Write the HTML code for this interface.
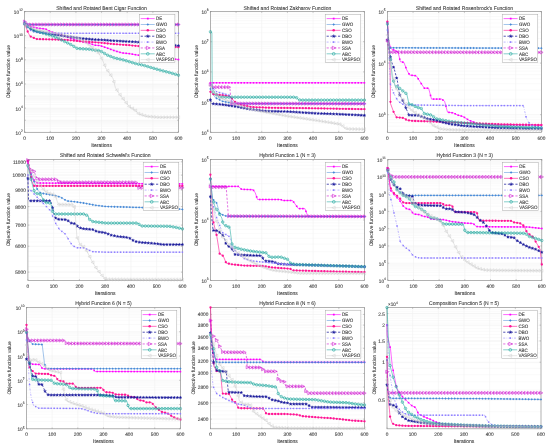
<!DOCTYPE html>
<html lang="en"><head><meta charset="utf-8"><title>Convergence curves</title>
<style>html,body{margin:0;padding:0;background:#fff}body{width:550px;height:448px;overflow:hidden}svg{display:block;text-rendering:geometricPrecision}text{stroke:#3a3a3a;stroke-width:0.09px}</style>
</head><body>
<svg width="550" height="448" viewBox="0 0 550 448" font-family='"Liberation Sans", Arial, sans-serif' fill="#3a3a3a">
<rect width="550" height="448" fill="#fff"/>
<marker id="mDE" markerUnits="userSpaceOnUse" markerWidth="8" markerHeight="8" refX="4" refY="4" viewBox="0 0 8 8" overflow="visible"><rect x="3.2" y="3.2" width="1.6" height="1.6" fill="#ff00ff"/></marker>
<marker id="mGWO" markerUnits="userSpaceOnUse" markerWidth="8" markerHeight="8" refX="4" refY="4" viewBox="0 0 8 8" overflow="visible"><path d="M2.85 4L4 2.85L5.15 4L4 5.15Z" fill="#4488d6"/></marker>
<marker id="mCSO" markerUnits="userSpaceOnUse" markerWidth="8" markerHeight="8" refX="4" refY="4" viewBox="0 0 8 8" overflow="visible"><circle cx="4" cy="4" r="1.15" fill="#ff1493"/></marker>
<marker id="mDBO" markerUnits="userSpaceOnUse" markerWidth="8" markerHeight="8" refX="4" refY="4" viewBox="0 0 8 8" overflow="visible"><polygon points="4,2.45 4.38,3.47 5.47,3.52 4.62,4.2 4.91,5.25 4,4.65 3.09,5.25 3.38,4.2 2.53,3.52 3.62,3.47" fill="#1c1c9c" stroke="#1c1c9c" stroke-width="0.3"/></marker>
<marker id="mBWO" markerUnits="userSpaceOnUse" markerWidth="8" markerHeight="8" refX="4" refY="4" viewBox="0 0 8 8" overflow="visible"><rect x="3.27" y="3.27" width="1.45" height="1.45" fill="#8c7cff"/></marker>
<marker id="mSSA" markerUnits="userSpaceOnUse" markerWidth="8" markerHeight="8" refX="4" refY="4" viewBox="0 0 8 8" overflow="visible"><path d="M2.7 2.44L5.82 4L2.7 5.56Z" fill="none" stroke="#d016d0" stroke-width="0.55"/></marker>
<marker id="mABC" markerUnits="userSpaceOnUse" markerWidth="8" markerHeight="8" refX="4" refY="4" viewBox="0 0 8 8" overflow="visible"><circle cx="4" cy="4" r="1.25" fill="none" stroke="#1fa79d" stroke-width="0.62"/></marker>
<marker id="mVASPSO" markerUnits="userSpaceOnUse" markerWidth="8" markerHeight="8" refX="4" refY="4" viewBox="0 0 8 8" overflow="visible"><path d="M5.25 2.5L2.25 4L5.25 5.5Z" fill="none" stroke="#c8c8c8" stroke-width="0.4"/></marker>
<path d="M50.25 11.5V132.3" stroke="#efefef" stroke-width="0.5"/><path d="M75.9 11.5V132.3" stroke="#efefef" stroke-width="0.5"/><path d="M101.55 11.5V132.3" stroke="#efefef" stroke-width="0.5"/><path d="M127.2 11.5V132.3" stroke="#efefef" stroke-width="0.5"/><path d="M152.85 11.5V132.3" stroke="#efefef" stroke-width="0.5"/><path d="M24.6 128.66H178.5" stroke="#f3f3f3" stroke-width="0.4"/><path d="M24.6 126.54H178.5" stroke="#f3f3f3" stroke-width="0.4"/><path d="M24.6 125.03H178.5" stroke="#f3f3f3" stroke-width="0.4"/><path d="M24.6 123.86H178.5" stroke="#f3f3f3" stroke-width="0.4"/><path d="M24.6 122.9H178.5" stroke="#f3f3f3" stroke-width="0.4"/><path d="M24.6 122.09H178.5" stroke="#f3f3f3" stroke-width="0.4"/><path d="M24.6 121.39H178.5" stroke="#f3f3f3" stroke-width="0.4"/><path d="M24.6 120.77H178.5" stroke="#f3f3f3" stroke-width="0.4"/><path d="M24.6 116.58H178.5" stroke="#f3f3f3" stroke-width="0.4"/><path d="M24.6 114.46H178.5" stroke="#f3f3f3" stroke-width="0.4"/><path d="M24.6 112.95H178.5" stroke="#f3f3f3" stroke-width="0.4"/><path d="M24.6 111.78H178.5" stroke="#f3f3f3" stroke-width="0.4"/><path d="M24.6 110.82H178.5" stroke="#f3f3f3" stroke-width="0.4"/><path d="M24.6 110.01H178.5" stroke="#f3f3f3" stroke-width="0.4"/><path d="M24.6 109.31H178.5" stroke="#f3f3f3" stroke-width="0.4"/><path d="M24.6 108.69H178.5" stroke="#f3f3f3" stroke-width="0.4"/><path d="M24.6 104.5H178.5" stroke="#f3f3f3" stroke-width="0.4"/><path d="M24.6 102.38H178.5" stroke="#f3f3f3" stroke-width="0.4"/><path d="M24.6 100.87H178.5" stroke="#f3f3f3" stroke-width="0.4"/><path d="M24.6 99.7H178.5" stroke="#f3f3f3" stroke-width="0.4"/><path d="M24.6 98.74H178.5" stroke="#f3f3f3" stroke-width="0.4"/><path d="M24.6 97.93H178.5" stroke="#f3f3f3" stroke-width="0.4"/><path d="M24.6 97.23H178.5" stroke="#f3f3f3" stroke-width="0.4"/><path d="M24.6 96.61H178.5" stroke="#f3f3f3" stroke-width="0.4"/><path d="M24.6 92.42H178.5" stroke="#f3f3f3" stroke-width="0.4"/><path d="M24.6 90.3H178.5" stroke="#f3f3f3" stroke-width="0.4"/><path d="M24.6 88.79H178.5" stroke="#f3f3f3" stroke-width="0.4"/><path d="M24.6 87.62H178.5" stroke="#f3f3f3" stroke-width="0.4"/><path d="M24.6 86.66H178.5" stroke="#f3f3f3" stroke-width="0.4"/><path d="M24.6 85.85H178.5" stroke="#f3f3f3" stroke-width="0.4"/><path d="M24.6 85.15H178.5" stroke="#f3f3f3" stroke-width="0.4"/><path d="M24.6 84.53H178.5" stroke="#f3f3f3" stroke-width="0.4"/><path d="M24.6 80.34H178.5" stroke="#f3f3f3" stroke-width="0.4"/><path d="M24.6 78.22H178.5" stroke="#f3f3f3" stroke-width="0.4"/><path d="M24.6 76.71H178.5" stroke="#f3f3f3" stroke-width="0.4"/><path d="M24.6 75.54H178.5" stroke="#f3f3f3" stroke-width="0.4"/><path d="M24.6 74.58H178.5" stroke="#f3f3f3" stroke-width="0.4"/><path d="M24.6 73.77H178.5" stroke="#f3f3f3" stroke-width="0.4"/><path d="M24.6 73.07H178.5" stroke="#f3f3f3" stroke-width="0.4"/><path d="M24.6 72.45H178.5" stroke="#f3f3f3" stroke-width="0.4"/><path d="M24.6 68.26H178.5" stroke="#f3f3f3" stroke-width="0.4"/><path d="M24.6 66.14H178.5" stroke="#f3f3f3" stroke-width="0.4"/><path d="M24.6 64.63H178.5" stroke="#f3f3f3" stroke-width="0.4"/><path d="M24.6 63.46H178.5" stroke="#f3f3f3" stroke-width="0.4"/><path d="M24.6 62.5H178.5" stroke="#f3f3f3" stroke-width="0.4"/><path d="M24.6 61.69H178.5" stroke="#f3f3f3" stroke-width="0.4"/><path d="M24.6 60.99H178.5" stroke="#f3f3f3" stroke-width="0.4"/><path d="M24.6 60.37H178.5" stroke="#f3f3f3" stroke-width="0.4"/><path d="M24.6 56.18H178.5" stroke="#f3f3f3" stroke-width="0.4"/><path d="M24.6 54.06H178.5" stroke="#f3f3f3" stroke-width="0.4"/><path d="M24.6 52.55H178.5" stroke="#f3f3f3" stroke-width="0.4"/><path d="M24.6 51.38H178.5" stroke="#f3f3f3" stroke-width="0.4"/><path d="M24.6 50.42H178.5" stroke="#f3f3f3" stroke-width="0.4"/><path d="M24.6 49.61H178.5" stroke="#f3f3f3" stroke-width="0.4"/><path d="M24.6 48.91H178.5" stroke="#f3f3f3" stroke-width="0.4"/><path d="M24.6 48.29H178.5" stroke="#f3f3f3" stroke-width="0.4"/><path d="M24.6 44.1H178.5" stroke="#f3f3f3" stroke-width="0.4"/><path d="M24.6 41.98H178.5" stroke="#f3f3f3" stroke-width="0.4"/><path d="M24.6 40.47H178.5" stroke="#f3f3f3" stroke-width="0.4"/><path d="M24.6 39.3H178.5" stroke="#f3f3f3" stroke-width="0.4"/><path d="M24.6 38.34H178.5" stroke="#f3f3f3" stroke-width="0.4"/><path d="M24.6 37.53H178.5" stroke="#f3f3f3" stroke-width="0.4"/><path d="M24.6 36.83H178.5" stroke="#f3f3f3" stroke-width="0.4"/><path d="M24.6 36.21H178.5" stroke="#f3f3f3" stroke-width="0.4"/><path d="M24.6 32.02H178.5" stroke="#f3f3f3" stroke-width="0.4"/><path d="M24.6 29.9H178.5" stroke="#f3f3f3" stroke-width="0.4"/><path d="M24.6 28.39H178.5" stroke="#f3f3f3" stroke-width="0.4"/><path d="M24.6 27.22H178.5" stroke="#f3f3f3" stroke-width="0.4"/><path d="M24.6 26.26H178.5" stroke="#f3f3f3" stroke-width="0.4"/><path d="M24.6 25.45H178.5" stroke="#f3f3f3" stroke-width="0.4"/><path d="M24.6 24.75H178.5" stroke="#f3f3f3" stroke-width="0.4"/><path d="M24.6 24.13H178.5" stroke="#f3f3f3" stroke-width="0.4"/><path d="M24.6 19.94H178.5" stroke="#f3f3f3" stroke-width="0.4"/><path d="M24.6 17.82H178.5" stroke="#f3f3f3" stroke-width="0.4"/><path d="M24.6 16.31H178.5" stroke="#f3f3f3" stroke-width="0.4"/><path d="M24.6 15.14H178.5" stroke="#f3f3f3" stroke-width="0.4"/><path d="M24.6 14.18H178.5" stroke="#f3f3f3" stroke-width="0.4"/><path d="M24.6 13.37H178.5" stroke="#f3f3f3" stroke-width="0.4"/><path d="M24.6 12.67H178.5" stroke="#f3f3f3" stroke-width="0.4"/><path d="M24.6 12.05H178.5" stroke="#f3f3f3" stroke-width="0.4"/><path d="M24.6 120.22H178.5" stroke="#efefef" stroke-width="0.5"/><path d="M24.6 108.14H178.5" stroke="#efefef" stroke-width="0.5"/><path d="M24.6 96.06H178.5" stroke="#efefef" stroke-width="0.5"/><path d="M24.6 83.98H178.5" stroke="#efefef" stroke-width="0.5"/><path d="M24.6 71.9H178.5" stroke="#efefef" stroke-width="0.5"/><path d="M24.6 59.82H178.5" stroke="#efefef" stroke-width="0.5"/><path d="M24.6 47.74H178.5" stroke="#efefef" stroke-width="0.5"/><path d="M24.6 35.66H178.5" stroke="#efefef" stroke-width="0.5"/><path d="M24.6 23.58H178.5" stroke="#efefef" stroke-width="0.5"/>
<rect x="24.6" y="11.5" width="153.9" height="120.8" fill="none" stroke="#909090" stroke-width="0.7"/>
<path d="M24.6 132.3v-1.4M24.6 11.5v1.4M50.25 132.3v-1.4M50.25 11.5v1.4M75.9 132.3v-1.4M75.9 11.5v1.4M101.55 132.3v-1.4M101.55 11.5v1.4M127.2 132.3v-1.4M127.2 11.5v1.4M152.85 132.3v-1.4M152.85 11.5v1.4M178.5 132.3v-1.4M178.5 11.5v1.4M24.6 132.3h1.4M178.5 132.3h-1.4M24.6 120.22h1.4M178.5 120.22h-1.4M24.6 108.14h1.4M178.5 108.14h-1.4M24.6 96.06h1.4M178.5 96.06h-1.4M24.6 83.98h1.4M178.5 83.98h-1.4M24.6 71.9h1.4M178.5 71.9h-1.4M24.6 59.82h1.4M178.5 59.82h-1.4M24.6 47.74h1.4M178.5 47.74h-1.4M24.6 35.66h1.4M178.5 35.66h-1.4M24.6 23.58h1.4M178.5 23.58h-1.4M24.6 11.5h1.4M178.5 11.5h-1.4" stroke="#909090" stroke-width="0.45" fill="none"/>
<clipPath id="c13"><rect x="22.6" y="9.5" width="157.9" height="124.8"/></clipPath><g clip-path="url(#c13)"><path d="M24.6 23.8L30.7 26.7L38 28.2L45.3 28.9L51.1 31.8L58.4 34L65.6 36.2L72.9 39.1L80.2 41.3L87.5 42.7L94.7 45.2L100 45.6L107.3 48.1L114.5 50.7L121.8 52.9L129.1 53.6L137.8 55.1L160 57.5L178.5 59.5" fill="none" stroke="#ff00ff" stroke-width="0.6" stroke-linejoin="round"/><polyline points="24.6,23.8 27.68,25.26 30.76,26.71 33.83,27.34 36.91,27.98 39.99,28.39 43.07,28.69 46.15,29.32 49.22,30.86 52.3,32.16 55.38,33.09 58.46,34.02 61.54,34.96 64.61,35.9 67.69,37.03 70.77,38.25 73.85,39.39 76.93,40.31 80,41.24 83.08,41.85 86.16,42.44 89.24,43.3 92.32,44.37 95.39,45.25 98.47,45.48 101.55,46.13 104.63,47.18 107.71,48.25 110.78,49.36 113.86,50.47 116.94,51.44 120.02,52.36 123.1,53.02 126.17,53.32 129.25,53.63 132.33,54.16 135.41,54.69 138.49,55.17 141.56,55.51 144.64,55.84 147.72,56.17 150.8,56.51 153.88,56.84 156.95,57.17 160.03,57.5 163.11,57.84 166.19,58.17 169.27,58.5 172.34,58.83 175.42,59.17 178.5,59.5" fill="none" stroke="none" marker-start="url(#mDE)" marker-mid="url(#mDE)" marker-end="url(#mDE)"/><path d="M24.6 22L27.8 24.5L30 24.7L178.5 24.7" fill="none" stroke="#4488d6" stroke-width="0.5" stroke-linejoin="round"/><polyline points="24.6,22 27.68,24.4 30.76,24.7 33.83,24.7 36.91,24.7 39.99,24.7 43.07,24.7 46.15,24.7 49.22,24.7 52.3,24.7 55.38,24.7 58.46,24.7 61.54,24.7 64.61,24.7 67.69,24.7 70.77,24.7 73.85,24.7 76.93,24.7 80,24.7 83.08,24.7 86.16,24.7 89.24,24.7 92.32,24.7 95.39,24.7 98.47,24.7 101.55,24.7 104.63,24.7 107.71,24.7 110.78,24.7 113.86,24.7 116.94,24.7 120.02,24.7 123.1,24.7 126.17,24.7 129.25,24.7 132.33,24.7 135.41,24.7 138.49,24.7 141.56,24.7 144.64,24.7 147.72,24.7 150.8,24.7 153.88,24.7 156.95,24.7 160.03,24.7 163.11,24.7 166.19,24.7 169.27,24.7 172.34,24.7 175.42,24.7 178.5,24.7" fill="none" stroke="none" marker-start="url(#mGWO)" marker-mid="url(#mGWO)" marker-end="url(#mGWO)"/><path d="M24.6 23.8L27.8 31.8L30 36.2L36.5 39.1L65.6 39.8L80.2 41.3L100 42.7L114.5 44.2L129.1 45.2L137.8 46.1L178.5 47.1" fill="none" stroke="#ff1493" stroke-width="0.6" stroke-linejoin="round"/><polyline points="24.6,23.8 27.68,31.5 30.76,36.54 33.83,37.91 36.91,39.11 39.99,39.18 43.07,39.26 46.15,39.33 49.22,39.41 52.3,39.48 55.38,39.55 58.46,39.63 61.54,39.7 64.61,39.78 67.69,40.01 70.77,40.33 73.85,40.65 76.93,40.96 80,41.28 83.08,41.5 86.16,41.72 89.24,41.94 92.32,42.16 95.39,42.37 98.47,42.59 101.55,42.86 104.63,43.18 107.71,43.5 110.78,43.82 113.86,44.13 116.94,44.37 120.02,44.58 123.1,44.79 126.17,45 129.25,45.22 132.33,45.53 135.41,45.85 138.49,46.12 141.56,46.19 144.64,46.27 147.72,46.34 150.8,46.42 153.88,46.49 156.95,46.57 160.03,46.65 163.11,46.72 166.19,46.8 169.27,46.87 172.34,46.95 175.42,47.02 178.5,47.1" fill="none" stroke="none" marker-start="url(#mCSO)" marker-mid="url(#mCSO)" marker-end="url(#mCSO)"/><path d="M24.6 23.8L30.7 28.9L36.5 31.8L51.1 34L65.6 36.2L80.2 38.4L94.7 39.6L100 39.8L114.5 40.8L136.4 42L160 44L178.5 45.7" fill="none" stroke="#1c1c9c" stroke-width="0.75" stroke-dasharray="2.2,1.6" stroke-linejoin="round"/><polyline points="24.6,23.8 27.68,26.37 30.76,28.93 33.83,30.47 36.91,31.86 39.99,32.33 43.07,32.79 46.15,33.25 49.22,33.72 52.3,34.18 55.38,34.65 58.46,35.12 61.54,35.58 64.61,36.05 67.69,36.52 70.77,36.98 73.85,37.44 76.93,37.91 80,38.37 83.08,38.64 86.16,38.89 89.24,39.15 92.32,39.4 95.39,39.63 98.47,39.74 101.55,39.91 104.63,40.12 107.71,40.33 110.78,40.54 113.86,40.76 116.94,40.93 120.02,41.1 123.1,41.27 126.17,41.44 129.25,41.61 132.33,41.78 135.41,41.95 138.49,42.18 141.56,42.44 144.64,42.7 147.72,42.96 150.8,43.22 153.88,43.48 156.95,43.74 160.03,44 163.11,44.29 166.19,44.57 169.27,44.85 172.34,45.13 175.42,45.42 178.5,45.7" fill="none" stroke="none" marker-start="url(#mDBO)" marker-mid="url(#mDBO)" marker-end="url(#mDBO)"/><path d="M24.6 23.8L27.8 27.5L30.7 30.4L33.6 31.8L43.8 33L65.6 33.3L178.5 33.3" fill="none" stroke="#8c7cff" stroke-width="0.55" stroke-dasharray="2.0,1.4,0.6,1.4" stroke-linejoin="round"/><polyline points="24.6,23.8 27.68,27.36 30.76,30.43 33.83,31.83 36.91,32.19 39.99,32.55 43.07,32.91 46.15,33.03 49.22,33.07 52.3,33.12 55.38,33.16 58.46,33.2 61.54,33.24 64.61,33.29 67.69,33.3 70.77,33.3 73.85,33.3 76.93,33.3 80,33.3 83.08,33.3 86.16,33.3 89.24,33.3 92.32,33.3 95.39,33.3 98.47,33.3 101.55,33.3 104.63,33.3 107.71,33.3 110.78,33.3 113.86,33.3 116.94,33.3 120.02,33.3 123.1,33.3 126.17,33.3 129.25,33.3 132.33,33.3 135.41,33.3 138.49,33.3 141.56,33.3 144.64,33.3 147.72,33.3 150.8,33.3 153.88,33.3 156.95,33.3 160.03,33.3 163.11,33.3 166.19,33.3 169.27,33.3 172.34,33.3 175.42,33.3 178.5,33.3" fill="none" stroke="none" marker-start="url(#mBWO)" marker-mid="url(#mBWO)" marker-end="url(#mBWO)"/><path d="M24.6 21.6L27.8 24.3L30 24.5L178.5 24.5" fill="none" stroke="#d016d0" stroke-width="0.6" stroke-dasharray="2.2,1.6" stroke-linejoin="round"/><polyline points="24.6,21.6 27.68,24.2 30.76,24.5 33.83,24.5 36.91,24.5 39.99,24.5 43.07,24.5 46.15,24.5 49.22,24.5 52.3,24.5 55.38,24.5 58.46,24.5 61.54,24.5 64.61,24.5 67.69,24.5 70.77,24.5 73.85,24.5 76.93,24.5 80,24.5 83.08,24.5 86.16,24.5 89.24,24.5 92.32,24.5 95.39,24.5 98.47,24.5 101.55,24.5 104.63,24.5 107.71,24.5 110.78,24.5 113.86,24.5 116.94,24.5 120.02,24.5 123.1,24.5 126.17,24.5 129.25,24.5 132.33,24.5 135.41,24.5 138.49,24.5 141.56,24.5 144.64,24.5 147.72,24.5 150.8,24.5 153.88,24.5 156.95,24.5 160.03,24.5 163.11,24.5 166.19,24.5 169.27,24.5 172.34,24.5 175.42,24.5 178.5,24.5" fill="none" stroke="none" marker-start="url(#mSSA)" marker-mid="url(#mSSA)" marker-end="url(#mSSA)"/><path d="M24.6 23.8L27.8 26.7L33.6 30.4L43.8 33.3L51.1 35.5L58.4 38.4L65.6 42L71.5 44.9L77.3 48.5L90.4 49.3L94.7 50.3L100 50.7L107.3 55.1L114.5 58L121.8 59.5L129.1 61.6L136.4 63.8L143.6 65.3L150.9 67.5L161.1 70.4L169.8 72.6L178.5 75.2" fill="none" stroke="#1fa79d" stroke-width="0.55" stroke-linejoin="round"/><polyline points="24.6,23.8 27.68,26.59 30.76,28.59 33.83,30.47 36.91,31.34 39.99,32.22 43.07,33.09 46.15,34.01 49.22,34.93 52.3,35.98 55.38,37.2 58.46,38.43 61.54,39.97 64.61,41.51 67.69,43.03 70.77,44.54 73.85,46.36 76.93,48.27 80,48.67 83.08,48.85 86.16,49.04 89.24,49.23 92.32,49.75 95.39,50.35 98.47,50.58 101.55,51.63 104.63,53.49 107.71,55.26 110.78,56.5 113.86,57.74 116.94,58.5 120.02,59.13 123.1,59.87 126.17,60.76 129.25,61.65 132.33,62.57 135.41,63.5 138.49,64.23 141.56,64.88 144.64,65.61 147.72,66.54 150.8,67.47 153.88,68.35 156.95,69.22 160.03,70.1 163.11,70.91 166.19,71.69 169.27,72.46 172.34,73.36 175.42,74.28 178.5,75.2" fill="none" stroke="none" marker-start="url(#mABC)" marker-mid="url(#mABC)" marker-end="url(#mABC)"/><path d="M24.6 23.8L29.3 26.7L36.5 29.6L51.1 32.5L65.6 35.5L80.2 39.1L87.5 43.5L94.7 49.3L99.1 53.6L102.9 60.9L105.8 68.2L108.7 72L113.1 78.7L115.3 87.5L118.9 93.3L123.3 99.1L129.1 106.4L134.9 110L138.5 113.6L146.5 116.3L158.2 117.3L178.5 117.3" fill="none" stroke="#c8c8c8" stroke-width="0.45" stroke-linejoin="round"/><polyline points="24.6,23.8 27.68,25.7 30.76,27.29 33.83,28.53 36.91,29.68 39.99,30.29 43.07,30.9 46.15,31.52 49.22,32.13 52.3,32.75 55.38,33.39 58.46,34.02 61.54,34.66 64.61,35.3 67.69,36.02 70.77,36.77 73.85,37.53 76.93,38.29 80,39.05 83.08,40.84 86.16,42.69 89.24,44.9 92.32,47.38 95.39,49.98 98.47,52.99 101.55,58.31 104.63,65.25 107.71,70.7 110.78,75.17 113.86,81.75 116.94,90.14 120.02,94.77 123.1,98.83 126.17,102.72 129.25,106.49 132.33,108.4 135.41,110.51 138.49,113.59 141.56,114.63 144.64,115.67 147.72,116.4 150.8,116.67 153.88,116.93 156.95,117.19 160.03,117.3 163.11,117.3 166.19,117.3 169.27,117.3 172.34,117.3 175.42,117.3 178.5,117.3" fill="none" stroke="none" marker-start="url(#mVASPSO)" marker-mid="url(#mVASPSO)" marker-end="url(#mVASPSO)"/></g>
<text transform="translate(24.6 139.6) scale(1 1.078)" font-size="4.75" text-anchor="middle">0</text><text transform="translate(50.25 139.6) scale(1 1.078)" font-size="4.75" text-anchor="middle">100</text><text transform="translate(75.9 139.6) scale(1 1.078)" font-size="4.75" text-anchor="middle">200</text><text transform="translate(101.55 139.6) scale(1 1.078)" font-size="4.75" text-anchor="middle">300</text><text transform="translate(127.2 139.6) scale(1 1.078)" font-size="4.75" text-anchor="middle">400</text><text transform="translate(152.85 139.6) scale(1 1.078)" font-size="4.75" text-anchor="middle">500</text><text transform="translate(178.5 139.6) scale(1 1.078)" font-size="4.75" text-anchor="middle">600</text><text transform="translate(19.05 14) scale(1 1.078)" font-size="4.7" text-anchor="end">10</text><text transform="translate(19.15 11.4) scale(1 1.078)" font-size="3.2">12</text><text transform="translate(19.05 38.16) scale(1 1.078)" font-size="4.7" text-anchor="end">10</text><text transform="translate(19.15 35.56) scale(1 1.078)" font-size="3.2">10</text><text transform="translate(20.82 62.32) scale(1 1.078)" font-size="4.7" text-anchor="end">10</text><text transform="translate(20.92 59.72) scale(1 1.078)" font-size="3.2">8</text><text transform="translate(20.82 86.48) scale(1 1.078)" font-size="4.7" text-anchor="end">10</text><text transform="translate(20.92 83.88) scale(1 1.078)" font-size="3.2">6</text><text transform="translate(20.82 110.64) scale(1 1.078)" font-size="4.7" text-anchor="end">10</text><text transform="translate(20.92 108.04) scale(1 1.078)" font-size="3.2">4</text><text transform="translate(20.82 134.8) scale(1 1.078)" font-size="4.7" text-anchor="end">10</text><text transform="translate(20.92 132.2) scale(1 1.078)" font-size="3.2">2</text><text transform="translate(101.55 146.6) scale(1 1.078)" font-size="5.05" text-anchor="middle">Iterations</text><text transform="translate(101.55 9.6) scale(1 1.078)" font-size="5.05" text-anchor="middle">Shifted and Rotated Bent Cigar Function</text><text transform="translate(10.15 71.6) rotate(-90)" font-size="5.03" text-anchor="middle">Objective function value</text>
<rect x="139.3" y="14.4" width="35.6" height="48.0" fill="#fff" stroke="#a0a0a0" stroke-width="0.45"/><path d="M140.7 18.6H154.7" stroke="#ff00ff" stroke-width="0.6" fill="none"/><rect x="146.92" y="17.72" width="1.76" height="1.76" fill="#ff00ff"/><text transform="translate(156 20.3) scale(1 1.078)" font-size="4.5">DE</text><path d="M140.7 24.47H154.7" stroke="#4488d6" stroke-width="0.5" fill="none"/><path d="M146.54 24.47L147.8 23.21L149.06 24.47L147.8 25.74Z" fill="#4488d6"/><text transform="translate(156 26.17) scale(1 1.078)" font-size="4.5">GWO</text><path d="M140.7 30.34H154.7" stroke="#ff1493" stroke-width="0.6" fill="none"/><circle cx="147.8" cy="30.34" r="1.26" fill="#ff1493"/><text transform="translate(156 32.04) scale(1 1.078)" font-size="4.5">CSO</text><path d="M140.7 36.21H154.7" stroke="#1c1c9c" stroke-width="0.75" stroke-dasharray="2.2,1.6" fill="none"/><polygon points="147.8,34.51 148.22,35.63 149.42,35.68 148.48,36.43 148.8,37.59 147.8,36.93 146.8,37.59 147.12,36.43 146.18,35.68 147.38,35.63" fill="#1c1c9c" stroke="#1c1c9c" stroke-width="0.3"/><text transform="translate(156 37.91) scale(1 1.078)" font-size="4.5">DBO</text><path d="M140.7 42.08H154.7" stroke="#8c7cff" stroke-width="0.55" stroke-dasharray="2.0,1.4,0.6,1.4" fill="none"/><rect x="147" y="41.28" width="1.59" height="1.59" fill="#8c7cff"/><text transform="translate(156 43.78) scale(1 1.078)" font-size="4.5">BWO</text><path d="M140.7 47.95H154.7" stroke="#d016d0" stroke-width="0.6" stroke-dasharray="2.2,1.6" fill="none"/><path d="M146.37 46.23L149.8 47.95L146.37 49.67Z" fill="none" stroke="#d016d0" stroke-width="0.55"/><text transform="translate(156 49.65) scale(1 1.078)" font-size="4.5">SSA</text><path d="M140.7 53.82H154.7" stroke="#1fa79d" stroke-width="0.55" fill="none"/><circle cx="147.8" cy="53.82" r="1.38" fill="none" stroke="#1fa79d" stroke-width="0.62"/><text transform="translate(156 55.52) scale(1 1.078)" font-size="4.5">ABC</text><path d="M140.7 59.69H154.7" stroke="#c8c8c8" stroke-width="0.45" fill="none"/><path d="M149.18 58.04L145.88 59.69L149.18 61.34Z" fill="none" stroke="#c8c8c8" stroke-width="0.4"/><text transform="translate(156 61.39) scale(1 1.078)" font-size="4.5">VASPSO</text>
<path d="M236.07 11.5V132.3" stroke="#efefef" stroke-width="0.5"/><path d="M261.73 11.5V132.3" stroke="#efefef" stroke-width="0.5"/><path d="M287.4 11.5V132.3" stroke="#efefef" stroke-width="0.5"/><path d="M313.07 11.5V132.3" stroke="#efefef" stroke-width="0.5"/><path d="M338.73 11.5V132.3" stroke="#efefef" stroke-width="0.5"/><path d="M210.4 123.21H364.4" stroke="#f3f3f3" stroke-width="0.4"/><path d="M210.4 117.89H364.4" stroke="#f3f3f3" stroke-width="0.4"/><path d="M210.4 114.12H364.4" stroke="#f3f3f3" stroke-width="0.4"/><path d="M210.4 111.19H364.4" stroke="#f3f3f3" stroke-width="0.4"/><path d="M210.4 108.8H364.4" stroke="#f3f3f3" stroke-width="0.4"/><path d="M210.4 106.78H364.4" stroke="#f3f3f3" stroke-width="0.4"/><path d="M210.4 105.03H364.4" stroke="#f3f3f3" stroke-width="0.4"/><path d="M210.4 103.48H364.4" stroke="#f3f3f3" stroke-width="0.4"/><path d="M210.4 93.01H364.4" stroke="#f3f3f3" stroke-width="0.4"/><path d="M210.4 87.69H364.4" stroke="#f3f3f3" stroke-width="0.4"/><path d="M210.4 83.92H364.4" stroke="#f3f3f3" stroke-width="0.4"/><path d="M210.4 80.99H364.4" stroke="#f3f3f3" stroke-width="0.4"/><path d="M210.4 78.6H364.4" stroke="#f3f3f3" stroke-width="0.4"/><path d="M210.4 76.58H364.4" stroke="#f3f3f3" stroke-width="0.4"/><path d="M210.4 74.83H364.4" stroke="#f3f3f3" stroke-width="0.4"/><path d="M210.4 73.28H364.4" stroke="#f3f3f3" stroke-width="0.4"/><path d="M210.4 62.81H364.4" stroke="#f3f3f3" stroke-width="0.4"/><path d="M210.4 57.49H364.4" stroke="#f3f3f3" stroke-width="0.4"/><path d="M210.4 53.72H364.4" stroke="#f3f3f3" stroke-width="0.4"/><path d="M210.4 50.79H364.4" stroke="#f3f3f3" stroke-width="0.4"/><path d="M210.4 48.4H364.4" stroke="#f3f3f3" stroke-width="0.4"/><path d="M210.4 46.38H364.4" stroke="#f3f3f3" stroke-width="0.4"/><path d="M210.4 44.63H364.4" stroke="#f3f3f3" stroke-width="0.4"/><path d="M210.4 43.08H364.4" stroke="#f3f3f3" stroke-width="0.4"/><path d="M210.4 32.61H364.4" stroke="#f3f3f3" stroke-width="0.4"/><path d="M210.4 27.29H364.4" stroke="#f3f3f3" stroke-width="0.4"/><path d="M210.4 23.52H364.4" stroke="#f3f3f3" stroke-width="0.4"/><path d="M210.4 20.59H364.4" stroke="#f3f3f3" stroke-width="0.4"/><path d="M210.4 18.2H364.4" stroke="#f3f3f3" stroke-width="0.4"/><path d="M210.4 16.18H364.4" stroke="#f3f3f3" stroke-width="0.4"/><path d="M210.4 14.43H364.4" stroke="#f3f3f3" stroke-width="0.4"/><path d="M210.4 12.88H364.4" stroke="#f3f3f3" stroke-width="0.4"/><path d="M210.4 102.1H364.4" stroke="#efefef" stroke-width="0.5"/><path d="M210.4 71.9H364.4" stroke="#efefef" stroke-width="0.5"/><path d="M210.4 41.7H364.4" stroke="#efefef" stroke-width="0.5"/>
<rect x="210.4" y="11.5" width="154" height="120.8" fill="none" stroke="#909090" stroke-width="0.7"/>
<path d="M210.4 132.3v-1.4M210.4 11.5v1.4M236.07 132.3v-1.4M236.07 11.5v1.4M261.73 132.3v-1.4M261.73 11.5v1.4M287.4 132.3v-1.4M287.4 11.5v1.4M313.07 132.3v-1.4M313.07 11.5v1.4M338.73 132.3v-1.4M338.73 11.5v1.4M364.4 132.3v-1.4M364.4 11.5v1.4M210.4 132.3h1.4M364.4 132.3h-1.4M210.4 102.1h1.4M364.4 102.1h-1.4M210.4 71.9h1.4M364.4 71.9h-1.4M210.4 41.7h1.4M364.4 41.7h-1.4M210.4 11.5h1.4M364.4 11.5h-1.4" stroke="#909090" stroke-width="0.45" fill="none"/>
<clipPath id="c19"><rect x="208.4" y="9.5" width="158" height="124.8"/></clipPath><g clip-path="url(#c19)"><path d="M210.4 82.8L364.4 82.8" fill="none" stroke="#ff00ff" stroke-width="0.6" stroke-linejoin="round"/><polyline points="210.4,82.8 213.48,82.8 216.56,82.8 219.64,82.8 222.72,82.8 225.8,82.8 228.88,82.8 231.96,82.8 235.04,82.8 238.12,82.8 241.2,82.8 244.28,82.8 247.36,82.8 250.44,82.8 253.52,82.8 256.6,82.8 259.68,82.8 262.76,82.8 265.84,82.8 268.92,82.8 272,82.8 275.08,82.8 278.16,82.8 281.24,82.8 284.32,82.8 287.4,82.8 290.48,82.8 293.56,82.8 296.64,82.8 299.72,82.8 302.8,82.8 305.88,82.8 308.96,82.8 312.04,82.8 315.12,82.8 318.2,82.8 321.28,82.8 324.36,82.8 327.44,82.8 330.52,82.8 333.6,82.8 336.68,82.8 339.76,82.8 342.84,82.8 345.92,82.8 349,82.8 352.08,82.8 355.16,82.8 358.24,82.8 361.32,82.8 364.4,82.8" fill="none" stroke="none" marker-start="url(#mDE)" marker-mid="url(#mDE)" marker-end="url(#mDE)"/><path d="M210.4 88.9L215.3 97.6L222.5 101.3L229.8 102.7L235 103.7L364.4 103.7" fill="none" stroke="#4488d6" stroke-width="0.5" stroke-linejoin="round"/><polyline points="210.4,88.9 213.48,94.37 216.56,98.25 219.64,99.83 222.72,101.34 225.8,101.93 228.88,102.52 231.96,103.12 235.04,103.7 238.12,103.7 241.2,103.7 244.28,103.7 247.36,103.7 250.44,103.7 253.52,103.7 256.6,103.7 259.68,103.7 262.76,103.7 265.84,103.7 268.92,103.7 272,103.7 275.08,103.7 278.16,103.7 281.24,103.7 284.32,103.7 287.4,103.7 290.48,103.7 293.56,103.7 296.64,103.7 299.72,103.7 302.8,103.7 305.88,103.7 308.96,103.7 312.04,103.7 315.12,103.7 318.2,103.7 321.28,103.7 324.36,103.7 327.44,103.7 330.52,103.7 333.6,103.7 336.68,103.7 339.76,103.7 342.84,103.7 345.92,103.7 349,103.7 352.08,103.7 355.16,103.7 358.24,103.7 361.32,103.7 364.4,103.7" fill="none" stroke="none" marker-start="url(#mGWO)" marker-mid="url(#mGWO)" marker-end="url(#mGWO)"/><path d="M210.4 91.8L213.8 94.4L229.8 95.9L233.5 100.5L237 103.5L244.4 105.6L251.6 107.1L270 107.8L300 108.1L364.4 109.2" fill="none" stroke="#ff1493" stroke-width="0.6" stroke-linejoin="round"/><polyline points="210.4,91.8 213.48,94.16 216.56,94.66 219.64,94.95 222.72,95.24 225.8,95.53 228.88,95.81 231.96,98.59 235.04,101.82 238.12,103.82 241.2,104.69 244.28,105.57 247.36,106.22 250.44,106.86 253.52,107.17 256.6,107.29 259.68,107.41 262.76,107.52 265.84,107.64 268.92,107.76 272,107.82 275.08,107.85 278.16,107.88 281.24,107.91 284.32,107.94 287.4,107.97 290.48,108 293.56,108.04 296.64,108.07 299.72,108.1 302.8,108.15 305.88,108.2 308.96,108.25 312.04,108.31 315.12,108.36 318.2,108.41 321.28,108.46 324.36,108.52 327.44,108.57 330.52,108.62 333.6,108.67 336.68,108.73 339.76,108.78 342.84,108.83 345.92,108.88 349,108.94 352.08,108.99 355.16,109.04 358.24,109.09 361.32,109.15 364.4,109.2" fill="none" stroke="none" marker-start="url(#mCSO)" marker-mid="url(#mCSO)" marker-end="url(#mCSO)"/><path d="M210.4 99.8L211.6 103.7L222.5 104.6L237.1 106.7L248.7 109L266.2 111.2L286 111.5L315.1 113.3L344.2 114.4L364.4 115.4" fill="none" stroke="#1c1c9c" stroke-width="0.75" stroke-dasharray="2.2,1.6" stroke-linejoin="round"/><polyline points="210.4,99.8 213.48,103.86 216.56,104.11 219.64,104.36 222.72,104.63 225.8,105.07 228.88,105.52 231.96,105.96 235.04,106.4 238.12,106.9 241.2,107.51 244.28,108.12 247.36,108.73 250.44,109.22 253.52,109.61 256.6,109.99 259.68,110.38 262.76,110.77 265.84,111.15 268.92,111.24 272,111.29 275.08,111.33 278.16,111.38 281.24,111.43 284.32,111.47 287.4,111.59 290.48,111.78 293.56,111.97 296.64,112.16 299.72,112.35 302.8,112.54 305.88,112.73 308.96,112.92 312.04,113.11 315.12,113.3 318.2,113.42 321.28,113.53 324.36,113.65 327.44,113.77 330.52,113.88 333.6,114 336.68,114.12 339.76,114.23 342.84,114.35 345.92,114.49 349,114.64 352.08,114.79 355.16,114.94 358.24,115.1 361.32,115.25 364.4,115.4" fill="none" stroke="none" marker-start="url(#mDBO)" marker-mid="url(#mDBO)" marker-end="url(#mDBO)"/><path d="M210.4 85L212.4 87.5L216.7 91.8L222.5 93.3L229.8 95.5L232.7 103.5L364.4 103.9" fill="none" stroke="#8c7cff" stroke-width="0.55" stroke-dasharray="2.0,1.4,0.6,1.4" stroke-linejoin="round"/><polyline points="210.4,85 213.48,88.58 216.56,91.66 219.64,92.56 222.72,93.37 225.8,94.29 228.88,95.22 231.96,101.46 235.04,103.51 238.12,103.52 241.2,103.53 244.28,103.54 247.36,103.54 250.44,103.55 253.52,103.56 256.6,103.57 259.68,103.58 262.76,103.59 265.84,103.6 268.92,103.61 272,103.62 275.08,103.63 278.16,103.64 281.24,103.65 284.32,103.66 287.4,103.67 290.48,103.68 293.56,103.68 296.64,103.69 299.72,103.7 302.8,103.71 305.88,103.72 308.96,103.73 312.04,103.74 315.12,103.75 318.2,103.76 321.28,103.77 324.36,103.78 327.44,103.79 330.52,103.8 333.6,103.81 336.68,103.82 339.76,103.83 342.84,103.83 345.92,103.84 349,103.85 352.08,103.86 355.16,103.87 358.24,103.88 361.32,103.89 364.4,103.9" fill="none" stroke="none" marker-start="url(#mBWO)" marker-mid="url(#mBWO)" marker-end="url(#mBWO)"/><path d="M210.4 84.5L211.6 87.2L229.8 87.2L231.3 103.5L364.4 103.7" fill="none" stroke="#d016d0" stroke-width="0.6" stroke-dasharray="2.2,1.6" stroke-linejoin="round"/><polyline points="210.4,84.5 213.48,87.2 216.56,87.2 219.64,87.2 222.72,87.2 225.8,87.2 228.88,87.2 231.96,103.5 235.04,103.51 238.12,103.51 241.2,103.51 244.28,103.52 247.36,103.52 250.44,103.53 253.52,103.53 256.6,103.54 259.68,103.54 262.76,103.55 265.84,103.55 268.92,103.56 272,103.56 275.08,103.57 278.16,103.57 281.24,103.58 284.32,103.58 287.4,103.58 290.48,103.59 293.56,103.59 296.64,103.6 299.72,103.6 302.8,103.61 305.88,103.61 308.96,103.62 312.04,103.62 315.12,103.63 318.2,103.63 321.28,103.64 324.36,103.64 327.44,103.64 330.52,103.65 333.6,103.65 336.68,103.66 339.76,103.66 342.84,103.67 345.92,103.67 349,103.68 352.08,103.68 355.16,103.69 358.24,103.69 361.32,103.7 364.4,103.7" fill="none" stroke="none" marker-start="url(#mSSA)" marker-mid="url(#mSSA)" marker-end="url(#mSSA)"/><path d="M210.4 31.8L211.9 32.6L212.2 86L213.1 91.8L215.3 94L219.6 96.9L225 97.2L296.2 97.2L298.4 99.8L301 100.1L364.4 100.1" fill="none" stroke="#1fa79d" stroke-width="0.55" stroke-linejoin="round"/><polyline points="210.4,31.8 213.48,92.18 216.56,94.85 219.64,96.9 222.72,97.07 225.8,97.2 228.88,97.2 231.96,97.2 235.04,97.2 238.12,97.2 241.2,97.2 244.28,97.2 247.36,97.2 250.44,97.2 253.52,97.2 256.6,97.2 259.68,97.2 262.76,97.2 265.84,97.2 268.92,97.2 272,97.2 275.08,97.2 278.16,97.2 281.24,97.2 284.32,97.2 287.4,97.2 290.48,97.2 293.56,97.2 296.64,97.72 299.72,99.95 302.8,100.1 305.88,100.1 308.96,100.1 312.04,100.1 315.12,100.1 318.2,100.1 321.28,100.1 324.36,100.1 327.44,100.1 330.52,100.1 333.6,100.1 336.68,100.1 339.76,100.1 342.84,100.1 345.92,100.1 349,100.1 352.08,100.1 355.16,100.1 358.24,100.1 361.32,100.1 364.4,100.1" fill="none" stroke="none" marker-start="url(#mABC)" marker-mid="url(#mABC)" marker-end="url(#mABC)"/><path d="M210.4 86L213 92L219.6 97.6L229.8 101.3L237.1 104.9L251.6 109.3L266.2 112.2L286 115.8L300.5 118L315.1 120.2L329.6 122.4L341.3 124.5L344.2 127.5L347.1 128.9L364.4 129.3" fill="none" stroke="#c8c8c8" stroke-width="0.45" stroke-linejoin="round"/><polyline points="210.4,86 213.48,92.41 216.56,95.02 219.64,97.61 222.72,98.73 225.8,99.85 228.88,100.97 231.96,102.37 235.04,103.88 238.12,105.21 241.2,106.14 244.28,107.08 247.36,108.01 250.44,108.95 253.52,109.68 256.6,110.29 259.68,110.9 262.76,111.52 265.84,112.13 268.92,112.69 272,113.25 275.08,113.81 278.16,114.37 281.24,114.93 284.32,115.49 287.4,116.01 290.48,116.48 293.56,116.95 296.64,117.41 299.72,117.88 302.8,118.35 305.88,118.81 308.96,119.27 312.04,119.74 315.12,120.2 318.2,120.67 321.28,121.14 324.36,121.6 327.44,122.07 330.52,122.57 333.6,123.12 336.68,123.67 339.76,124.22 342.84,126.09 345.92,128.33 349,128.94 352.08,129.02 355.16,129.09 358.24,129.16 361.32,129.23 364.4,129.3" fill="none" stroke="none" marker-start="url(#mVASPSO)" marker-mid="url(#mVASPSO)" marker-end="url(#mVASPSO)"/></g>
<text transform="translate(210.4 139.6) scale(1 1.078)" font-size="4.75" text-anchor="middle">0</text><text transform="translate(236.07 139.6) scale(1 1.078)" font-size="4.75" text-anchor="middle">100</text><text transform="translate(261.73 139.6) scale(1 1.078)" font-size="4.75" text-anchor="middle">200</text><text transform="translate(287.4 139.6) scale(1 1.078)" font-size="4.75" text-anchor="middle">300</text><text transform="translate(313.07 139.6) scale(1 1.078)" font-size="4.75" text-anchor="middle">400</text><text transform="translate(338.73 139.6) scale(1 1.078)" font-size="4.75" text-anchor="middle">500</text><text transform="translate(364.4 139.6) scale(1 1.078)" font-size="4.75" text-anchor="middle">600</text><text transform="translate(206.62 14) scale(1 1.078)" font-size="4.7" text-anchor="end">10</text><text transform="translate(206.72 11.4) scale(1 1.078)" font-size="3.2">8</text><text transform="translate(206.62 44.2) scale(1 1.078)" font-size="4.7" text-anchor="end">10</text><text transform="translate(206.72 41.6) scale(1 1.078)" font-size="3.2">7</text><text transform="translate(206.62 74.4) scale(1 1.078)" font-size="4.7" text-anchor="end">10</text><text transform="translate(206.72 71.8) scale(1 1.078)" font-size="3.2">6</text><text transform="translate(206.62 104.6) scale(1 1.078)" font-size="4.7" text-anchor="end">10</text><text transform="translate(206.72 102) scale(1 1.078)" font-size="3.2">5</text><text transform="translate(206.62 134.8) scale(1 1.078)" font-size="4.7" text-anchor="end">10</text><text transform="translate(206.72 132.2) scale(1 1.078)" font-size="3.2">4</text><text transform="translate(287.4 146.6) scale(1 1.078)" font-size="5.05" text-anchor="middle">Iterations</text><text transform="translate(287.4 9.6) scale(1 1.078)" font-size="5.05" text-anchor="middle">Shifted and Rotated Zakharov Function</text><text transform="translate(198 71.6) rotate(-90)" font-size="5.03" text-anchor="middle">Objective function value</text>
<rect x="325.2" y="14.4" width="35.6" height="48.0" fill="#fff" stroke="#a0a0a0" stroke-width="0.45"/><path d="M326.6 18.6H340.6" stroke="#ff00ff" stroke-width="0.6" fill="none"/><rect x="332.82" y="17.72" width="1.76" height="1.76" fill="#ff00ff"/><text transform="translate(341.9 20.3) scale(1 1.078)" font-size="4.5">DE</text><path d="M326.6 24.47H340.6" stroke="#4488d6" stroke-width="0.5" fill="none"/><path d="M332.43 24.47L333.7 23.21L334.96 24.47L333.7 25.74Z" fill="#4488d6"/><text transform="translate(341.9 26.17) scale(1 1.078)" font-size="4.5">GWO</text><path d="M326.6 30.34H340.6" stroke="#ff1493" stroke-width="0.6" fill="none"/><circle cx="333.7" cy="30.34" r="1.26" fill="#ff1493"/><text transform="translate(341.9 32.04) scale(1 1.078)" font-size="4.5">CSO</text><path d="M326.6 36.21H340.6" stroke="#1c1c9c" stroke-width="0.75" stroke-dasharray="2.2,1.6" fill="none"/><polygon points="333.7,34.51 334.12,35.63 335.32,35.68 334.38,36.43 334.7,37.59 333.7,36.93 332.7,37.59 333.02,36.43 332.08,35.68 333.28,35.63" fill="#1c1c9c" stroke="#1c1c9c" stroke-width="0.3"/><text transform="translate(341.9 37.91) scale(1 1.078)" font-size="4.5">DBO</text><path d="M326.6 42.08H340.6" stroke="#8c7cff" stroke-width="0.55" stroke-dasharray="2.0,1.4,0.6,1.4" fill="none"/><rect x="332.9" y="41.28" width="1.59" height="1.59" fill="#8c7cff"/><text transform="translate(341.9 43.78) scale(1 1.078)" font-size="4.5">BWO</text><path d="M326.6 47.95H340.6" stroke="#d016d0" stroke-width="0.6" stroke-dasharray="2.2,1.6" fill="none"/><path d="M332.27 46.23L335.7 47.95L332.27 49.67Z" fill="none" stroke="#d016d0" stroke-width="0.55"/><text transform="translate(341.9 49.65) scale(1 1.078)" font-size="4.5">SSA</text><path d="M326.6 53.82H340.6" stroke="#1fa79d" stroke-width="0.55" fill="none"/><circle cx="333.7" cy="53.82" r="1.38" fill="none" stroke="#1fa79d" stroke-width="0.62"/><text transform="translate(341.9 55.52) scale(1 1.078)" font-size="4.5">ABC</text><path d="M326.6 59.69H340.6" stroke="#c8c8c8" stroke-width="0.45" fill="none"/><path d="M335.07 58.04L331.77 59.69L335.07 61.34Z" fill="none" stroke="#c8c8c8" stroke-width="0.4"/><text transform="translate(341.9 61.39) scale(1 1.078)" font-size="4.5">VASPSO</text>
<path d="M413.07 11.5V132.3" stroke="#efefef" stroke-width="0.5"/><path d="M438.73 11.5V132.3" stroke="#efefef" stroke-width="0.5"/><path d="M464.4 11.5V132.3" stroke="#efefef" stroke-width="0.5"/><path d="M490.07 11.5V132.3" stroke="#efefef" stroke-width="0.5"/><path d="M515.73 11.5V132.3" stroke="#efefef" stroke-width="0.5"/><path d="M387.4 130.23H541.4" stroke="#f3f3f3" stroke-width="0.4"/><path d="M387.4 126.15H541.4" stroke="#f3f3f3" stroke-width="0.4"/><path d="M387.4 122.69H541.4" stroke="#f3f3f3" stroke-width="0.4"/><path d="M387.4 119.7H541.4" stroke="#f3f3f3" stroke-width="0.4"/><path d="M387.4 117.06H541.4" stroke="#f3f3f3" stroke-width="0.4"/><path d="M387.4 99.17H541.4" stroke="#f3f3f3" stroke-width="0.4"/><path d="M387.4 90.08H541.4" stroke="#f3f3f3" stroke-width="0.4"/><path d="M387.4 83.63H541.4" stroke="#f3f3f3" stroke-width="0.4"/><path d="M387.4 78.63H541.4" stroke="#f3f3f3" stroke-width="0.4"/><path d="M387.4 74.55H541.4" stroke="#f3f3f3" stroke-width="0.4"/><path d="M387.4 71.09H541.4" stroke="#f3f3f3" stroke-width="0.4"/><path d="M387.4 68.1H541.4" stroke="#f3f3f3" stroke-width="0.4"/><path d="M387.4 65.46H541.4" stroke="#f3f3f3" stroke-width="0.4"/><path d="M387.4 47.57H541.4" stroke="#f3f3f3" stroke-width="0.4"/><path d="M387.4 38.48H541.4" stroke="#f3f3f3" stroke-width="0.4"/><path d="M387.4 32.03H541.4" stroke="#f3f3f3" stroke-width="0.4"/><path d="M387.4 27.03H541.4" stroke="#f3f3f3" stroke-width="0.4"/><path d="M387.4 22.95H541.4" stroke="#f3f3f3" stroke-width="0.4"/><path d="M387.4 19.49H541.4" stroke="#f3f3f3" stroke-width="0.4"/><path d="M387.4 16.5H541.4" stroke="#f3f3f3" stroke-width="0.4"/><path d="M387.4 13.86H541.4" stroke="#f3f3f3" stroke-width="0.4"/><path d="M387.4 63.1H541.4" stroke="#efefef" stroke-width="0.5"/><path d="M387.4 114.7H541.4" stroke="#efefef" stroke-width="0.5"/>
<rect x="387.4" y="11.5" width="154" height="120.8" fill="none" stroke="#909090" stroke-width="0.7"/>
<path d="M387.4 132.3v-1.4M387.4 11.5v1.4M413.07 132.3v-1.4M413.07 11.5v1.4M438.73 132.3v-1.4M438.73 11.5v1.4M464.4 132.3v-1.4M464.4 11.5v1.4M490.07 132.3v-1.4M490.07 11.5v1.4M515.73 132.3v-1.4M515.73 11.5v1.4M541.4 132.3v-1.4M541.4 11.5v1.4M387.4 11.5h1.4M541.4 11.5h-1.4M387.4 63.1h1.4M541.4 63.1h-1.4M387.4 114.7h1.4M541.4 114.7h-1.4" stroke="#909090" stroke-width="0.45" fill="none"/>
<clipPath id="c25"><rect x="385.4" y="9.5" width="158" height="124.8"/></clipPath><g clip-path="url(#c25)"><path d="M387.4 22.4L388.5 40L390.8 48.5L398.1 52.2L400.3 61.6L403.9 62.4L406.8 70L409.7 75.1L416.3 75.8L421.4 83.8L424.3 88.2L428.6 88.2L431.5 99.1L441.7 99.1L444.6 101.3L447.5 112.2L453.4 112.9L457.7 115.1L463 116.5L468.8 120.2L474.6 122.4L477.5 124.3L500 124.8L541.4 125.3" fill="none" stroke="#ff00ff" stroke-width="0.6" stroke-linejoin="round"/><polyline points="387.4,22.4 390.48,47.32 393.56,49.9 396.64,51.46 399.72,59.12 402.8,62.16 405.88,67.59 408.96,73.8 412.04,75.35 415.12,75.67 418.2,78.78 421.28,83.61 424.36,88.2 427.44,88.2 430.52,95.42 433.6,99.1 436.68,99.1 439.76,99.1 442.84,99.96 445.92,106.26 449,112.38 452.08,112.74 455.16,113.8 458.24,115.24 461.32,116.06 464.4,117.39 467.48,119.36 470.56,120.87 473.64,122.04 476.72,123.79 479.8,124.35 482.88,124.42 485.96,124.49 489.04,124.56 492.12,124.62 495.2,124.69 498.28,124.76 501.36,124.82 504.44,124.85 507.52,124.89 510.6,124.93 513.68,124.97 516.76,125 519.84,125.04 522.92,125.08 526,125.11 529.08,125.15 532.16,125.19 535.24,125.23 538.32,125.26 541.4,125.3" fill="none" stroke="none" marker-start="url(#mDE)" marker-mid="url(#mDE)" marker-end="url(#mDE)"/><path d="M387.4 22.4L388.3 40L389.4 47.8L541.4 48.2" fill="none" stroke="#4488d6" stroke-width="0.5" stroke-linejoin="round"/><polyline points="387.4,22.4 390.48,47.8 393.56,47.81 396.64,47.82 399.72,47.83 402.8,47.84 405.88,47.84 408.96,47.85 412.04,47.86 415.12,47.87 418.2,47.88 421.28,47.88 424.36,47.89 427.44,47.9 430.52,47.91 433.6,47.92 436.68,47.92 439.76,47.93 442.84,47.94 445.92,47.95 449,47.96 452.08,47.96 455.16,47.97 458.24,47.98 461.32,47.99 464.4,48 467.48,48.01 470.56,48.01 473.64,48.02 476.72,48.03 479.8,48.04 482.88,48.05 485.96,48.05 489.04,48.06 492.12,48.07 495.2,48.08 498.28,48.09 501.36,48.09 504.44,48.1 507.52,48.11 510.6,48.12 513.68,48.13 516.76,48.14 519.84,48.14 522.92,48.15 526,48.16 529.08,48.17 532.16,48.18 535.24,48.18 538.32,48.19 541.4,48.2" fill="none" stroke="none" marker-start="url(#mGWO)" marker-mid="url(#mGWO)" marker-end="url(#mGWO)"/><path d="M387.4 21.6L389.3 50L390.1 70L390.5 103.5L393.7 112.2L396.6 117.3L403.9 118L406.8 120.2L412.6 120.9L428.6 121.4L465 122.9L500 124.3L541.4 125" fill="none" stroke="#ff1493" stroke-width="0.6" stroke-linejoin="round"/><polyline points="387.4,21.6 390.48,101.82 393.56,111.82 396.64,117.3 399.72,117.6 402.8,117.89 405.88,119.5 408.96,120.46 412.04,120.83 415.12,120.98 418.2,121.08 421.28,121.17 424.36,121.27 427.44,121.36 430.52,121.48 433.6,121.61 436.68,121.73 439.76,121.86 442.84,121.99 445.92,122.11 449,122.24 452.08,122.37 455.16,122.49 458.24,122.62 461.32,122.75 464.4,122.88 467.48,123 470.56,123.12 473.64,123.25 476.72,123.37 479.8,123.49 482.88,123.62 485.96,123.74 489.04,123.86 492.12,123.98 495.2,124.11 498.28,124.23 501.36,124.32 504.44,124.38 507.52,124.43 510.6,124.48 513.68,124.53 516.76,124.58 519.84,124.64 522.92,124.69 526,124.74 529.08,124.79 532.16,124.84 535.24,124.9 538.32,124.95 541.4,125" fill="none" stroke="none" marker-start="url(#mCSO)" marker-mid="url(#mCSO)" marker-end="url(#mCSO)"/><path d="M387.4 40L391 60L394.5 70L397.4 80.9L399.5 94.7L403.2 101.3L406.1 108.5L409 115.1L418.5 115.4L427.2 118.7L435.9 120.2L443.2 122.4L450.5 124.1L465 126L500 128L541.4 128.8" fill="none" stroke="#1c1c9c" stroke-width="0.75" stroke-dasharray="2.2,1.6" stroke-linejoin="round"/><polyline points="387.4,40 390.48,57.11 393.56,67.31 396.64,78.04 399.72,95.09 402.8,100.59 405.88,107.95 408.96,115.01 412.04,115.2 415.12,115.29 418.2,115.39 421.28,116.45 424.36,117.62 427.44,118.74 430.52,119.27 433.6,119.8 436.68,120.44 439.76,121.36 442.84,122.29 445.92,123.03 449,123.75 452.08,124.31 455.16,124.71 458.24,125.11 461.32,125.52 464.4,125.92 467.48,126.14 470.56,126.32 473.64,126.49 476.72,126.67 479.8,126.85 482.88,127.02 485.96,127.2 489.04,127.37 492.12,127.55 495.2,127.73 498.28,127.9 501.36,128.03 504.44,128.09 507.52,128.15 510.6,128.2 513.68,128.26 516.76,128.32 519.84,128.38 522.92,128.44 526,128.5 529.08,128.56 532.16,128.62 535.24,128.68 538.32,128.74 541.4,128.8" fill="none" stroke="none" marker-start="url(#mDBO)" marker-mid="url(#mDBO)" marker-end="url(#mDBO)"/><path d="M387.4 30L389 60L390.5 84.5L393.7 93.3L398.1 101.3L403.9 104.9L465 105.6L523.4 105.6L526.3 118L529.2 123.1L532.8 126L541.4 127.5" fill="none" stroke="#8c7cff" stroke-width="0.55" stroke-dasharray="2.0,1.4,0.6,1.4" stroke-linejoin="round"/><polyline points="387.4,30 390.48,84.17 393.56,92.92 396.64,98.65 399.72,102.31 402.8,104.22 405.88,104.92 408.96,104.96 412.04,104.99 415.12,105.03 418.2,105.06 421.28,105.1 424.36,105.13 427.44,105.17 430.52,105.2 433.6,105.24 436.68,105.28 439.76,105.31 442.84,105.35 445.92,105.38 449,105.42 452.08,105.45 455.16,105.49 458.24,105.52 461.32,105.56 464.4,105.59 467.48,105.6 470.56,105.6 473.64,105.6 476.72,105.6 479.8,105.6 482.88,105.6 485.96,105.6 489.04,105.6 492.12,105.6 495.2,105.6 498.28,105.6 501.36,105.6 504.44,105.6 507.52,105.6 510.6,105.6 513.68,105.6 516.76,105.6 519.84,105.6 522.92,105.6 526,116.72 529.08,122.89 532.16,125.48 535.24,126.43 538.32,126.96 541.4,127.5" fill="none" stroke="none" marker-start="url(#mBWO)" marker-mid="url(#mBWO)" marker-end="url(#mBWO)"/><path d="M387.4 40.5L388.5 49L390.1 52.2L541.4 52.4" fill="none" stroke="#d016d0" stroke-width="0.6" stroke-dasharray="2.2,1.6" stroke-linejoin="round"/><polyline points="387.4,40.5 390.48,52.2 393.56,52.2 396.64,52.21 399.72,52.21 402.8,52.22 405.88,52.22 408.96,52.22 412.04,52.23 415.12,52.23 418.2,52.24 421.28,52.24 424.36,52.25 427.44,52.25 430.52,52.25 433.6,52.26 436.68,52.26 439.76,52.27 442.84,52.27 445.92,52.27 449,52.28 452.08,52.28 455.16,52.29 458.24,52.29 461.32,52.29 464.4,52.3 467.48,52.3 470.56,52.31 473.64,52.31 476.72,52.31 479.8,52.32 482.88,52.32 485.96,52.33 489.04,52.33 492.12,52.33 495.2,52.34 498.28,52.34 501.36,52.35 504.44,52.35 507.52,52.36 510.6,52.36 513.68,52.36 516.76,52.37 519.84,52.37 522.92,52.38 526,52.38 529.08,52.38 532.16,52.39 535.24,52.39 538.32,52.4 541.4,52.4" fill="none" stroke="none" marker-start="url(#mSSA)" marker-mid="url(#mSSA)" marker-end="url(#mSSA)"/><path d="M387.4 24L389.5 50L392.3 77.3L395.2 86L399.5 88.2L403.9 91.8L406.8 94L409 104.2L412.6 104.9L416.3 107.1L421.4 108.5L424.3 113.6L431.5 115.1L435.9 118.7L443.2 120.2L450.5 121.6L465 123.1L500 126.3L541.4 127.8" fill="none" stroke="#1fa79d" stroke-width="0.55" stroke-linejoin="round"/><polyline points="387.4,24 390.48,59.55 393.56,81.08 396.64,86.74 399.72,88.38 402.8,90.9 405.88,93.3 408.96,104.01 412.04,104.79 415.12,106.4 418.2,107.62 421.28,108.47 424.36,113.61 427.44,114.25 430.52,114.9 433.6,116.82 436.68,118.86 439.76,119.49 442.84,120.13 445.92,120.72 449,121.31 452.08,121.76 455.16,122.08 458.24,122.4 461.32,122.72 464.4,123.04 467.48,123.33 470.56,123.61 473.64,123.89 476.72,124.17 479.8,124.45 482.88,124.73 485.96,125.02 489.04,125.3 492.12,125.58 495.2,125.86 498.28,126.14 501.36,126.35 504.44,126.46 507.52,126.57 510.6,126.68 513.68,126.8 516.76,126.91 519.84,127.02 522.92,127.13 526,127.24 529.08,127.35 532.16,127.47 535.24,127.58 538.32,127.69 541.4,127.8" fill="none" stroke="none" marker-start="url(#mABC)" marker-mid="url(#mABC)" marker-end="url(#mABC)"/><path d="M387.4 35L389.5 55L391.5 70L395.2 86L399.5 94.7L403.9 101.3L409.7 108.5L418.5 115.1L427.2 119.5L433 125.3L440.3 128.9L450.5 129.7L465 130L541.4 130" fill="none" stroke="#c8c8c8" stroke-width="0.45" stroke-linejoin="round"/><polyline points="387.4,35 390.48,62.35 393.56,78.91 396.64,88.91 399.72,95.03 402.8,99.65 405.88,103.76 408.96,107.58 412.04,110.25 415.12,112.56 418.2,114.87 421.28,116.51 424.36,118.06 427.44,119.74 430.52,122.82 433.6,125.6 436.68,127.11 439.76,128.63 442.84,129.1 445.92,129.34 449,129.58 452.08,129.73 455.16,129.8 458.24,129.86 461.32,129.92 464.4,129.99 467.48,130 470.56,130 473.64,130 476.72,130 479.8,130 482.88,130 485.96,130 489.04,130 492.12,130 495.2,130 498.28,130 501.36,130 504.44,130 507.52,130 510.6,130 513.68,130 516.76,130 519.84,130 522.92,130 526,130 529.08,130 532.16,130 535.24,130 538.32,130 541.4,130" fill="none" stroke="none" marker-start="url(#mVASPSO)" marker-mid="url(#mVASPSO)" marker-end="url(#mVASPSO)"/></g>
<text transform="translate(387.4 139.6) scale(1 1.078)" font-size="4.75" text-anchor="middle">0</text><text transform="translate(413.07 139.6) scale(1 1.078)" font-size="4.75" text-anchor="middle">100</text><text transform="translate(438.73 139.6) scale(1 1.078)" font-size="4.75" text-anchor="middle">200</text><text transform="translate(464.4 139.6) scale(1 1.078)" font-size="4.75" text-anchor="middle">300</text><text transform="translate(490.07 139.6) scale(1 1.078)" font-size="4.75" text-anchor="middle">400</text><text transform="translate(515.73 139.6) scale(1 1.078)" font-size="4.75" text-anchor="middle">500</text><text transform="translate(541.4 139.6) scale(1 1.078)" font-size="4.75" text-anchor="middle">600</text><text transform="translate(383.62 14) scale(1 1.078)" font-size="4.7" text-anchor="end">10</text><text transform="translate(383.72 11.4) scale(1 1.078)" font-size="3.2">5</text><text transform="translate(383.62 65.6) scale(1 1.078)" font-size="4.7" text-anchor="end">10</text><text transform="translate(383.72 63) scale(1 1.078)" font-size="3.2">4</text><text transform="translate(383.62 117.2) scale(1 1.078)" font-size="4.7" text-anchor="end">10</text><text transform="translate(383.72 114.6) scale(1 1.078)" font-size="3.2">3</text><text transform="translate(464.4 146.6) scale(1 1.078)" font-size="5.05" text-anchor="middle">Iterations</text><text transform="translate(464.4 9.6) scale(1 1.078)" font-size="5.05" text-anchor="middle">Shifted and Rotated Rosenbrock's Function</text><text transform="translate(375 71.6) rotate(-90)" font-size="5.03" text-anchor="middle">Objective function value</text>
<rect x="502.2" y="14.4" width="35.6" height="48.0" fill="#fff" stroke="#a0a0a0" stroke-width="0.45"/><path d="M503.6 18.6H517.6" stroke="#ff00ff" stroke-width="0.6" fill="none"/><rect x="509.82" y="17.72" width="1.76" height="1.76" fill="#ff00ff"/><text transform="translate(518.9 20.3) scale(1 1.078)" font-size="4.5">DE</text><path d="M503.6 24.47H517.6" stroke="#4488d6" stroke-width="0.5" fill="none"/><path d="M509.43 24.47L510.7 23.21L511.96 24.47L510.7 25.74Z" fill="#4488d6"/><text transform="translate(518.9 26.17) scale(1 1.078)" font-size="4.5">GWO</text><path d="M503.6 30.34H517.6" stroke="#ff1493" stroke-width="0.6" fill="none"/><circle cx="510.7" cy="30.34" r="1.26" fill="#ff1493"/><text transform="translate(518.9 32.04) scale(1 1.078)" font-size="4.5">CSO</text><path d="M503.6 36.21H517.6" stroke="#1c1c9c" stroke-width="0.75" stroke-dasharray="2.2,1.6" fill="none"/><polygon points="510.7,34.51 511.12,35.63 512.32,35.68 511.38,36.43 511.7,37.59 510.7,36.93 509.7,37.59 510.02,36.43 509.08,35.68 510.28,35.63" fill="#1c1c9c" stroke="#1c1c9c" stroke-width="0.3"/><text transform="translate(518.9 37.91) scale(1 1.078)" font-size="4.5">DBO</text><path d="M503.6 42.08H517.6" stroke="#8c7cff" stroke-width="0.55" stroke-dasharray="2.0,1.4,0.6,1.4" fill="none"/><rect x="509.9" y="41.28" width="1.59" height="1.59" fill="#8c7cff"/><text transform="translate(518.9 43.78) scale(1 1.078)" font-size="4.5">BWO</text><path d="M503.6 47.95H517.6" stroke="#d016d0" stroke-width="0.6" stroke-dasharray="2.2,1.6" fill="none"/><path d="M509.27 46.23L512.7 47.95L509.27 49.67Z" fill="none" stroke="#d016d0" stroke-width="0.55"/><text transform="translate(518.9 49.65) scale(1 1.078)" font-size="4.5">SSA</text><path d="M503.6 53.82H517.6" stroke="#1fa79d" stroke-width="0.55" fill="none"/><circle cx="510.7" cy="53.82" r="1.38" fill="none" stroke="#1fa79d" stroke-width="0.62"/><text transform="translate(518.9 55.52) scale(1 1.078)" font-size="4.5">ABC</text><path d="M503.6 59.69H517.6" stroke="#c8c8c8" stroke-width="0.45" fill="none"/><path d="M512.07 58.04L508.77 59.69L512.07 61.34Z" fill="none" stroke="#c8c8c8" stroke-width="0.4"/><text transform="translate(518.9 61.39) scale(1 1.078)" font-size="4.5">VASPSO</text>
<path d="M53.65 159.5V280.5" stroke="#efefef" stroke-width="0.5"/><path d="M79.4 159.5V280.5" stroke="#efefef" stroke-width="0.5"/><path d="M105.15 159.5V280.5" stroke="#efefef" stroke-width="0.5"/><path d="M130.9 159.5V280.5" stroke="#efefef" stroke-width="0.5"/><path d="M156.65 159.5V280.5" stroke="#efefef" stroke-width="0.5"/><path d="M27.9 277.74H182.4" stroke="#f3f3f3" stroke-width="0.4"/><path d="M27.9 272.03H182.4" stroke="#f3f3f3" stroke-width="0.4"/><path d="M27.9 266.55H182.4" stroke="#f3f3f3" stroke-width="0.4"/><path d="M27.9 261.27H182.4" stroke="#f3f3f3" stroke-width="0.4"/><path d="M27.9 256.18H182.4" stroke="#f3f3f3" stroke-width="0.4"/><path d="M27.9 251.28H182.4" stroke="#f3f3f3" stroke-width="0.4"/><path d="M27.9 246.54H182.4" stroke="#f3f3f3" stroke-width="0.4"/><path d="M27.9 241.95H182.4" stroke="#f3f3f3" stroke-width="0.4"/><path d="M27.9 237.51H182.4" stroke="#f3f3f3" stroke-width="0.4"/><path d="M27.9 233.21H182.4" stroke="#f3f3f3" stroke-width="0.4"/><path d="M27.9 229.03H182.4" stroke="#f3f3f3" stroke-width="0.4"/><path d="M27.9 224.98H182.4" stroke="#f3f3f3" stroke-width="0.4"/><path d="M27.9 221.04H182.4" stroke="#f3f3f3" stroke-width="0.4"/><path d="M27.9 217.21H182.4" stroke="#f3f3f3" stroke-width="0.4"/><path d="M27.9 213.48H182.4" stroke="#f3f3f3" stroke-width="0.4"/><path d="M27.9 209.85H182.4" stroke="#f3f3f3" stroke-width="0.4"/><path d="M27.9 206.31H182.4" stroke="#f3f3f3" stroke-width="0.4"/><path d="M27.9 202.85H182.4" stroke="#f3f3f3" stroke-width="0.4"/><path d="M27.9 199.48H182.4" stroke="#f3f3f3" stroke-width="0.4"/><path d="M27.9 196.19H182.4" stroke="#f3f3f3" stroke-width="0.4"/><path d="M27.9 192.98H182.4" stroke="#f3f3f3" stroke-width="0.4"/><path d="M27.9 189.83H182.4" stroke="#f3f3f3" stroke-width="0.4"/><path d="M27.9 186.76H182.4" stroke="#f3f3f3" stroke-width="0.4"/><path d="M27.9 183.75H182.4" stroke="#f3f3f3" stroke-width="0.4"/><path d="M27.9 180.81H182.4" stroke="#f3f3f3" stroke-width="0.4"/><path d="M27.9 177.93H182.4" stroke="#f3f3f3" stroke-width="0.4"/><path d="M27.9 175.1H182.4" stroke="#f3f3f3" stroke-width="0.4"/><path d="M27.9 172.33H182.4" stroke="#f3f3f3" stroke-width="0.4"/><path d="M27.9 169.62H182.4" stroke="#f3f3f3" stroke-width="0.4"/><path d="M27.9 166.95H182.4" stroke="#f3f3f3" stroke-width="0.4"/><path d="M27.9 164.34H182.4" stroke="#f3f3f3" stroke-width="0.4"/><path d="M27.9 161.77H182.4" stroke="#f3f3f3" stroke-width="0.4"/><path d="M27.9 161.8H182.4" stroke="#efefef" stroke-width="0.5"/><path d="M27.9 175.1H182.4" stroke="#efefef" stroke-width="0.5"/><path d="M27.9 190H182.4" stroke="#efefef" stroke-width="0.5"/><path d="M27.9 206.6H182.4" stroke="#efefef" stroke-width="0.5"/><path d="M27.9 225.1H182.4" stroke="#efefef" stroke-width="0.5"/><path d="M27.9 246.2H182.4" stroke="#efefef" stroke-width="0.5"/><path d="M27.9 272.1H182.4" stroke="#efefef" stroke-width="0.5"/>
<rect x="27.9" y="159.5" width="154.5" height="121" fill="none" stroke="#909090" stroke-width="0.7"/>
<path d="M27.9 280.5v-1.4M27.9 159.5v1.4M53.65 280.5v-1.4M53.65 159.5v1.4M79.4 280.5v-1.4M79.4 159.5v1.4M105.15 280.5v-1.4M105.15 159.5v1.4M130.9 280.5v-1.4M130.9 159.5v1.4M156.65 280.5v-1.4M156.65 159.5v1.4M182.4 280.5v-1.4M182.4 159.5v1.4M27.9 161.8h1.4M182.4 161.8h-1.4M27.9 175.1h1.4M182.4 175.1h-1.4M27.9 190h1.4M182.4 190h-1.4M27.9 206.6h1.4M182.4 206.6h-1.4M27.9 225.1h1.4M182.4 225.1h-1.4M27.9 246.2h1.4M182.4 246.2h-1.4M27.9 272.1h1.4M182.4 272.1h-1.4" stroke="#909090" stroke-width="0.45" fill="none"/>
<clipPath id="c31"><rect x="25.9" y="157.5" width="158.5" height="125"/></clipPath><g clip-path="url(#c31)"><path d="M27.9 163L31.8 175.5L34.7 181.3L37.6 183L100 183.5L182.4 183.9" fill="none" stroke="#ff00ff" stroke-width="0.6" stroke-linejoin="round"/><polyline points="27.9,163 30.99,172.9 34.08,180.06 37.17,182.75 40.26,183.02 43.35,183.05 46.44,183.07 49.53,183.1 52.62,183.12 55.71,183.15 58.8,183.17 61.89,183.19 64.98,183.22 68.07,183.24 71.16,183.27 74.25,183.29 77.34,183.32 80.43,183.34 83.52,183.37 86.61,183.39 89.7,183.42 92.79,183.44 95.88,183.47 98.97,183.49 102.06,183.51 105.15,183.53 108.24,183.54 111.33,183.56 114.42,183.57 117.51,183.59 120.6,183.6 123.69,183.62 126.78,183.63 129.87,183.65 132.96,183.66 136.05,183.68 139.14,183.69 142.23,183.71 145.32,183.72 148.41,183.74 151.5,183.75 154.59,183.77 157.68,183.78 160.77,183.8 163.86,183.81 166.95,183.83 170.04,183.84 173.13,183.86 176.22,183.87 179.31,183.89 182.4,183.9" fill="none" stroke="none" marker-start="url(#mDE)" marker-mid="url(#mDE)" marker-end="url(#mDE)"/><path d="M27.9 166.7L33.3 179.8L37.6 190L40.5 192.9L47.8 194.4L55.1 195.5L60.9 197.3L66.7 200.9L74 201.6L84.2 203.1L95.8 205.3L106 206.5L140 207.5L170 208L182.4 209.4" fill="none" stroke="#4488d6" stroke-width="0.5" stroke-linejoin="round"/><polyline points="27.9,166.7 30.99,174.2 34.08,181.65 37.17,188.98 40.26,192.66 43.35,193.49 46.44,194.12 49.53,194.66 52.62,195.13 55.71,195.69 58.8,196.65 61.89,197.91 64.98,199.83 68.07,201.03 71.16,201.33 74.25,201.64 77.34,202.09 80.43,202.55 83.52,203 86.61,203.56 89.7,204.14 92.79,204.73 95.88,205.31 98.97,205.67 102.06,206.04 105.15,206.4 108.24,206.57 111.33,206.66 114.42,206.75 117.51,206.84 120.6,206.93 123.69,207.02 126.78,207.11 129.87,207.2 132.96,207.29 136.05,207.38 139.14,207.47 142.23,207.54 145.32,207.59 148.41,207.64 151.5,207.69 154.59,207.74 157.68,207.79 160.77,207.85 163.86,207.9 166.95,207.95 170.04,208 173.13,208.35 176.22,208.7 179.31,209.05 182.4,209.4" fill="none" stroke="none" marker-start="url(#mGWO)" marker-mid="url(#mGWO)" marker-end="url(#mGWO)"/><path d="M27.9 160.9L31.8 181.3L34 185.9L182.4 185.9" fill="none" stroke="#ff1493" stroke-width="0.6" stroke-linejoin="round"/><polyline points="27.9,160.9 30.99,177.06 34.08,185.9 37.17,185.9 40.26,185.9 43.35,185.9 46.44,185.9 49.53,185.9 52.62,185.9 55.71,185.9 58.8,185.9 61.89,185.9 64.98,185.9 68.07,185.9 71.16,185.9 74.25,185.9 77.34,185.9 80.43,185.9 83.52,185.9 86.61,185.9 89.7,185.9 92.79,185.9 95.88,185.9 98.97,185.9 102.06,185.9 105.15,185.9 108.24,185.9 111.33,185.9 114.42,185.9 117.51,185.9 120.6,185.9 123.69,185.9 126.78,185.9 129.87,185.9 132.96,185.9 136.05,185.9 139.14,185.9 142.23,185.9 145.32,185.9 148.41,185.9 151.5,185.9 154.59,185.9 157.68,185.9 160.77,185.9 163.86,185.9 166.95,185.9 170.04,185.9 173.13,185.9 176.22,185.9 179.31,185.9 182.4,185.9" fill="none" stroke="none" marker-start="url(#mCSO)" marker-mid="url(#mCSO)" marker-end="url(#mCSO)"/><path d="M27.9 178.4L28.6 200.9L50.7 200.9L52.9 208.9L54.4 216.2L56.5 219.2L66.7 219.7L71.1 223.1L75.5 223.8L78.4 227.5L84.2 228.9L92.9 229.6L97.3 231.8L104 232.5L111.3 235.2L118.5 236.6L128.7 237.6L134.5 241.3L140.4 242.4L154.9 243.5L162.2 244.5L182.4 244.5" fill="none" stroke="#1c1c9c" stroke-width="0.75" stroke-dasharray="2.2,1.6" stroke-linejoin="round"/><polyline points="27.9,178.4 30.99,200.9 34.08,200.9 37.17,200.9 40.26,200.9 43.35,200.9 46.44,200.9 49.53,200.9 52.62,207.88 55.71,218.07 58.8,219.31 61.89,219.46 64.98,219.62 68.07,220.76 71.16,223.11 74.25,223.6 77.34,226.15 80.43,227.99 83.52,228.74 86.61,229.09 89.7,229.34 92.79,229.59 95.88,231.09 98.97,231.97 102.06,232.3 105.15,232.93 108.24,234.07 111.33,235.21 114.42,235.81 117.51,236.41 120.6,236.81 123.69,237.11 126.78,237.41 129.87,238.35 132.96,240.32 136.05,241.59 139.14,242.17 142.23,242.54 145.32,242.77 148.41,243.01 151.5,243.24 154.59,243.48 157.68,243.88 160.77,244.3 163.86,244.5 166.95,244.5 170.04,244.5 173.13,244.5 176.22,244.5 179.31,244.5 182.4,244.5" fill="none" stroke="none" marker-start="url(#mDBO)" marker-mid="url(#mDBO)" marker-end="url(#mDBO)"/><path d="M27.9 175L28.5 188L36.5 196.6L50.5 210.7L55.1 222.4L59.5 229.6L65.3 234L69.6 241.3L72.5 245.6L76.9 247.8L84.2 247.8L88.5 250L92.9 251.7L106 252.2L182.4 252.2" fill="none" stroke="#8c7cff" stroke-width="0.55" stroke-dasharray="2.0,1.4,0.6,1.4" stroke-linejoin="round"/><polyline points="27.9,175 30.99,190.68 34.08,194 37.17,197.27 40.26,200.39 43.35,203.5 46.44,206.61 49.53,209.72 52.62,216.09 55.71,223.4 58.8,228.45 61.89,231.41 64.98,233.76 68.07,238.7 71.16,243.61 74.25,246.47 77.34,247.8 80.43,247.8 83.52,247.8 86.61,249.03 89.7,250.46 92.79,251.66 95.88,251.81 98.97,251.93 102.06,252.05 105.15,252.17 108.24,252.2 111.33,252.2 114.42,252.2 117.51,252.2 120.6,252.2 123.69,252.2 126.78,252.2 129.87,252.2 132.96,252.2 136.05,252.2 139.14,252.2 142.23,252.2 145.32,252.2 148.41,252.2 151.5,252.2 154.59,252.2 157.68,252.2 160.77,252.2 163.86,252.2 166.95,252.2 170.04,252.2 173.13,252.2 176.22,252.2 179.31,252.2 182.4,252.2" fill="none" stroke="none" marker-start="url(#mBWO)" marker-mid="url(#mBWO)" marker-end="url(#mBWO)"/><path d="M27.9 160.2L30.4 169.6L34 171.1L36.2 176.9L37.6 179.1L39 179.4L56.5 179.4L59.5 182L61 182.4L136 182.4L138.2 187.8L182.4 187.8" fill="none" stroke="#d016d0" stroke-width="0.6" stroke-dasharray="2.2,1.6" stroke-linejoin="round"/><polyline points="27.9,160.2 30.99,169.85 34.08,171.31 37.17,178.42 40.26,179.4 43.35,179.4 46.44,179.4 49.53,179.4 52.62,179.4 55.71,179.4 58.8,181.39 61.89,182.4 64.98,182.4 68.07,182.4 71.16,182.4 74.25,182.4 77.34,182.4 80.43,182.4 83.52,182.4 86.61,182.4 89.7,182.4 92.79,182.4 95.88,182.4 98.97,182.4 102.06,182.4 105.15,182.4 108.24,182.4 111.33,182.4 114.42,182.4 117.51,182.4 120.6,182.4 123.69,182.4 126.78,182.4 129.87,182.4 132.96,182.4 136.05,182.52 139.14,187.8 142.23,187.8 145.32,187.8 148.41,187.8 151.5,187.8 154.59,187.8 157.68,187.8 160.77,187.8 163.86,187.8 166.95,187.8 170.04,187.8 173.13,187.8 176.22,187.8 179.31,187.8 182.4,187.8" fill="none" stroke="none" marker-start="url(#mSSA)" marker-mid="url(#mSSA)" marker-end="url(#mSSA)"/><path d="M27.9 165.3L31.8 182.7L34.7 192.9L40.5 194.4L43.5 200.2L44.9 202.4L50.7 203.1L52.9 212.5L55.1 214L84.2 214L88.5 216.2L88.5 218.7L92.9 221.6L106 223.1L138.2 223.1L140.4 226L169.5 226.3L176.7 227.5L182.4 228.9" fill="none" stroke="#1fa79d" stroke-width="0.55" stroke-linejoin="round"/><polyline points="27.9,165.3 30.99,179.09 34.08,190.72 37.17,193.54 40.26,194.34 43.35,199.91 46.44,202.59 49.53,202.96 52.62,211.3 55.71,214 58.8,214 61.89,214 64.98,214 68.07,214 71.16,214 74.25,214 77.34,214 80.43,214 83.52,214 86.61,215.23 89.7,219.49 92.79,221.53 95.88,221.94 98.97,222.3 102.06,222.65 105.15,223 108.24,223.1 111.33,223.1 114.42,223.1 117.51,223.1 120.6,223.1 123.69,223.1 126.78,223.1 129.87,223.1 132.96,223.1 136.05,223.1 139.14,224.34 142.23,226.02 145.32,226.05 148.41,226.08 151.5,226.11 154.59,226.15 157.68,226.18 160.77,226.21 163.86,226.24 166.95,226.27 170.04,226.39 173.13,226.91 176.22,227.42 179.31,228.14 182.4,228.9" fill="none" stroke="none" marker-start="url(#mABC)" marker-mid="url(#mABC)" marker-end="url(#mABC)"/><path d="M27.9 166L34.7 176.9L37.6 182.7L44 190L47.8 192.9L55.1 195.1L57.3 201.6L58.7 204.5L74 204.8L75.5 218L76.9 236.9L79.8 244.2L84.2 247.1L87.1 251.5L91.5 260.2L95.8 267.5L100.2 273.3L104.5 278.2L107 279.4L182.4 279.7" fill="none" stroke="#c8c8c8" stroke-width="0.45" stroke-linejoin="round"/><polyline points="27.9,166 30.99,170.95 34.08,175.91 37.17,181.84 40.26,185.73 43.35,189.26 46.44,191.86 49.53,193.42 52.62,194.35 55.71,196.9 58.8,204.5 61.89,204.56 64.98,204.62 68.07,204.68 71.16,204.74 74.25,207 77.34,238.01 80.43,244.62 83.52,246.65 86.61,250.76 89.7,256.64 92.79,262.39 95.88,267.61 98.97,271.68 102.06,275.42 105.15,278.51 108.24,279.4 111.33,279.42 114.42,279.43 117.51,279.44 120.6,279.45 123.69,279.47 126.78,279.48 129.87,279.49 132.96,279.5 136.05,279.52 139.14,279.53 142.23,279.54 145.32,279.55 148.41,279.56 151.5,279.58 154.59,279.59 157.68,279.6 160.77,279.61 163.86,279.63 166.95,279.64 170.04,279.65 173.13,279.66 176.22,279.68 179.31,279.69 182.4,279.7" fill="none" stroke="none" marker-start="url(#mVASPSO)" marker-mid="url(#mVASPSO)" marker-end="url(#mVASPSO)"/></g>
<text transform="translate(27.9 287.8) scale(1 1.078)" font-size="4.75" text-anchor="middle">0</text><text transform="translate(53.65 287.8) scale(1 1.078)" font-size="4.75" text-anchor="middle">100</text><text transform="translate(79.4 287.8) scale(1 1.078)" font-size="4.75" text-anchor="middle">200</text><text transform="translate(105.15 287.8) scale(1 1.078)" font-size="4.75" text-anchor="middle">300</text><text transform="translate(130.9 287.8) scale(1 1.078)" font-size="4.75" text-anchor="middle">400</text><text transform="translate(156.65 287.8) scale(1 1.078)" font-size="4.75" text-anchor="middle">500</text><text transform="translate(182.4 287.8) scale(1 1.078)" font-size="4.75" text-anchor="middle">600</text><text transform="translate(25.8 163.7) scale(1 1.078)" font-size="4.75" text-anchor="end">11000</text><text transform="translate(25.8 177) scale(1 1.078)" font-size="4.75" text-anchor="end">10000</text><text transform="translate(25.8 191.9) scale(1 1.078)" font-size="4.75" text-anchor="end">9000</text><text transform="translate(25.8 208.5) scale(1 1.078)" font-size="4.75" text-anchor="end">8000</text><text transform="translate(25.8 227) scale(1 1.078)" font-size="4.75" text-anchor="end">7000</text><text transform="translate(25.8 248.1) scale(1 1.078)" font-size="4.75" text-anchor="end">6000</text><text transform="translate(25.8 274) scale(1 1.078)" font-size="4.75" text-anchor="end">5000</text><text transform="translate(105.15 294.8) scale(1 1.078)" font-size="5.05" text-anchor="middle">Iterations</text><text transform="translate(105.15 156.8) scale(1 1.078)" font-size="5.05" text-anchor="middle">Shifted and Rotated Schwefel's Function</text><text transform="translate(10.25 219.7) rotate(-90)" font-size="5.03" text-anchor="middle">Objective function value</text>
<rect x="143.2" y="162.4" width="35.6" height="48.0" fill="#fff" stroke="#a0a0a0" stroke-width="0.45"/><path d="M144.6 166.6H158.6" stroke="#ff00ff" stroke-width="0.6" fill="none"/><rect x="150.82" y="165.72" width="1.76" height="1.76" fill="#ff00ff"/><text transform="translate(159.9 168.3) scale(1 1.078)" font-size="4.5">DE</text><path d="M144.6 172.47H158.6" stroke="#4488d6" stroke-width="0.5" fill="none"/><path d="M150.44 172.47L151.7 171.21L152.97 172.47L151.7 173.73Z" fill="#4488d6"/><text transform="translate(159.9 174.17) scale(1 1.078)" font-size="4.5">GWO</text><path d="M144.6 178.34H158.6" stroke="#ff1493" stroke-width="0.6" fill="none"/><circle cx="151.7" cy="178.34" r="1.26" fill="#ff1493"/><text transform="translate(159.9 180.04) scale(1 1.078)" font-size="4.5">CSO</text><path d="M144.6 184.21H158.6" stroke="#1c1c9c" stroke-width="0.75" stroke-dasharray="2.2,1.6" fill="none"/><polygon points="151.7,182.5 152.12,183.63 153.32,183.68 152.38,184.43 152.7,185.59 151.7,184.93 150.7,185.59 151.02,184.43 150.08,183.68 151.28,183.63" fill="#1c1c9c" stroke="#1c1c9c" stroke-width="0.3"/><text transform="translate(159.9 185.91) scale(1 1.078)" font-size="4.5">DBO</text><path d="M144.6 190.08H158.6" stroke="#8c7cff" stroke-width="0.55" stroke-dasharray="2.0,1.4,0.6,1.4" fill="none"/><rect x="150.9" y="189.28" width="1.59" height="1.59" fill="#8c7cff"/><text transform="translate(159.9 191.78) scale(1 1.078)" font-size="4.5">BWO</text><path d="M144.6 195.95H158.6" stroke="#d016d0" stroke-width="0.6" stroke-dasharray="2.2,1.6" fill="none"/><path d="M150.27 194.23L153.7 195.95L150.27 197.67Z" fill="none" stroke="#d016d0" stroke-width="0.55"/><text transform="translate(159.9 197.65) scale(1 1.078)" font-size="4.5">SSA</text><path d="M144.6 201.82H158.6" stroke="#1fa79d" stroke-width="0.55" fill="none"/><circle cx="151.7" cy="201.82" r="1.38" fill="none" stroke="#1fa79d" stroke-width="0.62"/><text transform="translate(159.9 203.52) scale(1 1.078)" font-size="4.5">ABC</text><path d="M144.6 207.69H158.6" stroke="#c8c8c8" stroke-width="0.45" fill="none"/><path d="M153.08 206.04L149.78 207.69L153.08 209.34Z" fill="none" stroke="#c8c8c8" stroke-width="0.4"/><text transform="translate(159.9 209.39) scale(1 1.078)" font-size="4.5">VASPSO</text>
<path d="M236.08 159.5V280.5" stroke="#efefef" stroke-width="0.5"/><path d="M261.77 159.5V280.5" stroke="#efefef" stroke-width="0.5"/><path d="M287.45 159.5V280.5" stroke="#efefef" stroke-width="0.5"/><path d="M313.13 159.5V280.5" stroke="#efefef" stroke-width="0.5"/><path d="M338.82 159.5V280.5" stroke="#efefef" stroke-width="0.5"/><path d="M210.4 262.29H364.5" stroke="#f3f3f3" stroke-width="0.4"/><path d="M210.4 251.63H364.5" stroke="#f3f3f3" stroke-width="0.4"/><path d="M210.4 244.08H364.5" stroke="#f3f3f3" stroke-width="0.4"/><path d="M210.4 238.21H364.5" stroke="#f3f3f3" stroke-width="0.4"/><path d="M210.4 233.42H364.5" stroke="#f3f3f3" stroke-width="0.4"/><path d="M210.4 229.37H364.5" stroke="#f3f3f3" stroke-width="0.4"/><path d="M210.4 225.86H364.5" stroke="#f3f3f3" stroke-width="0.4"/><path d="M210.4 222.77H364.5" stroke="#f3f3f3" stroke-width="0.4"/><path d="M210.4 201.79H364.5" stroke="#f3f3f3" stroke-width="0.4"/><path d="M210.4 191.13H364.5" stroke="#f3f3f3" stroke-width="0.4"/><path d="M210.4 183.58H364.5" stroke="#f3f3f3" stroke-width="0.4"/><path d="M210.4 177.71H364.5" stroke="#f3f3f3" stroke-width="0.4"/><path d="M210.4 172.92H364.5" stroke="#f3f3f3" stroke-width="0.4"/><path d="M210.4 168.87H364.5" stroke="#f3f3f3" stroke-width="0.4"/><path d="M210.4 165.36H364.5" stroke="#f3f3f3" stroke-width="0.4"/><path d="M210.4 162.27H364.5" stroke="#f3f3f3" stroke-width="0.4"/><path d="M210.4 220H364.5" stroke="#efefef" stroke-width="0.5"/>
<rect x="210.4" y="159.5" width="154.1" height="121" fill="none" stroke="#909090" stroke-width="0.7"/>
<path d="M210.4 280.5v-1.4M210.4 159.5v1.4M236.08 280.5v-1.4M236.08 159.5v1.4M261.77 280.5v-1.4M261.77 159.5v1.4M287.45 280.5v-1.4M287.45 159.5v1.4M313.13 280.5v-1.4M313.13 159.5v1.4M338.82 280.5v-1.4M338.82 159.5v1.4M364.5 280.5v-1.4M364.5 159.5v1.4M210.4 280.5h1.4M364.5 280.5h-1.4M210.4 220h1.4M364.5 220h-1.4M210.4 159.5h1.4M364.5 159.5h-1.4" stroke="#909090" stroke-width="0.45" fill="none"/>
<clipPath id="c37"><rect x="208.4" y="157.5" width="158.1" height="125"/></clipPath><g clip-path="url(#c37)"><path d="M210.4 186.4L238.5 186.4L241.5 189.3L253.1 189.7L255.3 192.9L257.5 199.5L280.7 199.5L282.9 200.5L292.5 200.5L298.4 208.6L304.9 208.6L307.8 216.2L310 216.5L364.5 216.5" fill="none" stroke="#ff00ff" stroke-width="0.6" stroke-linejoin="round"/><polyline points="210.4,186.4 213.48,186.4 216.56,186.4 219.65,186.4 222.73,186.4 225.81,186.4 228.89,186.4 231.97,186.4 235.06,186.4 238.14,186.4 241.22,189.03 244.3,189.4 247.38,189.5 250.47,189.61 253.55,190.35 256.63,196.89 259.71,199.5 262.79,199.5 265.88,199.5 268.96,199.5 272.04,199.5 275.12,199.5 278.2,199.5 281.29,199.77 284.37,200.5 287.45,200.5 290.53,200.5 293.61,202.03 296.7,206.26 299.78,208.6 302.86,208.6 305.94,211.33 309.02,216.37 312.11,216.5 315.19,216.5 318.27,216.5 321.35,216.5 324.43,216.5 327.52,216.5 330.6,216.5 333.68,216.5 336.76,216.5 339.84,216.5 342.93,216.5 346.01,216.5 349.09,216.5 352.17,216.5 355.25,216.5 358.34,216.5 361.42,216.5 364.5,216.5" fill="none" stroke="none" marker-start="url(#mDE)" marker-mid="url(#mDE)" marker-end="url(#mDE)"/><path d="M210.4 178.4L212.4 198.7L216.7 203.1L219.6 213.3L224 215.5L226.9 216.2L364.5 216.6" fill="none" stroke="#4488d6" stroke-width="0.5" stroke-linejoin="round"/><polyline points="210.4,178.4 213.48,199.81 216.56,202.96 219.65,213.32 222.73,214.86 225.81,215.94 228.89,216.21 231.97,216.21 235.06,216.22 238.14,216.23 241.22,216.24 244.3,216.25 247.38,216.26 250.47,216.27 253.55,216.28 256.63,216.29 259.71,216.3 262.79,216.3 265.88,216.31 268.96,216.32 272.04,216.33 275.12,216.34 278.2,216.35 281.29,216.36 284.37,216.37 287.45,216.38 290.53,216.38 293.61,216.39 296.7,216.4 299.78,216.41 302.86,216.42 305.94,216.43 309.02,216.44 312.11,216.45 315.19,216.46 318.27,216.47 321.35,216.47 324.43,216.48 327.52,216.49 330.6,216.5 333.68,216.51 336.76,216.52 339.84,216.53 342.93,216.54 346.01,216.55 349.09,216.56 352.17,216.56 355.25,216.57 358.34,216.58 361.42,216.59 364.5,216.6" fill="none" stroke="none" marker-start="url(#mGWO)" marker-mid="url(#mGWO)" marker-end="url(#mGWO)"/><path d="M210.4 174.7L213.1 220.9L216.7 235.5L219.6 253.6L223.3 256.1L226.2 263.1L232.7 264.5L244.4 265.6L263.3 266L272 267.5L288 268.6L290.4 268.9L292.5 270.4L330 271.4L364.5 272.1" fill="none" stroke="#ff1493" stroke-width="0.6" stroke-linejoin="round"/><polyline points="210.4,174.7 213.48,222.45 216.56,234.95 219.65,253.63 222.73,255.71 225.81,262.16 228.89,263.68 231.97,264.34 235.06,264.72 238.14,265.01 241.22,265.3 244.3,265.59 247.38,265.66 250.47,265.73 253.55,265.79 256.63,265.86 259.71,265.92 262.79,265.99 265.88,266.44 268.96,266.98 272.04,267.5 275.12,267.71 278.2,267.93 281.29,268.14 284.37,268.35 287.45,268.56 290.53,268.99 293.61,270.43 296.7,270.51 299.78,270.59 302.86,270.68 305.94,270.76 309.02,270.84 312.11,270.92 315.19,271.01 318.27,271.09 321.35,271.17 324.43,271.25 327.52,271.33 330.6,271.41 333.68,271.47 336.76,271.54 339.84,271.6 342.93,271.66 346.01,271.72 349.09,271.79 352.17,271.85 355.25,271.91 358.34,271.97 361.42,272.04 364.5,272.1" fill="none" stroke="none" marker-start="url(#mCSO)" marker-mid="url(#mCSO)" marker-end="url(#mCSO)"/><path d="M210.4 196.5L211.5 215L213.1 230.4L218.2 230.8L221.1 234L224 236.2L226.2 244.9L231.3 247.8L234.9 254.4L242.9 255.1L261.8 255.8L264 260.9L273.5 261.6L277.8 263.8L288 264.5L330 265.6L364.5 266.7" fill="none" stroke="#1c1c9c" stroke-width="0.75" stroke-dasharray="2.2,1.6" stroke-linejoin="round"/><polyline points="210.4,196.5 213.48,230.43 216.56,230.67 219.65,232.4 222.73,235.24 225.81,243.36 228.89,246.43 231.97,249.04 235.06,254.41 238.14,254.68 241.22,254.95 244.3,255.15 247.38,255.27 250.47,255.38 253.55,255.49 256.63,255.61 259.71,255.72 262.79,258.1 265.88,261.04 268.96,261.27 272.04,261.49 275.12,262.43 278.2,263.83 281.29,264.04 284.37,264.25 287.45,264.46 290.53,264.57 293.61,264.65 296.7,264.73 299.78,264.81 302.86,264.89 305.94,264.97 309.02,265.05 312.11,265.13 315.19,265.21 318.27,265.29 321.35,265.37 324.43,265.45 327.52,265.53 330.6,265.62 333.68,265.72 336.76,265.82 339.84,265.91 342.93,266.01 346.01,266.11 349.09,266.21 352.17,266.31 355.25,266.41 358.34,266.5 361.42,266.6 364.5,266.7" fill="none" stroke="none" marker-start="url(#mDBO)" marker-mid="url(#mDBO)" marker-end="url(#mDBO)"/><path d="M210.4 185L213 205L216.7 218L219.6 225.3L222.5 232.5L229.8 236.9L232 247.1L237.1 252.9L244.4 258.7L251.6 260.9L266.2 262.4L288 264.5L330 265.8L364.5 266.9" fill="none" stroke="#8c7cff" stroke-width="0.55" stroke-dasharray="2.0,1.4,0.6,1.4" stroke-linejoin="round"/><polyline points="210.4,185 213.48,206.69 216.56,217.52 219.65,225.41 222.73,232.64 225.81,234.5 228.89,236.35 231.97,246.98 235.06,250.58 238.14,253.72 241.22,256.17 244.3,258.62 247.38,259.61 250.47,260.55 253.55,261.1 256.63,261.42 259.71,261.73 262.79,262.05 265.88,262.37 268.96,262.67 272.04,262.96 275.12,263.26 278.2,263.56 281.29,263.85 284.37,264.15 287.45,264.45 290.53,264.58 293.61,264.67 296.7,264.77 299.78,264.86 302.86,264.96 305.94,265.06 309.02,265.15 312.11,265.25 315.19,265.34 318.27,265.44 321.35,265.53 324.43,265.63 327.52,265.72 330.6,265.82 333.68,265.92 336.76,266.02 339.84,266.11 342.93,266.21 346.01,266.31 349.09,266.41 352.17,266.51 355.25,266.61 358.34,266.7 361.42,266.8 364.5,266.9" fill="none" stroke="none" marker-start="url(#mBWO)" marker-mid="url(#mBWO)" marker-end="url(#mBWO)"/><path d="M210.4 186.4L211.5 187.1L226.2 187.1L228.4 216.2L364.5 216.5" fill="none" stroke="#d016d0" stroke-width="0.6" stroke-dasharray="2.2,1.6" stroke-linejoin="round"/><polyline points="210.4,186.4 213.48,187.1 216.56,187.1 219.65,187.1 222.73,187.1 225.81,187.1 228.89,216.2 231.97,216.21 235.06,216.21 238.14,216.22 241.22,216.23 244.3,216.24 247.38,216.24 250.47,216.25 253.55,216.26 256.63,216.26 259.71,216.27 262.79,216.28 265.88,216.28 268.96,216.29 272.04,216.3 275.12,216.3 278.2,216.31 281.29,216.32 284.37,216.32 287.45,216.33 290.53,216.34 293.61,216.34 296.7,216.35 299.78,216.36 302.86,216.36 305.94,216.37 309.02,216.38 312.11,216.38 315.19,216.39 318.27,216.4 321.35,216.4 324.43,216.41 327.52,216.42 330.6,216.43 333.68,216.43 336.76,216.44 339.84,216.45 342.93,216.45 346.01,216.46 349.09,216.47 352.17,216.47 355.25,216.48 358.34,216.49 361.42,216.49 364.5,216.5" fill="none" stroke="none" marker-start="url(#mSSA)" marker-mid="url(#mSSA)" marker-end="url(#mSSA)"/><path d="M210.4 179.1L212.4 198.7L215.3 207.5L218.2 211.8L221.8 218L223.3 224.5L229.8 227.5L232 244.2L234.2 247.1L241.5 249.3L251.6 251.2L266.2 252.9L269.8 257.3L280.7 257L288 259.5L290.4 263.1L294.7 264.5L330 265.6L364.5 266.7" fill="none" stroke="#1fa79d" stroke-width="0.55" stroke-linejoin="round"/><polyline points="210.4,179.1 213.48,201.98 216.56,209.37 219.65,214.29 222.73,222.02 225.81,225.66 228.89,227.08 231.97,244 235.06,247.36 238.14,248.29 241.22,249.22 244.3,249.83 247.38,250.41 250.47,250.99 253.55,251.43 256.63,251.79 259.71,252.14 262.79,252.5 265.88,252.86 268.96,256.27 272.04,257.24 275.12,257.15 278.2,257.07 281.29,257.2 284.37,258.26 287.45,259.31 290.53,263.14 293.61,264.15 296.7,264.56 299.78,264.66 302.86,264.75 305.94,264.85 309.02,264.95 312.11,265.04 315.19,265.14 318.27,265.23 321.35,265.33 324.43,265.43 327.52,265.52 330.6,265.62 333.68,265.72 336.76,265.82 339.84,265.91 342.93,266.01 346.01,266.11 349.09,266.21 352.17,266.31 355.25,266.41 358.34,266.5 361.42,266.6 364.5,266.7" fill="none" stroke="none" marker-start="url(#mABC)" marker-mid="url(#mABC)" marker-end="url(#mABC)"/><path d="M210.4 184L212.5 205L215.3 218L222.5 236.9L229.8 245.6L237.1 252.2L244.4 257.3L251.6 261.6L258.9 265.3L266.2 268.2L273.5 270.4L288 271.8L300 273.2L364.5 273.4" fill="none" stroke="#c8c8c8" stroke-width="0.45" stroke-linejoin="round"/><polyline points="210.4,184 213.48,209.56 216.56,221.32 219.65,229.41 222.73,237.17 225.81,240.84 228.89,244.52 231.97,247.57 235.06,250.35 238.14,252.93 241.22,255.08 244.3,257.23 247.38,259.08 250.47,260.92 253.55,262.59 256.63,264.15 259.71,265.62 262.79,266.85 265.88,268.07 268.96,269.03 272.04,269.96 275.12,270.56 278.2,270.85 281.29,271.15 284.37,271.45 287.45,271.75 290.53,272.1 293.61,272.45 296.7,272.81 299.78,273.17 302.86,273.21 305.94,273.22 309.02,273.23 312.11,273.24 315.19,273.25 318.27,273.26 321.35,273.27 324.43,273.28 327.52,273.29 330.6,273.29 333.68,273.3 336.76,273.31 339.84,273.32 342.93,273.33 346.01,273.34 349.09,273.35 352.17,273.36 355.25,273.37 358.34,273.38 361.42,273.39 364.5,273.4" fill="none" stroke="none" marker-start="url(#mVASPSO)" marker-mid="url(#mVASPSO)" marker-end="url(#mVASPSO)"/></g>
<text transform="translate(210.4 287.8) scale(1 1.078)" font-size="4.75" text-anchor="middle">0</text><text transform="translate(236.08 287.8) scale(1 1.078)" font-size="4.75" text-anchor="middle">100</text><text transform="translate(261.77 287.8) scale(1 1.078)" font-size="4.75" text-anchor="middle">200</text><text transform="translate(287.45 287.8) scale(1 1.078)" font-size="4.75" text-anchor="middle">300</text><text transform="translate(313.13 287.8) scale(1 1.078)" font-size="4.75" text-anchor="middle">400</text><text transform="translate(338.82 287.8) scale(1 1.078)" font-size="4.75" text-anchor="middle">500</text><text transform="translate(364.5 287.8) scale(1 1.078)" font-size="4.75" text-anchor="middle">600</text><text transform="translate(206.62 162) scale(1 1.078)" font-size="4.7" text-anchor="end">10</text><text transform="translate(206.72 159.4) scale(1 1.078)" font-size="3.2">5</text><text transform="translate(206.62 222.5) scale(1 1.078)" font-size="4.7" text-anchor="end">10</text><text transform="translate(206.72 219.9) scale(1 1.078)" font-size="3.2">4</text><text transform="translate(206.62 283) scale(1 1.078)" font-size="4.7" text-anchor="end">10</text><text transform="translate(206.72 280.4) scale(1 1.078)" font-size="3.2">3</text><text transform="translate(287.45 294.8) scale(1 1.078)" font-size="5.05" text-anchor="middle">Iterations</text><text transform="translate(287.45 156.8) scale(1 1.078)" font-size="5.05" text-anchor="middle">Hybrid Function 1 (N = 3)</text><text transform="translate(198 219.7) rotate(-90)" font-size="5.03" text-anchor="middle">Objective function value</text>
<rect x="325.3" y="162.4" width="35.6" height="48.0" fill="#fff" stroke="#a0a0a0" stroke-width="0.45"/><path d="M326.7 166.6H340.7" stroke="#ff00ff" stroke-width="0.6" fill="none"/><rect x="332.92" y="165.72" width="1.76" height="1.76" fill="#ff00ff"/><text transform="translate(342 168.3) scale(1 1.078)" font-size="4.5">DE</text><path d="M326.7 172.47H340.7" stroke="#4488d6" stroke-width="0.5" fill="none"/><path d="M332.53 172.47L333.8 171.21L335.06 172.47L333.8 173.73Z" fill="#4488d6"/><text transform="translate(342 174.17) scale(1 1.078)" font-size="4.5">GWO</text><path d="M326.7 178.34H340.7" stroke="#ff1493" stroke-width="0.6" fill="none"/><circle cx="333.8" cy="178.34" r="1.26" fill="#ff1493"/><text transform="translate(342 180.04) scale(1 1.078)" font-size="4.5">CSO</text><path d="M326.7 184.21H340.7" stroke="#1c1c9c" stroke-width="0.75" stroke-dasharray="2.2,1.6" fill="none"/><polygon points="333.8,182.5 334.22,183.63 335.42,183.68 334.48,184.43 334.8,185.59 333.8,184.93 332.8,185.59 333.12,184.43 332.18,183.68 333.38,183.63" fill="#1c1c9c" stroke="#1c1c9c" stroke-width="0.3"/><text transform="translate(342 185.91) scale(1 1.078)" font-size="4.5">DBO</text><path d="M326.7 190.08H340.7" stroke="#8c7cff" stroke-width="0.55" stroke-dasharray="2.0,1.4,0.6,1.4" fill="none"/><rect x="333" y="189.28" width="1.59" height="1.59" fill="#8c7cff"/><text transform="translate(342 191.78) scale(1 1.078)" font-size="4.5">BWO</text><path d="M326.7 195.95H340.7" stroke="#d016d0" stroke-width="0.6" stroke-dasharray="2.2,1.6" fill="none"/><path d="M332.37 194.23L335.8 195.95L332.37 197.67Z" fill="none" stroke="#d016d0" stroke-width="0.55"/><text transform="translate(342 197.65) scale(1 1.078)" font-size="4.5">SSA</text><path d="M326.7 201.82H340.7" stroke="#1fa79d" stroke-width="0.55" fill="none"/><circle cx="333.8" cy="201.82" r="1.38" fill="none" stroke="#1fa79d" stroke-width="0.62"/><text transform="translate(342 203.52) scale(1 1.078)" font-size="4.5">ABC</text><path d="M326.7 207.69H340.7" stroke="#c8c8c8" stroke-width="0.45" fill="none"/><path d="M335.17 206.04L331.87 207.69L335.17 209.34Z" fill="none" stroke="#c8c8c8" stroke-width="0.4"/><text transform="translate(342 209.39) scale(1 1.078)" font-size="4.5">VASPSO</text>
<path d="M413.47 159.5V280.5" stroke="#efefef" stroke-width="0.5"/><path d="M439.13 159.5V280.5" stroke="#efefef" stroke-width="0.5"/><path d="M464.8 159.5V280.5" stroke="#efefef" stroke-width="0.5"/><path d="M490.47 159.5V280.5" stroke="#efefef" stroke-width="0.5"/><path d="M516.13 159.5V280.5" stroke="#efefef" stroke-width="0.5"/><path d="M387.8 275.3H541.8" stroke="#f3f3f3" stroke-width="0.4"/><path d="M387.8 272.25H541.8" stroke="#f3f3f3" stroke-width="0.4"/><path d="M387.8 270.09H541.8" stroke="#f3f3f3" stroke-width="0.4"/><path d="M387.8 268.42H541.8" stroke="#f3f3f3" stroke-width="0.4"/><path d="M387.8 267.05H541.8" stroke="#f3f3f3" stroke-width="0.4"/><path d="M387.8 265.89H541.8" stroke="#f3f3f3" stroke-width="0.4"/><path d="M387.8 264.89H541.8" stroke="#f3f3f3" stroke-width="0.4"/><path d="M387.8 264.01H541.8" stroke="#f3f3f3" stroke-width="0.4"/><path d="M387.8 258.01H541.8" stroke="#f3f3f3" stroke-width="0.4"/><path d="M387.8 254.97H541.8" stroke="#f3f3f3" stroke-width="0.4"/><path d="M387.8 252.81H541.8" stroke="#f3f3f3" stroke-width="0.4"/><path d="M387.8 251.13H541.8" stroke="#f3f3f3" stroke-width="0.4"/><path d="M387.8 249.76H541.8" stroke="#f3f3f3" stroke-width="0.4"/><path d="M387.8 248.61H541.8" stroke="#f3f3f3" stroke-width="0.4"/><path d="M387.8 247.6H541.8" stroke="#f3f3f3" stroke-width="0.4"/><path d="M387.8 246.72H541.8" stroke="#f3f3f3" stroke-width="0.4"/><path d="M387.8 240.73H541.8" stroke="#f3f3f3" stroke-width="0.4"/><path d="M387.8 237.68H541.8" stroke="#f3f3f3" stroke-width="0.4"/><path d="M387.8 235.52H541.8" stroke="#f3f3f3" stroke-width="0.4"/><path d="M387.8 233.85H541.8" stroke="#f3f3f3" stroke-width="0.4"/><path d="M387.8 232.48H541.8" stroke="#f3f3f3" stroke-width="0.4"/><path d="M387.8 231.32H541.8" stroke="#f3f3f3" stroke-width="0.4"/><path d="M387.8 230.32H541.8" stroke="#f3f3f3" stroke-width="0.4"/><path d="M387.8 229.43H541.8" stroke="#f3f3f3" stroke-width="0.4"/><path d="M387.8 223.44H541.8" stroke="#f3f3f3" stroke-width="0.4"/><path d="M387.8 220.4H541.8" stroke="#f3f3f3" stroke-width="0.4"/><path d="M387.8 218.24H541.8" stroke="#f3f3f3" stroke-width="0.4"/><path d="M387.8 216.56H541.8" stroke="#f3f3f3" stroke-width="0.4"/><path d="M387.8 215.19H541.8" stroke="#f3f3f3" stroke-width="0.4"/><path d="M387.8 214.03H541.8" stroke="#f3f3f3" stroke-width="0.4"/><path d="M387.8 213.03H541.8" stroke="#f3f3f3" stroke-width="0.4"/><path d="M387.8 212.15H541.8" stroke="#f3f3f3" stroke-width="0.4"/><path d="M387.8 206.15H541.8" stroke="#f3f3f3" stroke-width="0.4"/><path d="M387.8 203.11H541.8" stroke="#f3f3f3" stroke-width="0.4"/><path d="M387.8 200.95H541.8" stroke="#f3f3f3" stroke-width="0.4"/><path d="M387.8 199.27H541.8" stroke="#f3f3f3" stroke-width="0.4"/><path d="M387.8 197.91H541.8" stroke="#f3f3f3" stroke-width="0.4"/><path d="M387.8 196.75H541.8" stroke="#f3f3f3" stroke-width="0.4"/><path d="M387.8 195.75H541.8" stroke="#f3f3f3" stroke-width="0.4"/><path d="M387.8 194.86H541.8" stroke="#f3f3f3" stroke-width="0.4"/><path d="M387.8 188.87H541.8" stroke="#f3f3f3" stroke-width="0.4"/><path d="M387.8 185.82H541.8" stroke="#f3f3f3" stroke-width="0.4"/><path d="M387.8 183.66H541.8" stroke="#f3f3f3" stroke-width="0.4"/><path d="M387.8 181.99H541.8" stroke="#f3f3f3" stroke-width="0.4"/><path d="M387.8 180.62H541.8" stroke="#f3f3f3" stroke-width="0.4"/><path d="M387.8 179.46H541.8" stroke="#f3f3f3" stroke-width="0.4"/><path d="M387.8 178.46H541.8" stroke="#f3f3f3" stroke-width="0.4"/><path d="M387.8 177.58H541.8" stroke="#f3f3f3" stroke-width="0.4"/><path d="M387.8 171.58H541.8" stroke="#f3f3f3" stroke-width="0.4"/><path d="M387.8 168.54H541.8" stroke="#f3f3f3" stroke-width="0.4"/><path d="M387.8 166.38H541.8" stroke="#f3f3f3" stroke-width="0.4"/><path d="M387.8 164.7H541.8" stroke="#f3f3f3" stroke-width="0.4"/><path d="M387.8 163.33H541.8" stroke="#f3f3f3" stroke-width="0.4"/><path d="M387.8 162.18H541.8" stroke="#f3f3f3" stroke-width="0.4"/><path d="M387.8 161.18H541.8" stroke="#f3f3f3" stroke-width="0.4"/><path d="M387.8 160.29H541.8" stroke="#f3f3f3" stroke-width="0.4"/><path d="M387.8 263.21H541.8" stroke="#efefef" stroke-width="0.5"/><path d="M387.8 245.93H541.8" stroke="#efefef" stroke-width="0.5"/><path d="M387.8 228.64H541.8" stroke="#efefef" stroke-width="0.5"/><path d="M387.8 211.36H541.8" stroke="#efefef" stroke-width="0.5"/><path d="M387.8 194.07H541.8" stroke="#efefef" stroke-width="0.5"/><path d="M387.8 176.79H541.8" stroke="#efefef" stroke-width="0.5"/>
<rect x="387.8" y="159.5" width="154" height="121" fill="none" stroke="#909090" stroke-width="0.7"/>
<path d="M387.8 280.5v-1.4M387.8 159.5v1.4M413.47 280.5v-1.4M413.47 159.5v1.4M439.13 280.5v-1.4M439.13 159.5v1.4M464.8 280.5v-1.4M464.8 159.5v1.4M490.47 280.5v-1.4M490.47 159.5v1.4M516.13 280.5v-1.4M516.13 159.5v1.4M541.8 280.5v-1.4M541.8 159.5v1.4M387.8 280.5h1.4M541.8 280.5h-1.4M387.8 263.21h1.4M541.8 263.21h-1.4M387.8 245.93h1.4M541.8 245.93h-1.4M387.8 228.64h1.4M541.8 228.64h-1.4M387.8 211.36h1.4M541.8 211.36h-1.4M387.8 194.07h1.4M541.8 194.07h-1.4M387.8 176.79h1.4M541.8 176.79h-1.4M387.8 159.5h1.4M541.8 159.5h-1.4" stroke="#909090" stroke-width="0.45" fill="none"/>
<clipPath id="c43"><rect x="385.8" y="157.5" width="158" height="125"/></clipPath><g clip-path="url(#c43)"><path d="M387.8 169.6L390.8 190.7L395.2 195.8L399.5 200.2L403.2 206L406.8 208.9L410.5 209.6L413.4 214L419.9 214.7L422.8 216.2L427.2 216.9L431.5 219.1L443.2 219.6L451.9 221.6L465 223.1L473.2 223.5L476.1 226.4L478 226.7L528 227L541.8 228.5" fill="none" stroke="#ff00ff" stroke-width="0.6" stroke-linejoin="round"/><polyline points="387.8,169.6 390.88,190.79 393.96,194.36 397.04,197.68 400.12,201.17 403.2,206 406.28,208.48 409.36,209.38 412.44,212.54 415.52,214.23 418.6,214.56 421.68,215.62 424.76,216.51 427.84,217.23 430.92,218.8 434,219.21 437.08,219.34 440.16,219.47 443.24,219.61 446.32,220.32 449.4,221.03 452.48,221.67 455.56,222.02 458.64,222.37 461.72,222.72 464.8,223.08 467.88,223.24 470.96,223.39 474.04,224.34 477.12,226.56 480.2,226.71 483.28,226.73 486.36,226.75 489.44,226.77 492.52,226.79 495.6,226.81 498.68,226.82 501.76,226.84 504.84,226.86 507.92,226.88 511,226.9 514.08,226.92 517.16,226.93 520.24,226.95 523.32,226.97 526.4,226.99 529.48,227.16 532.56,227.5 535.64,227.83 538.72,228.17 541.8,228.5" fill="none" stroke="none" marker-start="url(#mDE)" marker-mid="url(#mDE)" marker-end="url(#mDE)"/><path d="M387.8 169.6L390.8 179.8L395.2 187.1L399.5 192.2L403.9 195.1L406 195.4L541.8 195.4" fill="none" stroke="#4488d6" stroke-width="0.5" stroke-linejoin="round"/><polyline points="387.8,169.6 390.88,179.93 393.96,185.04 397.04,189.28 400.12,192.61 403.2,194.64 406.28,195.4 409.36,195.4 412.44,195.4 415.52,195.4 418.6,195.4 421.68,195.4 424.76,195.4 427.84,195.4 430.92,195.4 434,195.4 437.08,195.4 440.16,195.4 443.24,195.4 446.32,195.4 449.4,195.4 452.48,195.4 455.56,195.4 458.64,195.4 461.72,195.4 464.8,195.4 467.88,195.4 470.96,195.4 474.04,195.4 477.12,195.4 480.2,195.4 483.28,195.4 486.36,195.4 489.44,195.4 492.52,195.4 495.6,195.4 498.68,195.4 501.76,195.4 504.84,195.4 507.92,195.4 511,195.4 514.08,195.4 517.16,195.4 520.24,195.4 523.32,195.4 526.4,195.4 529.48,195.4 532.56,195.4 535.64,195.4 538.72,195.4 541.8,195.4" fill="none" stroke="none" marker-start="url(#mGWO)" marker-mid="url(#mGWO)" marker-end="url(#mGWO)"/><path d="M387.8 168.2L390.1 187.1L393.7 192.9L399.5 198L403.2 202.4L405.4 203.1L442.5 203.1L443.9 205.3L451.9 205.3L453.4 208.9L455 212.1L476.8 212.1L479 220.6L511 220.9L513.9 222.4L519.7 223.1L524.1 226L527 232.5L532.8 236.9L537.2 244.2L540.1 249.3L541.8 264.5" fill="none" stroke="#ff1493" stroke-width="0.6" stroke-linejoin="round"/><polyline points="387.8,168.2 390.88,188.36 393.96,193.13 397.04,195.84 400.12,198.74 403.2,202.4 406.28,203.1 409.36,203.1 412.44,203.1 415.52,203.1 418.6,203.1 421.68,203.1 424.76,203.1 427.84,203.1 430.92,203.1 434,203.1 437.08,203.1 440.16,203.1 443.24,204.26 446.32,205.3 449.4,205.3 452.48,206.69 455.56,212.1 458.64,212.1 461.72,212.1 464.8,212.1 467.88,212.1 470.96,212.1 474.04,212.1 477.12,213.34 480.2,220.61 483.28,220.64 486.36,220.67 489.44,220.7 492.52,220.73 495.6,220.76 498.68,220.78 501.76,220.81 504.84,220.84 507.92,220.87 511,220.9 514.08,222.42 517.16,222.79 520.24,223.46 523.32,225.49 526.4,231.16 529.48,234.38 532.56,236.72 535.64,241.61 538.72,246.87 541.8,264.5" fill="none" stroke="none" marker-start="url(#mCSO)" marker-mid="url(#mCSO)" marker-end="url(#mCSO)"/><path d="M387.8 170.4L392.3 183.5L396.6 187.1L401 189.3L403.9 195.1L412.6 196.5L414.1 201.6L416.3 204.5L422.8 205.3L441.7 205.7L444.6 208.9L451.9 208.9L454.1 211.8L465 212.4L473.2 214L476.1 216.2L479 219.5L483.4 222.4L487.7 227.5L490.6 232.5L503.7 234L506.6 236.9L513.9 237.6L516.8 240.5L524.1 244.9L528.5 247.1L535.7 249.3L541.8 252.2" fill="none" stroke="#1c1c9c" stroke-width="0.75" stroke-dasharray="2.2,1.6" stroke-linejoin="round"/><polyline points="387.8,170.4 390.88,179.37 393.96,184.89 397.04,187.32 400.12,188.86 403.2,193.7 406.28,195.48 409.36,195.98 412.44,196.47 415.52,203.47 418.6,204.78 421.68,205.16 424.76,205.34 427.84,205.41 430.92,205.47 434,205.54 437.08,205.6 440.16,205.67 443.24,207.4 446.32,208.9 449.4,208.9 452.48,209.66 455.56,211.88 458.64,212.05 461.72,212.22 464.8,212.39 467.88,212.96 470.96,213.56 474.04,214.64 477.12,217.36 480.2,220.29 483.28,222.32 486.36,225.91 489.44,230.5 492.52,232.72 495.6,233.07 498.68,233.43 501.76,233.78 504.84,235.14 507.92,237.03 511,237.32 514.08,237.78 517.16,240.72 520.24,242.57 523.32,244.43 526.4,246.05 529.48,247.4 532.56,248.34 535.64,249.28 538.72,250.74 541.8,252.2" fill="none" stroke="none" marker-start="url(#mDBO)" marker-mid="url(#mDBO)" marker-end="url(#mDBO)"/><path d="M387.8 172.5L389.4 194.4L391.5 201.6L393.7 211.8L395.2 218L397.4 227.5L400.3 242L403.9 246.4L409.7 250.7L412.6 255.1L416.3 257.3L420 258L541.8 258" fill="none" stroke="#8c7cff" stroke-width="0.55" stroke-dasharray="2.0,1.4,0.6,1.4" stroke-linejoin="round"/><polyline points="387.8,172.5 390.88,199.47 393.96,212.87 397.04,225.95 400.12,241.1 403.2,245.54 406.28,248.16 409.36,250.45 412.44,254.86 415.52,256.84 418.6,257.74 421.68,258 424.76,258 427.84,258 430.92,258 434,258 437.08,258 440.16,258 443.24,258 446.32,258 449.4,258 452.48,258 455.56,258 458.64,258 461.72,258 464.8,258 467.88,258 470.96,258 474.04,258 477.12,258 480.2,258 483.28,258 486.36,258 489.44,258 492.52,258 495.6,258 498.68,258 501.76,258 504.84,258 507.92,258 511,258 514.08,258 517.16,258 520.24,258 523.32,258 526.4,258 529.48,258 532.56,258 535.64,258 538.72,258 541.8,258" fill="none" stroke="none" marker-start="url(#mBWO)" marker-mid="url(#mBWO)" marker-end="url(#mBWO)"/><path d="M387.8 168.9L389.4 174L392.3 176.6L395 176.9L541.8 176.9" fill="none" stroke="#d016d0" stroke-width="0.6" stroke-dasharray="2.2,1.6" stroke-linejoin="round"/><polyline points="387.8,168.9 390.88,175.33 393.96,176.78 397.04,176.9 400.12,176.9 403.2,176.9 406.28,176.9 409.36,176.9 412.44,176.9 415.52,176.9 418.6,176.9 421.68,176.9 424.76,176.9 427.84,176.9 430.92,176.9 434,176.9 437.08,176.9 440.16,176.9 443.24,176.9 446.32,176.9 449.4,176.9 452.48,176.9 455.56,176.9 458.64,176.9 461.72,176.9 464.8,176.9 467.88,176.9 470.96,176.9 474.04,176.9 477.12,176.9 480.2,176.9 483.28,176.9 486.36,176.9 489.44,176.9 492.52,176.9 495.6,176.9 498.68,176.9 501.76,176.9 504.84,176.9 507.92,176.9 511,176.9 514.08,176.9 517.16,176.9 520.24,176.9 523.32,176.9 526.4,176.9 529.48,176.9 532.56,176.9 535.64,176.9 538.72,176.9 541.8,176.9" fill="none" stroke="none" marker-start="url(#mSSA)" marker-mid="url(#mSSA)" marker-end="url(#mSSA)"/><path d="M387.8 170.4L390.8 176.9L393.7 181.3L396.6 189.3L399.5 192.2L403.9 195.8L408.3 197.3L411.2 201.6L414.1 206L419.9 208.2L424.3 211.1L427.2 214L430.1 217.6L435.9 218.4L440.3 220.5L443.2 223.8L445 224.1L463.3 224.3L465.2 231.8L467 232.5L525.5 233.3L528.5 236.2L535.7 238.4L541.8 240.5" fill="none" stroke="#1fa79d" stroke-width="0.55" stroke-linejoin="round"/><polyline points="387.8,170.4 390.88,177.02 393.96,182.02 397.04,189.74 400.12,192.71 403.2,195.23 406.28,196.61 409.36,198.87 412.44,203.48 415.52,206.54 418.6,207.71 421.68,209.37 424.76,211.56 427.84,214.79 430.92,217.71 434,218.14 437.08,218.96 440.16,220.43 443.24,223.81 446.32,224.11 449.4,224.15 452.48,224.18 455.56,224.22 458.64,224.25 461.72,224.28 464.8,230.22 467.88,232.51 470.96,232.55 474.04,232.6 477.12,232.64 480.2,232.68 483.28,232.72 486.36,232.76 489.44,232.81 492.52,232.85 495.6,232.89 498.68,232.93 501.76,232.98 504.84,233.02 507.92,233.06 511,233.1 514.08,233.14 517.16,233.19 520.24,233.23 523.32,233.27 526.4,234.17 529.48,236.5 532.56,237.44 535.64,238.38 538.72,239.44 541.8,240.5" fill="none" stroke="none" marker-start="url(#mABC)" marker-mid="url(#mABC)" marker-end="url(#mABC)"/><path d="M387.8 170.4L392.3 182.7L398.1 191.5L405.4 195.8L411 198L418.5 207.5L425.7 213.3L433 217L441.7 222.4L446.1 231.1L451.9 239.8L456.3 248.5L460.6 255.8L465 260.3L470.3 263.8L477.5 268.2L484.8 270.1L499.4 270.4L541.8 270.7" fill="none" stroke="#c8c8c8" stroke-width="0.45" stroke-linejoin="round"/><polyline points="387.8,170.4 390.88,178.82 393.96,185.22 397.04,189.89 400.12,192.69 403.2,194.5 406.28,196.15 409.36,197.36 412.44,199.82 415.52,203.73 418.6,207.58 421.68,210.06 424.76,212.54 427.84,214.38 430.92,215.95 434,217.62 437.08,219.53 440.16,221.44 443.24,225.45 446.32,231.43 449.4,236.05 452.48,240.95 455.56,247.04 458.64,252.47 461.72,256.95 464.8,260.1 467.88,262.2 470.96,264.2 474.04,266.09 477.12,267.97 480.2,268.9 483.28,269.7 486.36,270.13 489.44,270.2 492.52,270.26 495.6,270.32 498.68,270.39 501.76,270.42 504.84,270.44 507.92,270.46 511,270.48 514.08,270.5 517.16,270.53 520.24,270.55 523.32,270.57 526.4,270.59 529.48,270.61 532.56,270.63 535.64,270.66 538.72,270.68 541.8,270.7" fill="none" stroke="none" marker-start="url(#mVASPSO)" marker-mid="url(#mVASPSO)" marker-end="url(#mVASPSO)"/></g>
<text transform="translate(387.8 287.8) scale(1 1.078)" font-size="4.75" text-anchor="middle">0</text><text transform="translate(413.47 287.8) scale(1 1.078)" font-size="4.75" text-anchor="middle">100</text><text transform="translate(439.13 287.8) scale(1 1.078)" font-size="4.75" text-anchor="middle">200</text><text transform="translate(464.8 287.8) scale(1 1.078)" font-size="4.75" text-anchor="middle">300</text><text transform="translate(490.47 287.8) scale(1 1.078)" font-size="4.75" text-anchor="middle">400</text><text transform="translate(516.13 287.8) scale(1 1.078)" font-size="4.75" text-anchor="middle">500</text><text transform="translate(541.8 287.8) scale(1 1.078)" font-size="4.75" text-anchor="middle">600</text><text transform="translate(382.25 162) scale(1 1.078)" font-size="4.7" text-anchor="end">10</text><text transform="translate(382.35 159.4) scale(1 1.078)" font-size="3.2">11</text><text transform="translate(382.25 179.29) scale(1 1.078)" font-size="4.7" text-anchor="end">10</text><text transform="translate(382.35 176.69) scale(1 1.078)" font-size="3.2">10</text><text transform="translate(384.02 196.57) scale(1 1.078)" font-size="4.7" text-anchor="end">10</text><text transform="translate(384.12 193.97) scale(1 1.078)" font-size="3.2">9</text><text transform="translate(384.02 213.86) scale(1 1.078)" font-size="4.7" text-anchor="end">10</text><text transform="translate(384.12 211.26) scale(1 1.078)" font-size="3.2">8</text><text transform="translate(384.02 231.14) scale(1 1.078)" font-size="4.7" text-anchor="end">10</text><text transform="translate(384.12 228.54) scale(1 1.078)" font-size="3.2">7</text><text transform="translate(384.02 248.43) scale(1 1.078)" font-size="4.7" text-anchor="end">10</text><text transform="translate(384.12 245.83) scale(1 1.078)" font-size="3.2">6</text><text transform="translate(384.02 265.71) scale(1 1.078)" font-size="4.7" text-anchor="end">10</text><text transform="translate(384.12 263.11) scale(1 1.078)" font-size="3.2">5</text><text transform="translate(384.02 283) scale(1 1.078)" font-size="4.7" text-anchor="end">10</text><text transform="translate(384.12 280.4) scale(1 1.078)" font-size="3.2">4</text><text transform="translate(464.8 294.8) scale(1 1.078)" font-size="5.05" text-anchor="middle">Iterations</text><text transform="translate(464.8 156.8) scale(1 1.078)" font-size="5.05" text-anchor="middle">Hybrid Function 3 (N = 3)</text><text transform="translate(373.05 219.7) rotate(-90)" font-size="5.03" text-anchor="middle">Objective function value</text>
<rect x="502.6" y="162.4" width="35.6" height="48.0" fill="#fff" stroke="#a0a0a0" stroke-width="0.45"/><path d="M504 166.6H518" stroke="#ff00ff" stroke-width="0.6" fill="none"/><rect x="510.22" y="165.72" width="1.76" height="1.76" fill="#ff00ff"/><text transform="translate(519.3 168.3) scale(1 1.078)" font-size="4.5">DE</text><path d="M504 172.47H518" stroke="#4488d6" stroke-width="0.5" fill="none"/><path d="M509.83 172.47L511.1 171.21L512.36 172.47L511.1 173.73Z" fill="#4488d6"/><text transform="translate(519.3 174.17) scale(1 1.078)" font-size="4.5">GWO</text><path d="M504 178.34H518" stroke="#ff1493" stroke-width="0.6" fill="none"/><circle cx="511.1" cy="178.34" r="1.26" fill="#ff1493"/><text transform="translate(519.3 180.04) scale(1 1.078)" font-size="4.5">CSO</text><path d="M504 184.21H518" stroke="#1c1c9c" stroke-width="0.75" stroke-dasharray="2.2,1.6" fill="none"/><polygon points="511.1,182.5 511.52,183.63 512.72,183.68 511.78,184.43 512.1,185.59 511.1,184.93 510.1,185.59 510.42,184.43 509.48,183.68 510.68,183.63" fill="#1c1c9c" stroke="#1c1c9c" stroke-width="0.3"/><text transform="translate(519.3 185.91) scale(1 1.078)" font-size="4.5">DBO</text><path d="M504 190.08H518" stroke="#8c7cff" stroke-width="0.55" stroke-dasharray="2.0,1.4,0.6,1.4" fill="none"/><rect x="510.3" y="189.28" width="1.59" height="1.59" fill="#8c7cff"/><text transform="translate(519.3 191.78) scale(1 1.078)" font-size="4.5">BWO</text><path d="M504 195.95H518" stroke="#d016d0" stroke-width="0.6" stroke-dasharray="2.2,1.6" fill="none"/><path d="M509.67 194.23L513.1 195.95L509.67 197.67Z" fill="none" stroke="#d016d0" stroke-width="0.55"/><text transform="translate(519.3 197.65) scale(1 1.078)" font-size="4.5">SSA</text><path d="M504 201.82H518" stroke="#1fa79d" stroke-width="0.55" fill="none"/><circle cx="511.1" cy="201.82" r="1.38" fill="none" stroke="#1fa79d" stroke-width="0.62"/><text transform="translate(519.3 203.52) scale(1 1.078)" font-size="4.5">ABC</text><path d="M504 207.69H518" stroke="#c8c8c8" stroke-width="0.45" fill="none"/><path d="M512.47 206.04L509.17 207.69L512.47 209.34Z" fill="none" stroke="#c8c8c8" stroke-width="0.4"/><text transform="translate(519.3 209.39) scale(1 1.078)" font-size="4.5">VASPSO</text>
<path d="M52.15 307.5V428.8" stroke="#efefef" stroke-width="0.5"/><path d="M77.8 307.5V428.8" stroke="#efefef" stroke-width="0.5"/><path d="M103.45 307.5V428.8" stroke="#efefef" stroke-width="0.5"/><path d="M129.1 307.5V428.8" stroke="#efefef" stroke-width="0.5"/><path d="M154.75 307.5V428.8" stroke="#efefef" stroke-width="0.5"/><path d="M26.5 421.5H180.4" stroke="#f3f3f3" stroke-width="0.4"/><path d="M26.5 417.23H180.4" stroke="#f3f3f3" stroke-width="0.4"/><path d="M26.5 414.19H180.4" stroke="#f3f3f3" stroke-width="0.4"/><path d="M26.5 411.84H180.4" stroke="#f3f3f3" stroke-width="0.4"/><path d="M26.5 409.92H180.4" stroke="#f3f3f3" stroke-width="0.4"/><path d="M26.5 408.3H180.4" stroke="#f3f3f3" stroke-width="0.4"/><path d="M26.5 406.89H180.4" stroke="#f3f3f3" stroke-width="0.4"/><path d="M26.5 405.65H180.4" stroke="#f3f3f3" stroke-width="0.4"/><path d="M26.5 397.24H180.4" stroke="#f3f3f3" stroke-width="0.4"/><path d="M26.5 392.97H180.4" stroke="#f3f3f3" stroke-width="0.4"/><path d="M26.5 389.93H180.4" stroke="#f3f3f3" stroke-width="0.4"/><path d="M26.5 387.58H180.4" stroke="#f3f3f3" stroke-width="0.4"/><path d="M26.5 385.66H180.4" stroke="#f3f3f3" stroke-width="0.4"/><path d="M26.5 384.04H180.4" stroke="#f3f3f3" stroke-width="0.4"/><path d="M26.5 382.63H180.4" stroke="#f3f3f3" stroke-width="0.4"/><path d="M26.5 381.39H180.4" stroke="#f3f3f3" stroke-width="0.4"/><path d="M26.5 372.98H180.4" stroke="#f3f3f3" stroke-width="0.4"/><path d="M26.5 368.71H180.4" stroke="#f3f3f3" stroke-width="0.4"/><path d="M26.5 365.67H180.4" stroke="#f3f3f3" stroke-width="0.4"/><path d="M26.5 363.32H180.4" stroke="#f3f3f3" stroke-width="0.4"/><path d="M26.5 361.4H180.4" stroke="#f3f3f3" stroke-width="0.4"/><path d="M26.5 359.78H180.4" stroke="#f3f3f3" stroke-width="0.4"/><path d="M26.5 358.37H180.4" stroke="#f3f3f3" stroke-width="0.4"/><path d="M26.5 357.13H180.4" stroke="#f3f3f3" stroke-width="0.4"/><path d="M26.5 348.72H180.4" stroke="#f3f3f3" stroke-width="0.4"/><path d="M26.5 344.45H180.4" stroke="#f3f3f3" stroke-width="0.4"/><path d="M26.5 341.41H180.4" stroke="#f3f3f3" stroke-width="0.4"/><path d="M26.5 339.06H180.4" stroke="#f3f3f3" stroke-width="0.4"/><path d="M26.5 337.14H180.4" stroke="#f3f3f3" stroke-width="0.4"/><path d="M26.5 335.52H180.4" stroke="#f3f3f3" stroke-width="0.4"/><path d="M26.5 334.11H180.4" stroke="#f3f3f3" stroke-width="0.4"/><path d="M26.5 332.87H180.4" stroke="#f3f3f3" stroke-width="0.4"/><path d="M26.5 324.46H180.4" stroke="#f3f3f3" stroke-width="0.4"/><path d="M26.5 320.19H180.4" stroke="#f3f3f3" stroke-width="0.4"/><path d="M26.5 317.15H180.4" stroke="#f3f3f3" stroke-width="0.4"/><path d="M26.5 314.8H180.4" stroke="#f3f3f3" stroke-width="0.4"/><path d="M26.5 312.88H180.4" stroke="#f3f3f3" stroke-width="0.4"/><path d="M26.5 311.26H180.4" stroke="#f3f3f3" stroke-width="0.4"/><path d="M26.5 309.85H180.4" stroke="#f3f3f3" stroke-width="0.4"/><path d="M26.5 308.61H180.4" stroke="#f3f3f3" stroke-width="0.4"/><path d="M26.5 404.54H180.4" stroke="#efefef" stroke-width="0.5"/><path d="M26.5 380.28H180.4" stroke="#efefef" stroke-width="0.5"/><path d="M26.5 356.02H180.4" stroke="#efefef" stroke-width="0.5"/><path d="M26.5 331.76H180.4" stroke="#efefef" stroke-width="0.5"/>
<rect x="26.5" y="307.5" width="153.9" height="121.3" fill="none" stroke="#909090" stroke-width="0.7"/>
<path d="M26.5 428.8v-1.4M26.5 307.5v1.4M52.15 428.8v-1.4M52.15 307.5v1.4M77.8 428.8v-1.4M77.8 307.5v1.4M103.45 428.8v-1.4M103.45 307.5v1.4M129.1 428.8v-1.4M129.1 307.5v1.4M154.75 428.8v-1.4M154.75 307.5v1.4M180.4 428.8v-1.4M180.4 307.5v1.4M26.5 428.8h1.4M180.4 428.8h-1.4M26.5 404.54h1.4M180.4 404.54h-1.4M26.5 380.28h1.4M180.4 380.28h-1.4M26.5 356.02h1.4M180.4 356.02h-1.4M26.5 331.76h1.4M180.4 331.76h-1.4M26.5 307.5h1.4M180.4 307.5h-1.4" stroke="#909090" stroke-width="0.45" fill="none"/>
<clipPath id="c49"><rect x="24.5" y="305.5" width="157.9" height="125.3"/></clipPath><g clip-path="url(#c49)"><path d="M26.5 332.9L29.1 361.3L32 364.2L40 364.5L42.2 368.5L45 368.8L92.4 368.8L95.3 371.5L180.4 371.6" fill="none" stroke="#ff00ff" stroke-width="0.6" stroke-linejoin="round"/><polyline points="26.5,332.9 29.58,361.78 32.66,364.22 35.73,364.34 38.81,364.46 41.89,367.94 44.97,368.8 48.05,368.8 51.12,368.8 54.2,368.8 57.28,368.8 60.36,368.8 63.44,368.8 66.51,368.8 69.59,368.8 72.67,368.8 75.75,368.8 78.83,368.8 81.9,368.8 84.98,368.8 88.06,368.8 91.14,368.8 94.22,370.49 97.29,371.5 100.37,371.51 103.45,371.51 106.53,371.51 109.61,371.52 112.68,371.52 115.76,371.52 118.84,371.53 121.92,371.53 125,371.53 128.07,371.54 131.15,371.54 134.23,371.55 137.31,371.55 140.39,371.55 143.46,371.56 146.54,371.56 149.62,371.56 152.7,371.57 155.78,371.57 158.85,371.57 161.93,371.58 165.01,371.58 168.09,371.59 171.17,371.59 174.24,371.59 177.32,371.6 180.4,371.6" fill="none" stroke="none" marker-start="url(#mDE)" marker-mid="url(#mDE)" marker-end="url(#mDE)"/><path d="M26.5 332.9L29.1 340.9L32.7 344.1L42.2 344.5L44.4 362.7L45.8 368.3L48 368.6L180.4 368.7" fill="none" stroke="#4488d6" stroke-width="0.5" stroke-linejoin="round"/><polyline points="26.5,332.9 29.58,341.32 32.66,344.06 35.73,344.23 38.81,344.36 41.89,344.49 44.97,364.97 48.05,368.6 51.12,368.6 54.2,368.6 57.28,368.61 60.36,368.61 63.44,368.61 66.51,368.61 69.59,368.62 72.67,368.62 75.75,368.62 78.83,368.62 81.9,368.63 84.98,368.63 88.06,368.63 91.14,368.63 94.22,368.63 97.29,368.64 100.37,368.64 103.45,368.64 106.53,368.64 109.61,368.65 112.68,368.65 115.76,368.65 118.84,368.65 121.92,368.66 125,368.66 128.07,368.66 131.15,368.66 134.23,368.67 137.31,368.67 140.39,368.67 143.46,368.67 146.54,368.67 149.62,368.68 152.7,368.68 155.78,368.68 158.85,368.68 161.93,368.69 165.01,368.69 168.09,368.69 171.17,368.69 174.24,368.7 177.32,368.7 180.4,368.7" fill="none" stroke="none" marker-start="url(#mGWO)" marker-mid="url(#mGWO)" marker-end="url(#mGWO)"/><path d="M26.5 324.9L29.1 366.7L32.7 371.1L35.6 373.6L48.7 374L51.6 375.5L55.3 375.9L58.2 380.5L63.3 381.3L65.5 383.5L73.5 383.7L76.4 387.8L102 387.8L104.9 392.2L112.2 392.5L115.1 394.4L126.7 394.8L129.6 396.8L135.5 397.3L138.4 400.2L144.2 400.9L145.6 402.4L151.5 402.4L155.8 407.5L161.6 411.8L167.5 413.3L171.8 416.2L176.2 418.4L180.4 419.5" fill="none" stroke="#ff1493" stroke-width="0.6" stroke-linejoin="round"/><polyline points="26.5,324.9 29.58,367.28 32.66,371.05 35.73,373.6 38.81,373.7 41.89,373.79 44.97,373.89 48.05,373.98 51.12,375.25 54.2,375.78 57.28,379.04 60.36,380.84 63.44,381.44 66.51,383.53 69.59,383.6 72.67,383.68 75.75,386.88 78.83,387.8 81.9,387.8 84.98,387.8 88.06,387.8 91.14,387.8 94.22,387.8 97.29,387.8 100.37,387.8 103.45,390 106.53,392.27 109.61,392.39 112.68,392.82 115.76,394.42 118.84,394.53 121.92,394.64 125,394.74 128.07,395.75 131.15,396.93 134.23,397.19 137.31,399.11 140.39,400.44 143.46,400.81 146.54,402.4 149.62,402.4 152.7,403.82 155.78,407.47 158.85,409.76 161.93,411.88 165.01,412.67 168.09,413.7 171.17,415.77 174.24,417.42 177.32,418.69 180.4,419.5" fill="none" stroke="none" marker-start="url(#mCSO)" marker-mid="url(#mCSO)" marker-end="url(#mCSO)"/><path d="M26.5 359.1L29.1 362L32.7 376.2L36.4 376.5L38.5 384.2L42.2 384.6L45.1 391.5L48 394.8L50 395.1L102 395.1L113.6 395.8L116.5 397.3L180.4 397.6" fill="none" stroke="#1c1c9c" stroke-width="0.75" stroke-dasharray="2.2,1.6" stroke-linejoin="round"/><polyline points="26.5,359.1 29.58,363.89 32.66,376.03 35.73,376.45 38.81,384.23 41.89,384.57 44.97,391.19 48.05,394.81 51.12,395.1 54.2,395.1 57.28,395.1 60.36,395.1 63.44,395.1 66.51,395.1 69.59,395.1 72.67,395.1 75.75,395.1 78.83,395.1 81.9,395.1 84.98,395.1 88.06,395.1 91.14,395.1 94.22,395.1 97.29,395.1 100.37,395.1 103.45,395.19 106.53,395.37 109.61,395.56 112.68,395.74 115.76,396.92 118.84,397.31 121.92,397.33 125,397.34 128.07,397.35 131.15,397.37 134.23,397.38 137.31,397.4 140.39,397.41 143.46,397.43 146.54,397.44 149.62,397.46 152.7,397.47 155.78,397.48 158.85,397.5 161.93,397.51 165.01,397.53 168.09,397.54 171.17,397.56 174.24,397.57 177.32,397.59 180.4,397.6" fill="none" stroke="none" marker-start="url(#mDBO)" marker-mid="url(#mDBO)" marker-end="url(#mDBO)"/><path d="M26.5 340L29.8 387.8L31.3 398L33.5 405.3L38.5 408.2L80.7 408.5L85.1 409.6L90.9 411.8L96.7 413.3L104 413.7L180.4 413.7" fill="none" stroke="#8c7cff" stroke-width="0.55" stroke-dasharray="2.0,1.4,0.6,1.4" stroke-linejoin="round"/><polyline points="26.5,340 29.58,384.58 32.66,402.5 35.73,406.6 38.81,408.2 41.89,408.22 44.97,408.25 48.05,408.27 51.12,408.29 54.2,408.31 57.28,408.33 60.36,408.36 63.44,408.38 66.51,408.4 69.59,408.42 72.67,408.44 75.75,408.46 78.83,408.49 81.9,408.8 84.98,409.57 88.06,410.72 91.14,411.86 94.22,412.66 97.29,413.33 100.37,413.5 103.45,413.67 106.53,413.7 109.61,413.7 112.68,413.7 115.76,413.7 118.84,413.7 121.92,413.7 125,413.7 128.07,413.7 131.15,413.7 134.23,413.7 137.31,413.7 140.39,413.7 143.46,413.7 146.54,413.7 149.62,413.7 152.7,413.7 155.78,413.7 158.85,413.7 161.93,413.7 165.01,413.7 168.09,413.7 171.17,413.7 174.24,413.7 177.32,413.7 180.4,413.7" fill="none" stroke="none" marker-start="url(#mBWO)" marker-mid="url(#mBWO)" marker-end="url(#mBWO)"/><path d="M26.5 329.3L28.4 340.2L30 340.5L64 340.5L66.9 343.5L180.4 343.6" fill="none" stroke="#d016d0" stroke-width="0.6" stroke-dasharray="2.2,1.6" stroke-linejoin="round"/><polyline points="26.5,329.3 29.58,340.42 32.66,340.5 35.73,340.5 38.81,340.5 41.89,340.5 44.97,340.5 48.05,340.5 51.12,340.5 54.2,340.5 57.28,340.5 60.36,340.5 63.44,340.5 66.51,343.1 69.59,343.5 72.67,343.51 75.75,343.51 78.83,343.51 81.9,343.51 84.98,343.52 88.06,343.52 91.14,343.52 94.22,343.52 97.29,343.53 100.37,343.53 103.45,343.53 106.53,343.53 109.61,343.54 112.68,343.54 115.76,343.54 118.84,343.55 121.92,343.55 125,343.55 128.07,343.55 131.15,343.56 134.23,343.56 137.31,343.56 140.39,343.56 143.46,343.57 146.54,343.57 149.62,343.57 152.7,343.58 155.78,343.58 158.85,343.58 161.93,343.58 165.01,343.59 168.09,343.59 171.17,343.59 174.24,343.59 177.32,343.6 180.4,343.6" fill="none" stroke="none" marker-start="url(#mSSA)" marker-mid="url(#mSSA)" marker-end="url(#mSSA)"/><path d="M26.5 332.2L29.8 364.2L32 379.1L34 379.8L51.6 380.3L54.5 383.5L63.3 384.2L67.6 384.9L70.5 388.5L96.7 389L98.9 395.1L104 395.8L112.9 396.3L114.4 400.6L126.7 400.9L128.9 408.2L131 408.6L180.4 408.6" fill="none" stroke="#1fa79d" stroke-width="0.55" stroke-linejoin="round"/><polyline points="26.5,332.2 29.58,362.05 32.66,379.33 35.73,379.85 38.81,379.94 41.89,380.02 44.97,380.11 48.05,380.2 51.12,380.29 54.2,383.17 57.28,383.72 60.36,383.97 63.44,384.22 66.51,384.72 69.59,387.37 72.67,388.54 75.75,388.6 78.83,388.66 81.9,388.72 84.98,388.78 88.06,388.84 91.14,388.89 94.22,388.95 97.29,390.65 100.37,395.3 103.45,395.72 106.53,395.94 109.61,396.11 112.68,396.29 115.76,400.63 118.84,400.71 121.92,400.78 125,400.86 128.07,405.46 131.15,408.6 134.23,408.6 137.31,408.6 140.39,408.6 143.46,408.6 146.54,408.6 149.62,408.6 152.7,408.6 155.78,408.6 158.85,408.6 161.93,408.6 165.01,408.6 168.09,408.6 171.17,408.6 174.24,408.6 177.32,408.6 180.4,408.6" fill="none" stroke="none" marker-start="url(#mABC)" marker-mid="url(#mABC)" marker-end="url(#mABC)"/><path d="M26.5 345L29.8 361.3L34.2 359.1L38.5 362L42.9 364.2L45.8 367.5L50.2 370.4L60.4 372.5L62.5 384.9L64.7 395.1L66.9 400.9L74.9 403.8L82.2 406L89.5 408.9L96.7 411.1L104 413.3L107.8 416.2L116.5 417.2L145.6 418.1L180.4 419.1" fill="none" stroke="#c8c8c8" stroke-width="0.45" stroke-linejoin="round"/><polyline points="26.5,345 29.58,360.2 32.66,359.87 35.73,360.13 38.81,362.16 41.89,363.69 44.97,366.55 48.05,368.98 51.12,370.59 54.2,371.22 57.28,371.86 60.36,372.49 63.44,389.24 66.51,399.88 69.59,401.88 72.67,402.99 75.75,404.06 78.83,404.98 81.9,405.91 84.98,407.11 88.06,408.33 91.14,409.4 94.22,410.34 97.29,411.28 100.37,412.21 103.45,413.13 106.53,415.23 109.61,416.41 112.68,416.76 115.76,417.12 118.84,417.27 121.92,417.37 125,417.46 128.07,417.56 131.15,417.65 134.23,417.75 137.31,417.84 140.39,417.94 143.46,418.03 146.54,418.13 149.62,418.22 152.7,418.3 155.78,418.39 158.85,418.48 161.93,418.57 165.01,418.66 168.09,418.75 171.17,418.83 174.24,418.92 177.32,419.01 180.4,419.1" fill="none" stroke="none" marker-start="url(#mVASPSO)" marker-mid="url(#mVASPSO)" marker-end="url(#mVASPSO)"/></g>
<text transform="translate(26.5 436.1) scale(1 1.078)" font-size="4.75" text-anchor="middle">0</text><text transform="translate(52.15 436.1) scale(1 1.078)" font-size="4.75" text-anchor="middle">100</text><text transform="translate(77.8 436.1) scale(1 1.078)" font-size="4.75" text-anchor="middle">200</text><text transform="translate(103.45 436.1) scale(1 1.078)" font-size="4.75" text-anchor="middle">300</text><text transform="translate(129.1 436.1) scale(1 1.078)" font-size="4.75" text-anchor="middle">400</text><text transform="translate(154.75 436.1) scale(1 1.078)" font-size="4.75" text-anchor="middle">500</text><text transform="translate(180.4 436.1) scale(1 1.078)" font-size="4.75" text-anchor="middle">600</text><text transform="translate(20.95 310) scale(1 1.078)" font-size="4.7" text-anchor="end">10</text><text transform="translate(21.05 307.4) scale(1 1.078)" font-size="3.2">10</text><text transform="translate(22.72 334.26) scale(1 1.078)" font-size="4.7" text-anchor="end">10</text><text transform="translate(22.82 331.66) scale(1 1.078)" font-size="3.2">9</text><text transform="translate(22.72 358.52) scale(1 1.078)" font-size="4.7" text-anchor="end">10</text><text transform="translate(22.82 355.92) scale(1 1.078)" font-size="3.2">8</text><text transform="translate(22.72 382.78) scale(1 1.078)" font-size="4.7" text-anchor="end">10</text><text transform="translate(22.82 380.18) scale(1 1.078)" font-size="3.2">7</text><text transform="translate(22.72 407.04) scale(1 1.078)" font-size="4.7" text-anchor="end">10</text><text transform="translate(22.82 404.44) scale(1 1.078)" font-size="3.2">6</text><text transform="translate(22.72 431.3) scale(1 1.078)" font-size="4.7" text-anchor="end">10</text><text transform="translate(22.82 428.7) scale(1 1.078)" font-size="3.2">5</text><text transform="translate(103.45 443.1) scale(1 1.078)" font-size="5.05" text-anchor="middle">Iterations</text><text transform="translate(103.45 304.5) scale(1 1.078)" font-size="5.05" text-anchor="middle">Hybrid Function 6 (N = 5)</text><text transform="translate(10.75 367.85) rotate(-90)" font-size="5.03" text-anchor="middle">Objective function value</text>
<rect x="141.2" y="310.4" width="35.6" height="48.0" fill="#fff" stroke="#a0a0a0" stroke-width="0.45"/><path d="M142.6 314.6H156.6" stroke="#ff00ff" stroke-width="0.6" fill="none"/><rect x="148.82" y="313.72" width="1.76" height="1.76" fill="#ff00ff"/><text transform="translate(157.9 316.3) scale(1 1.078)" font-size="4.5">DE</text><path d="M142.6 320.47H156.6" stroke="#4488d6" stroke-width="0.5" fill="none"/><path d="M148.44 320.47L149.7 319.2L150.97 320.47L149.7 321.73Z" fill="#4488d6"/><text transform="translate(157.9 322.17) scale(1 1.078)" font-size="4.5">GWO</text><path d="M142.6 326.34H156.6" stroke="#ff1493" stroke-width="0.6" fill="none"/><circle cx="149.7" cy="326.34" r="1.26" fill="#ff1493"/><text transform="translate(157.9 328.04) scale(1 1.078)" font-size="4.5">CSO</text><path d="M142.6 332.21H156.6" stroke="#1c1c9c" stroke-width="0.75" stroke-dasharray="2.2,1.6" fill="none"/><polygon points="149.7,330.5 150.12,331.63 151.32,331.68 150.38,332.43 150.7,333.59 149.7,332.93 148.7,333.59 149.02,332.43 148.08,331.68 149.28,331.63" fill="#1c1c9c" stroke="#1c1c9c" stroke-width="0.3"/><text transform="translate(157.9 333.91) scale(1 1.078)" font-size="4.5">DBO</text><path d="M142.6 338.08H156.6" stroke="#8c7cff" stroke-width="0.55" stroke-dasharray="2.0,1.4,0.6,1.4" fill="none"/><rect x="148.9" y="337.28" width="1.59" height="1.59" fill="#8c7cff"/><text transform="translate(157.9 339.78) scale(1 1.078)" font-size="4.5">BWO</text><path d="M142.6 343.95H156.6" stroke="#d016d0" stroke-width="0.6" stroke-dasharray="2.2,1.6" fill="none"/><path d="M148.27 342.23L151.7 343.95L148.27 345.67Z" fill="none" stroke="#d016d0" stroke-width="0.55"/><text transform="translate(157.9 345.65) scale(1 1.078)" font-size="4.5">SSA</text><path d="M142.6 349.82H156.6" stroke="#1fa79d" stroke-width="0.55" fill="none"/><circle cx="149.7" cy="349.82" r="1.38" fill="none" stroke="#1fa79d" stroke-width="0.62"/><text transform="translate(157.9 351.52) scale(1 1.078)" font-size="4.5">ABC</text><path d="M142.6 355.69H156.6" stroke="#c8c8c8" stroke-width="0.45" fill="none"/><path d="M151.08 354.04L147.78 355.69L151.08 357.34Z" fill="none" stroke="#c8c8c8" stroke-width="0.4"/><text transform="translate(157.9 357.39) scale(1 1.078)" font-size="4.5">VASPSO</text>
<path d="M236.17 307.5V428.8" stroke="#efefef" stroke-width="0.5"/><path d="M261.83 307.5V428.8" stroke="#efefef" stroke-width="0.5"/><path d="M287.5 307.5V428.8" stroke="#efefef" stroke-width="0.5"/><path d="M313.17 307.5V428.8" stroke="#efefef" stroke-width="0.5"/><path d="M338.83 307.5V428.8" stroke="#efefef" stroke-width="0.5"/><path d="M210.5 427.84H364.5" stroke="#f3f3f3" stroke-width="0.4"/><path d="M210.5 423.43H364.5" stroke="#f3f3f3" stroke-width="0.4"/><path d="M210.5 419.11H364.5" stroke="#f3f3f3" stroke-width="0.4"/><path d="M210.5 414.89H364.5" stroke="#f3f3f3" stroke-width="0.4"/><path d="M210.5 410.74H364.5" stroke="#f3f3f3" stroke-width="0.4"/><path d="M210.5 406.69H364.5" stroke="#f3f3f3" stroke-width="0.4"/><path d="M210.5 402.7H364.5" stroke="#f3f3f3" stroke-width="0.4"/><path d="M210.5 398.8H364.5" stroke="#f3f3f3" stroke-width="0.4"/><path d="M210.5 394.97H364.5" stroke="#f3f3f3" stroke-width="0.4"/><path d="M210.5 391.21H364.5" stroke="#f3f3f3" stroke-width="0.4"/><path d="M210.5 387.51H364.5" stroke="#f3f3f3" stroke-width="0.4"/><path d="M210.5 383.89H364.5" stroke="#f3f3f3" stroke-width="0.4"/><path d="M210.5 380.32H364.5" stroke="#f3f3f3" stroke-width="0.4"/><path d="M210.5 376.82H364.5" stroke="#f3f3f3" stroke-width="0.4"/><path d="M210.5 373.37H364.5" stroke="#f3f3f3" stroke-width="0.4"/><path d="M210.5 369.98H364.5" stroke="#f3f3f3" stroke-width="0.4"/><path d="M210.5 366.65H364.5" stroke="#f3f3f3" stroke-width="0.4"/><path d="M210.5 363.37H364.5" stroke="#f3f3f3" stroke-width="0.4"/><path d="M210.5 360.14H364.5" stroke="#f3f3f3" stroke-width="0.4"/><path d="M210.5 356.96H364.5" stroke="#f3f3f3" stroke-width="0.4"/><path d="M210.5 353.83H364.5" stroke="#f3f3f3" stroke-width="0.4"/><path d="M210.5 350.75H364.5" stroke="#f3f3f3" stroke-width="0.4"/><path d="M210.5 347.71H364.5" stroke="#f3f3f3" stroke-width="0.4"/><path d="M210.5 344.72H364.5" stroke="#f3f3f3" stroke-width="0.4"/><path d="M210.5 341.77H364.5" stroke="#f3f3f3" stroke-width="0.4"/><path d="M210.5 338.86H364.5" stroke="#f3f3f3" stroke-width="0.4"/><path d="M210.5 336H364.5" stroke="#f3f3f3" stroke-width="0.4"/><path d="M210.5 333.17H364.5" stroke="#f3f3f3" stroke-width="0.4"/><path d="M210.5 330.38H364.5" stroke="#f3f3f3" stroke-width="0.4"/><path d="M210.5 327.63H364.5" stroke="#f3f3f3" stroke-width="0.4"/><path d="M210.5 324.91H364.5" stroke="#f3f3f3" stroke-width="0.4"/><path d="M210.5 322.23H364.5" stroke="#f3f3f3" stroke-width="0.4"/><path d="M210.5 319.59H364.5" stroke="#f3f3f3" stroke-width="0.4"/><path d="M210.5 316.98H364.5" stroke="#f3f3f3" stroke-width="0.4"/><path d="M210.5 314.4H364.5" stroke="#f3f3f3" stroke-width="0.4"/><path d="M210.5 311.85H364.5" stroke="#f3f3f3" stroke-width="0.4"/><path d="M210.5 309.34H364.5" stroke="#f3f3f3" stroke-width="0.4"/><path d="M210.5 314.4H364.5" stroke="#efefef" stroke-width="0.5"/><path d="M210.5 325.1H364.5" stroke="#efefef" stroke-width="0.5"/><path d="M210.5 336.9H364.5" stroke="#efefef" stroke-width="0.5"/><path d="M210.5 348.3H364.5" stroke="#efefef" stroke-width="0.5"/><path d="M210.5 361H364.5" stroke="#efefef" stroke-width="0.5"/><path d="M210.5 373.5H364.5" stroke="#efefef" stroke-width="0.5"/><path d="M210.5 387H364.5" stroke="#efefef" stroke-width="0.5"/><path d="M210.5 402.8H364.5" stroke="#efefef" stroke-width="0.5"/><path d="M210.5 419.1H364.5" stroke="#efefef" stroke-width="0.5"/>
<rect x="210.5" y="307.5" width="154" height="121.3" fill="none" stroke="#909090" stroke-width="0.7"/>
<path d="M210.5 428.8v-1.4M210.5 307.5v1.4M236.17 428.8v-1.4M236.17 307.5v1.4M261.83 428.8v-1.4M261.83 307.5v1.4M287.5 428.8v-1.4M287.5 307.5v1.4M313.17 428.8v-1.4M313.17 307.5v1.4M338.83 428.8v-1.4M338.83 307.5v1.4M364.5 428.8v-1.4M364.5 307.5v1.4M210.5 314.4h1.4M364.5 314.4h-1.4M210.5 325.1h1.4M364.5 325.1h-1.4M210.5 336.9h1.4M364.5 336.9h-1.4M210.5 348.3h1.4M364.5 348.3h-1.4M210.5 361h1.4M364.5 361h-1.4M210.5 373.5h1.4M364.5 373.5h-1.4M210.5 387h1.4M364.5 387h-1.4M210.5 402.8h1.4M364.5 402.8h-1.4M210.5 419.1h1.4M364.5 419.1h-1.4" stroke="#909090" stroke-width="0.45" fill="none"/>
<clipPath id="c55"><rect x="208.5" y="305.5" width="158" height="125.3"/></clipPath><g clip-path="url(#c55)"><path d="M210.5 320.5L212.4 349.6L215.3 359.1L217 359.4L261.1 359.4L263.3 362L265 362.3L364.5 362.3" fill="none" stroke="#ff00ff" stroke-width="0.6" stroke-linejoin="round"/><polyline points="210.5,320.5 213.58,353.47 216.66,359.34 219.74,359.4 222.82,359.4 225.9,359.4 228.98,359.4 232.06,359.4 235.14,359.4 238.22,359.4 241.3,359.4 244.38,359.4 247.46,359.4 250.54,359.4 253.62,359.4 256.7,359.4 259.78,359.4 262.86,361.48 265.94,362.3 269.02,362.3 272.1,362.3 275.18,362.3 278.26,362.3 281.34,362.3 284.42,362.3 287.5,362.3 290.58,362.3 293.66,362.3 296.74,362.3 299.82,362.3 302.9,362.3 305.98,362.3 309.06,362.3 312.14,362.3 315.22,362.3 318.3,362.3 321.38,362.3 324.46,362.3 327.54,362.3 330.62,362.3 333.7,362.3 336.78,362.3 339.86,362.3 342.94,362.3 346.02,362.3 349.1,362.3 352.18,362.3 355.26,362.3 358.34,362.3 361.42,362.3 364.5,362.3" fill="none" stroke="none" marker-start="url(#mDE)" marker-mid="url(#mDE)" marker-end="url(#mDE)"/><path d="M210.5 332.9L213.8 354L216.7 362L218 362.3L364.5 362.3" fill="none" stroke="#4488d6" stroke-width="0.5" stroke-linejoin="round"/><polyline points="210.5,332.9 213.58,352.59 216.66,361.89 219.74,362.3 222.82,362.3 225.9,362.3 228.98,362.3 232.06,362.3 235.14,362.3 238.22,362.3 241.3,362.3 244.38,362.3 247.46,362.3 250.54,362.3 253.62,362.3 256.7,362.3 259.78,362.3 262.86,362.3 265.94,362.3 269.02,362.3 272.1,362.3 275.18,362.3 278.26,362.3 281.34,362.3 284.42,362.3 287.5,362.3 290.58,362.3 293.66,362.3 296.74,362.3 299.82,362.3 302.9,362.3 305.98,362.3 309.06,362.3 312.14,362.3 315.22,362.3 318.3,362.3 321.38,362.3 324.46,362.3 327.54,362.3 330.62,362.3 333.7,362.3 336.78,362.3 339.86,362.3 342.94,362.3 346.02,362.3 349.1,362.3 352.18,362.3 355.26,362.3 358.34,362.3 361.42,362.3 364.5,362.3" fill="none" stroke="none" marker-start="url(#mGWO)" marker-mid="url(#mGWO)" marker-end="url(#mGWO)"/><path d="M210.5 307.5L211.6 335.1L213.8 366L216.7 371.1L220.4 371.5L222.5 393.6L229.1 393.9L232.7 400.9L235.6 402.4L238.5 408.2L263.3 408.5L266.2 413.7L268 414L286 414L297.6 414.7L302 416.2L315.1 417.2L329.6 418.1L339.8 419.1L351.5 420.5L364.5 421.3" fill="none" stroke="#ff1493" stroke-width="0.6" stroke-linejoin="round"/><polyline points="210.5,307.5 213.58,362.91 216.66,371.03 219.74,371.43 222.82,393.61 225.9,393.75 228.98,393.89 232.06,399.66 235.14,402.16 238.22,407.64 241.3,408.23 244.38,408.27 247.46,408.31 250.54,408.35 253.62,408.38 256.7,408.42 259.78,408.46 262.86,408.49 265.94,413.23 269.02,414 272.1,414 275.18,414 278.26,414 281.34,414 284.42,414 287.5,414.09 290.58,414.28 293.66,414.46 296.74,414.65 299.82,415.46 302.9,416.27 305.98,416.5 309.06,416.74 312.14,416.97 315.22,417.21 318.3,417.4 321.38,417.59 324.46,417.78 327.54,417.97 330.62,418.2 333.7,418.5 336.78,418.8 339.86,419.11 342.94,419.48 346.02,419.84 349.1,420.21 352.18,420.54 355.26,420.73 358.34,420.92 361.42,421.11 364.5,421.3" fill="none" stroke="none" marker-start="url(#mCSO)" marker-mid="url(#mCSO)" marker-end="url(#mCSO)"/><path d="M210.5 332.9L213.8 364.2L216.7 370.4L226.2 371.8L228.4 392.2L241.5 392.6L244.4 395.8L254.5 396.5L267.6 396.8L270.5 399.5L277.8 400.9L282.2 402.4L288 403L290 404.1L307.8 404.1L310 406.7L312 407.2L364.5 407.6" fill="none" stroke="#1c1c9c" stroke-width="0.75" stroke-dasharray="2.2,1.6" stroke-linejoin="round"/><polyline points="210.5,332.9 213.58,362.11 216.66,370.31 219.74,370.85 222.82,371.3 225.9,371.76 228.98,392.22 232.06,392.31 235.14,392.41 238.22,392.5 241.3,392.59 244.38,395.78 247.46,396.01 250.54,396.23 253.62,396.44 256.7,396.55 259.78,396.62 262.86,396.69 265.94,396.76 269.02,398.12 272.1,399.81 275.18,400.4 278.26,401.06 281.34,402.11 284.42,402.63 287.5,402.95 290.58,404.1 293.66,404.1 296.74,404.1 299.82,404.1 302.9,404.1 305.98,404.1 309.06,405.59 312.14,407.2 315.22,407.22 318.3,407.25 321.38,407.27 324.46,407.29 327.54,407.32 330.62,407.34 333.7,407.37 336.78,407.39 339.86,407.41 342.94,407.44 346.02,407.46 349.1,407.48 352.18,407.51 355.26,407.53 358.34,407.55 361.42,407.58 364.5,407.6" fill="none" stroke="none" marker-start="url(#mDBO)" marker-mid="url(#mDBO)" marker-end="url(#mDBO)"/><path d="M210.5 338L211.6 370.4L213.1 386.4L216.7 393.6L222.5 397.3L229.8 400.9L237.1 403.8L244.4 405.3L251.6 408.2L254 408.5L364.5 408.5" fill="none" stroke="#8c7cff" stroke-width="0.55" stroke-dasharray="2.0,1.4,0.6,1.4" stroke-linejoin="round"/><polyline points="210.5,338 213.58,387.36 216.66,393.52 219.74,395.54 222.82,397.46 225.9,398.98 228.98,400.5 232.06,401.8 235.14,403.02 238.22,404.03 241.3,404.66 244.38,405.3 247.46,406.53 250.54,407.77 253.62,408.45 256.7,408.5 259.78,408.5 262.86,408.5 265.94,408.5 269.02,408.5 272.1,408.5 275.18,408.5 278.26,408.5 281.34,408.5 284.42,408.5 287.5,408.5 290.58,408.5 293.66,408.5 296.74,408.5 299.82,408.5 302.9,408.5 305.98,408.5 309.06,408.5 312.14,408.5 315.22,408.5 318.3,408.5 321.38,408.5 324.46,408.5 327.54,408.5 330.62,408.5 333.7,408.5 336.78,408.5 339.86,408.5 342.94,408.5 346.02,408.5 349.1,408.5 352.18,408.5 355.26,408.5 358.34,408.5 361.42,408.5 364.5,408.5" fill="none" stroke="none" marker-start="url(#mBWO)" marker-mid="url(#mBWO)" marker-end="url(#mBWO)"/><path d="M210.5 320.5L211.6 333.6L216.7 340.2L219.6 346L222.5 351.8L224 352.3L244.4 352.3L246.1 354L247.3 367.2L249 367.5L261.8 367.5L264 371.1L266 371.4L277.1 371.4L278.5 380.5L284.4 381.7L285.8 386.4L304.9 386.4L306.4 392.9L308 393.2L364.5 393.2" fill="none" stroke="#d016d0" stroke-width="0.6" stroke-dasharray="2.2,1.6" stroke-linejoin="round"/><polyline points="210.5,320.5 213.58,336.16 216.66,340.15 219.74,346.28 222.82,351.91 225.9,352.3 228.98,352.3 232.06,352.3 235.14,352.3 238.22,352.3 241.3,352.3 244.38,352.3 247.46,367.23 250.54,367.5 253.62,367.5 256.7,367.5 259.78,367.5 262.86,369.23 265.94,371.39 269.02,371.4 272.1,371.4 275.18,371.4 278.26,378.94 281.34,381.08 284.42,381.77 287.5,386.4 290.58,386.4 293.66,386.4 296.74,386.4 299.82,386.4 302.9,386.4 305.98,391.08 309.06,393.2 312.14,393.2 315.22,393.2 318.3,393.2 321.38,393.2 324.46,393.2 327.54,393.2 330.62,393.2 333.7,393.2 336.78,393.2 339.86,393.2 342.94,393.2 346.02,393.2 349.1,393.2 352.18,393.2 355.26,393.2 358.34,393.2 361.42,393.2 364.5,393.2" fill="none" stroke="none" marker-start="url(#mSSA)" marker-mid="url(#mSSA)" marker-end="url(#mSSA)"/><path d="M210.5 335.1L213.8 349.6L216.7 367.5L220.4 371.8L222.5 380.5L228.4 381.7L237.1 382.3L251.6 382.7L254.5 384.6L266.2 385.6L276.4 387.1L278.5 394.4L282.2 397.3L288 399L315.1 399.7L329.6 402.1L347.1 402.7L355.8 404.1L364.5 405" fill="none" stroke="#1fa79d" stroke-width="0.55" stroke-linejoin="round"/><polyline points="210.5,335.1 213.58,348.63 216.66,367.25 219.74,371.03 222.82,380.57 225.9,381.19 228.98,381.74 232.06,381.95 235.14,382.16 238.22,382.33 241.3,382.42 244.38,382.5 247.46,382.59 250.54,382.67 253.62,384.02 256.7,384.79 259.78,385.05 262.86,385.31 265.94,385.58 269.02,386.01 272.1,386.47 275.18,386.92 278.26,393.57 281.34,396.63 284.42,397.95 287.5,398.85 290.58,399.07 293.66,399.15 296.74,399.23 299.82,399.31 302.9,399.38 305.98,399.46 309.06,399.54 312.14,399.62 315.22,399.72 318.3,400.23 321.38,400.74 324.46,401.25 327.54,401.76 330.62,402.13 333.7,402.24 336.78,402.35 339.86,402.45 342.94,402.56 346.02,402.66 349.1,403.02 352.18,403.52 355.26,404.01 358.34,404.36 361.42,404.68 364.5,405" fill="none" stroke="none" marker-start="url(#mABC)" marker-mid="url(#mABC)" marker-end="url(#mABC)"/><path d="M210.5 334L215.3 349.6L218.2 362.7L222.5 367.5L226.9 373.3L232.7 380.5L237.1 390.7L239.3 400.9L244.4 404.5L250.2 404.5L253.1 411.1L258.9 415.5L266.2 420.5L270.5 425.3L274.9 427.4L288 428.2L364.5 428.4" fill="none" stroke="#c8c8c8" stroke-width="0.45" stroke-linejoin="round"/><polyline points="210.5,334 213.58,344.01 216.66,355.74 219.74,364.42 222.82,367.92 225.9,371.98 228.98,375.88 232.06,379.71 235.14,386.16 238.22,395.89 241.3,402.31 244.38,404.49 247.46,404.5 250.54,405.27 253.62,411.49 256.7,413.83 259.78,416.1 262.86,418.21 265.94,420.32 269.02,423.65 272.1,426.06 275.18,427.42 278.26,427.61 281.34,427.79 284.42,427.98 287.5,428.17 290.58,428.21 293.66,428.21 296.74,428.22 299.82,428.23 302.9,428.24 305.98,428.25 309.06,428.26 312.14,428.26 315.22,428.27 318.3,428.28 321.38,428.29 324.46,428.3 327.54,428.3 330.62,428.31 333.7,428.32 336.78,428.33 339.86,428.34 342.94,428.34 346.02,428.35 349.1,428.36 352.18,428.37 355.26,428.38 358.34,428.38 361.42,428.39 364.5,428.4" fill="none" stroke="none" marker-start="url(#mVASPSO)" marker-mid="url(#mVASPSO)" marker-end="url(#mVASPSO)"/></g>
<text transform="translate(210.5 436.1) scale(1 1.078)" font-size="4.75" text-anchor="middle">0</text><text transform="translate(236.17 436.1) scale(1 1.078)" font-size="4.75" text-anchor="middle">100</text><text transform="translate(261.83 436.1) scale(1 1.078)" font-size="4.75" text-anchor="middle">200</text><text transform="translate(287.5 436.1) scale(1 1.078)" font-size="4.75" text-anchor="middle">300</text><text transform="translate(313.17 436.1) scale(1 1.078)" font-size="4.75" text-anchor="middle">400</text><text transform="translate(338.83 436.1) scale(1 1.078)" font-size="4.75" text-anchor="middle">500</text><text transform="translate(364.5 436.1) scale(1 1.078)" font-size="4.75" text-anchor="middle">600</text><text transform="translate(208.4 316.3) scale(1 1.078)" font-size="4.75" text-anchor="end">4000</text><text transform="translate(208.4 327) scale(1 1.078)" font-size="4.75" text-anchor="end">3800</text><text transform="translate(208.4 338.8) scale(1 1.078)" font-size="4.75" text-anchor="end">3600</text><text transform="translate(208.4 350.2) scale(1 1.078)" font-size="4.75" text-anchor="end">3400</text><text transform="translate(208.4 362.9) scale(1 1.078)" font-size="4.75" text-anchor="end">3200</text><text transform="translate(208.4 375.4) scale(1 1.078)" font-size="4.75" text-anchor="end">3000</text><text transform="translate(208.4 388.9) scale(1 1.078)" font-size="4.75" text-anchor="end">2800</text><text transform="translate(208.4 404.7) scale(1 1.078)" font-size="4.75" text-anchor="end">2600</text><text transform="translate(208.4 421) scale(1 1.078)" font-size="4.75" text-anchor="end">2400</text><text transform="translate(287.5 443.1) scale(1 1.078)" font-size="5.05" text-anchor="middle">Iterations</text><text transform="translate(287.5 304.5) scale(1 1.078)" font-size="5.05" text-anchor="middle">Hybrid Function 8 (N = 6)</text><text transform="translate(194.75 367.85) rotate(-90)" font-size="5.03" text-anchor="middle">Objective function value</text>
<rect x="325.3" y="310.4" width="35.6" height="48.0" fill="#fff" stroke="#a0a0a0" stroke-width="0.45"/><path d="M326.7 314.6H340.7" stroke="#ff00ff" stroke-width="0.6" fill="none"/><rect x="332.92" y="313.72" width="1.76" height="1.76" fill="#ff00ff"/><text transform="translate(342 316.3) scale(1 1.078)" font-size="4.5">DE</text><path d="M326.7 320.47H340.7" stroke="#4488d6" stroke-width="0.5" fill="none"/><path d="M332.53 320.47L333.8 319.2L335.06 320.47L333.8 321.73Z" fill="#4488d6"/><text transform="translate(342 322.17) scale(1 1.078)" font-size="4.5">GWO</text><path d="M326.7 326.34H340.7" stroke="#ff1493" stroke-width="0.6" fill="none"/><circle cx="333.8" cy="326.34" r="1.26" fill="#ff1493"/><text transform="translate(342 328.04) scale(1 1.078)" font-size="4.5">CSO</text><path d="M326.7 332.21H340.7" stroke="#1c1c9c" stroke-width="0.75" stroke-dasharray="2.2,1.6" fill="none"/><polygon points="333.8,330.5 334.22,331.63 335.42,331.68 334.48,332.43 334.8,333.59 333.8,332.93 332.8,333.59 333.12,332.43 332.18,331.68 333.38,331.63" fill="#1c1c9c" stroke="#1c1c9c" stroke-width="0.3"/><text transform="translate(342 333.91) scale(1 1.078)" font-size="4.5">DBO</text><path d="M326.7 338.08H340.7" stroke="#8c7cff" stroke-width="0.55" stroke-dasharray="2.0,1.4,0.6,1.4" fill="none"/><rect x="333" y="337.28" width="1.59" height="1.59" fill="#8c7cff"/><text transform="translate(342 339.78) scale(1 1.078)" font-size="4.5">BWO</text><path d="M326.7 343.95H340.7" stroke="#d016d0" stroke-width="0.6" stroke-dasharray="2.2,1.6" fill="none"/><path d="M332.37 342.23L335.8 343.95L332.37 345.67Z" fill="none" stroke="#d016d0" stroke-width="0.55"/><text transform="translate(342 345.65) scale(1 1.078)" font-size="4.5">SSA</text><path d="M326.7 349.82H340.7" stroke="#1fa79d" stroke-width="0.55" fill="none"/><circle cx="333.8" cy="349.82" r="1.38" fill="none" stroke="#1fa79d" stroke-width="0.62"/><text transform="translate(342 351.52) scale(1 1.078)" font-size="4.5">ABC</text><path d="M326.7 355.69H340.7" stroke="#c8c8c8" stroke-width="0.45" fill="none"/><path d="M335.17 354.04L331.87 355.69L335.17 357.34Z" fill="none" stroke="#c8c8c8" stroke-width="0.4"/><text transform="translate(342 357.39) scale(1 1.078)" font-size="4.5">VASPSO</text>
<path d="M412.67 307.5V428.8" stroke="#efefef" stroke-width="0.5"/><path d="M438.33 307.5V428.8" stroke="#efefef" stroke-width="0.5"/><path d="M464 307.5V428.8" stroke="#efefef" stroke-width="0.5"/><path d="M489.67 307.5V428.8" stroke="#efefef" stroke-width="0.5"/><path d="M515.33 307.5V428.8" stroke="#efefef" stroke-width="0.5"/><path d="M387 427.01H541" stroke="#f3f3f3" stroke-width="0.4"/><path d="M387 411.65H541" stroke="#f3f3f3" stroke-width="0.4"/><path d="M387 399.73H541" stroke="#f3f3f3" stroke-width="0.4"/><path d="M387 389.99H541" stroke="#f3f3f3" stroke-width="0.4"/><path d="M387 381.75H541" stroke="#f3f3f3" stroke-width="0.4"/><path d="M387 374.62H541" stroke="#f3f3f3" stroke-width="0.4"/><path d="M387 368.33H541" stroke="#f3f3f3" stroke-width="0.4"/><path d="M387 362.7H541" stroke="#f3f3f3" stroke-width="0.4"/><path d="M387 357.61H541" stroke="#f3f3f3" stroke-width="0.4"/><path d="M387 352.96H541" stroke="#f3f3f3" stroke-width="0.4"/><path d="M387 348.68H541" stroke="#f3f3f3" stroke-width="0.4"/><path d="M387 344.73H541" stroke="#f3f3f3" stroke-width="0.4"/><path d="M387 341.04H541" stroke="#f3f3f3" stroke-width="0.4"/><path d="M387 337.59H541" stroke="#f3f3f3" stroke-width="0.4"/><path d="M387 334.35H541" stroke="#f3f3f3" stroke-width="0.4"/><path d="M387 331.3H541" stroke="#f3f3f3" stroke-width="0.4"/><path d="M387 328.41H541" stroke="#f3f3f3" stroke-width="0.4"/><path d="M387 325.67H541" stroke="#f3f3f3" stroke-width="0.4"/><path d="M387 323.07H541" stroke="#f3f3f3" stroke-width="0.4"/><path d="M387 320.58H541" stroke="#f3f3f3" stroke-width="0.4"/><path d="M387 318.21H541" stroke="#f3f3f3" stroke-width="0.4"/><path d="M387 315.93H541" stroke="#f3f3f3" stroke-width="0.4"/><path d="M387 313.75H541" stroke="#f3f3f3" stroke-width="0.4"/><path d="M387 311.66H541" stroke="#f3f3f3" stroke-width="0.4"/><path d="M387 309.64H541" stroke="#f3f3f3" stroke-width="0.4"/><path d="M387 307.7H541" stroke="#f3f3f3" stroke-width="0.4"/><path d="M387 313.6H541" stroke="#efefef" stroke-width="0.5"/><path d="M387 325.1H541" stroke="#efefef" stroke-width="0.5"/><path d="M387 340.9H541" stroke="#efefef" stroke-width="0.5"/><path d="M387 362.2H541" stroke="#efefef" stroke-width="0.5"/><path d="M387 399.8H541" stroke="#efefef" stroke-width="0.5"/>
<rect x="387" y="307.5" width="154" height="121.3" fill="none" stroke="#909090" stroke-width="0.7"/>
<path d="M387 428.8v-1.4M387 307.5v1.4M412.67 428.8v-1.4M412.67 307.5v1.4M438.33 428.8v-1.4M438.33 307.5v1.4M464 428.8v-1.4M464 307.5v1.4M489.67 428.8v-1.4M489.67 307.5v1.4M515.33 428.8v-1.4M515.33 307.5v1.4M541 428.8v-1.4M541 307.5v1.4M387 313.6h1.4M541 313.6h-1.4M387 325.1h1.4M541 325.1h-1.4M387 340.9h1.4M541 340.9h-1.4M387 362.2h1.4M541 362.2h-1.4M387 399.8h1.4M541 399.8h-1.4" stroke="#909090" stroke-width="0.45" fill="none"/>
<clipPath id="c61"><rect x="385" y="305.5" width="158" height="125.3"/></clipPath><g clip-path="url(#c61)"><path d="M387 325L387.2 335.1L390.5 348.9L392.3 366L396.6 387.8L401 395.1L406.8 400.9L411.2 405.3L415.5 407.5L418.5 414L424.3 416.9L431.5 419.8L435.9 422L443.2 424.2L465 425.2L500 426L541 426.4" fill="none" stroke="#ff00ff" stroke-width="0.6" stroke-linejoin="round"/><polyline points="387,325 390.08,347.14 393.16,370.36 396.24,385.97 399.32,392.31 402.4,396.5 405.48,399.58 408.56,402.66 411.64,405.53 414.72,407.1 417.8,412.48 420.88,415.19 423.96,416.73 427.04,418 430.12,419.24 433.2,420.65 436.28,422.11 439.36,423.04 442.44,423.97 445.52,424.31 448.6,424.45 451.68,424.59 454.76,424.73 457.84,424.87 460.92,425.01 464,425.15 467.08,425.25 470.16,425.32 473.24,425.39 476.32,425.46 479.4,425.53 482.48,425.6 485.56,425.67 488.64,425.74 491.72,425.81 494.8,425.88 497.88,425.95 500.96,426.01 504.04,426.04 507.12,426.07 510.2,426.1 513.28,426.13 516.36,426.16 519.44,426.19 522.52,426.22 525.6,426.25 528.68,426.28 531.76,426.31 534.84,426.34 537.92,426.37 541,426.4" fill="none" stroke="none" marker-start="url(#mDE)" marker-mid="url(#mDE)" marker-end="url(#mDE)"/><path d="M387 360L388 388L389.4 397.3L391 398.3L480 398.6L541 399.4" fill="none" stroke="#4488d6" stroke-width="0.5" stroke-linejoin="round"/><polyline points="387,360 390.08,397.73 393.16,398.31 396.24,398.32 399.32,398.33 402.4,398.34 405.48,398.35 408.56,398.36 411.64,398.37 414.72,398.38 417.8,398.39 420.88,398.4 423.96,398.41 427.04,398.42 430.12,398.43 433.2,398.44 436.28,398.45 439.36,398.46 442.44,398.47 445.52,398.48 448.6,398.49 451.68,398.5 454.76,398.51 457.84,398.53 460.92,398.54 464,398.55 467.08,398.56 470.16,398.57 473.24,398.58 476.32,398.59 479.4,398.6 482.48,398.63 485.56,398.67 488.64,398.71 491.72,398.75 494.8,398.79 497.88,398.83 500.96,398.87 504.04,398.92 507.12,398.96 510.2,399 513.28,399.04 516.36,399.08 519.44,399.12 522.52,399.16 525.6,399.2 528.68,399.24 531.76,399.28 534.84,399.32 537.92,399.36 541,399.4" fill="none" stroke="none" marker-start="url(#mGWO)" marker-mid="url(#mGWO)" marker-end="url(#mGWO)"/><path d="M387 356.9L388 395L390.1 416.9L392.3 423.5L396.6 425.3L406.8 425.9L465 426.4L541 427" fill="none" stroke="#ff1493" stroke-width="0.6" stroke-linejoin="round"/><polyline points="387,356.9 390.08,416.69 393.16,423.86 396.24,425.15 399.32,425.46 402.4,425.64 405.48,425.82 408.56,425.92 411.64,425.94 414.72,425.97 417.8,425.99 420.88,426.02 423.96,426.05 427.04,426.07 430.12,426.1 433.2,426.13 436.28,426.15 439.36,426.18 442.44,426.21 445.52,426.23 448.6,426.26 451.68,426.29 454.76,426.31 457.84,426.34 460.92,426.36 464,426.39 467.08,426.42 470.16,426.44 473.24,426.47 476.32,426.49 479.4,426.51 482.48,426.54 485.56,426.56 488.64,426.59 491.72,426.61 494.8,426.64 497.88,426.66 500.96,426.68 504.04,426.71 507.12,426.73 510.2,426.76 513.28,426.78 516.36,426.81 519.44,426.83 522.52,426.85 525.6,426.88 528.68,426.9 531.76,426.93 534.84,426.95 537.92,426.98 541,427" fill="none" stroke="none" marker-start="url(#mCSO)" marker-mid="url(#mCSO)" marker-end="url(#mCSO)"/><path d="M387 384.9L390.1 404.5L395.9 406L398.8 412.5L402.5 416.9L408.3 420.5L421.4 422.7L435.9 424.2L465 425.5L500 426.4L541 426.9" fill="none" stroke="#1c1c9c" stroke-width="0.75" stroke-dasharray="2.2,1.6" stroke-linejoin="round"/><polyline points="387,384.9 390.08,404.37 393.16,405.29 396.24,406.76 399.32,413.12 402.4,416.78 405.48,418.75 408.56,420.54 411.64,421.06 414.72,421.58 417.8,422.1 420.88,422.61 423.96,422.96 427.04,423.28 430.12,423.6 433.2,423.92 436.28,424.22 439.36,424.35 442.44,424.49 445.52,424.63 448.6,424.77 451.68,424.9 454.76,425.04 457.84,425.18 460.92,425.32 464,425.46 467.08,425.55 470.16,425.63 473.24,425.71 476.32,425.79 479.4,425.87 482.48,425.95 485.56,426.03 488.64,426.11 491.72,426.19 494.8,426.27 497.88,426.35 500.96,426.41 504.04,426.45 507.12,426.49 510.2,426.52 513.28,426.56 516.36,426.6 519.44,426.64 522.52,426.67 525.6,426.71 528.68,426.75 531.76,426.79 534.84,426.82 537.92,426.86 541,426.9" fill="none" stroke="none" marker-start="url(#mDBO)" marker-mid="url(#mDBO)" marker-end="url(#mDBO)"/><path d="M387 324.9L388.6 366L391.5 384.9L395.2 402.4L399.5 409.6L403.9 413.3L409.7 415.2L484.8 415.2L487.7 421.3L492.1 424.9L500 426.2L541 426.8" fill="none" stroke="#8c7cff" stroke-width="0.55" stroke-dasharray="2.0,1.4,0.6,1.4" stroke-linejoin="round"/><polyline points="387,324.9 390.08,375.65 393.16,392.75 396.24,404.14 399.32,409.3 402.4,412.04 405.48,413.82 408.56,414.83 411.64,415.2 414.72,415.2 417.8,415.2 420.88,415.2 423.96,415.2 427.04,415.2 430.12,415.2 433.2,415.2 436.28,415.2 439.36,415.2 442.44,415.2 445.52,415.2 448.6,415.2 451.68,415.2 454.76,415.2 457.84,415.2 460.92,415.2 464,415.2 467.08,415.2 470.16,415.2 473.24,415.2 476.32,415.2 479.4,415.2 482.48,415.2 485.56,416.8 488.64,422.07 491.72,424.59 494.8,425.34 497.88,425.85 500.96,426.21 504.04,426.26 507.12,426.3 510.2,426.35 513.28,426.39 516.36,426.44 519.44,426.48 522.52,426.53 525.6,426.57 528.68,426.62 531.76,426.66 534.84,426.71 537.92,426.75 541,426.8" fill="none" stroke="none" marker-start="url(#mBWO)" marker-mid="url(#mBWO)" marker-end="url(#mBWO)"/><path d="M387 371.8L387.9 392.2L389 392.9L541 392.9" fill="none" stroke="#d016d0" stroke-width="0.6" stroke-dasharray="2.2,1.6" stroke-linejoin="round"/><polyline points="387,371.8 390.08,392.9 393.16,392.9 396.24,392.9 399.32,392.9 402.4,392.9 405.48,392.9 408.56,392.9 411.64,392.9 414.72,392.9 417.8,392.9 420.88,392.9 423.96,392.9 427.04,392.9 430.12,392.9 433.2,392.9 436.28,392.9 439.36,392.9 442.44,392.9 445.52,392.9 448.6,392.9 451.68,392.9 454.76,392.9 457.84,392.9 460.92,392.9 464,392.9 467.08,392.9 470.16,392.9 473.24,392.9 476.32,392.9 479.4,392.9 482.48,392.9 485.56,392.9 488.64,392.9 491.72,392.9 494.8,392.9 497.88,392.9 500.96,392.9 504.04,392.9 507.12,392.9 510.2,392.9 513.28,392.9 516.36,392.9 519.44,392.9 522.52,392.9 525.6,392.9 528.68,392.9 531.76,392.9 534.84,392.9 537.92,392.9 541,392.9" fill="none" stroke="none" marker-start="url(#mSSA)" marker-mid="url(#mSSA)" marker-end="url(#mSSA)"/><path d="M387 307.5L388.5 340L390.1 366L393.7 379.1L398.1 392.2L402.5 402.4L406.8 411.1L414.1 416.2L421.4 419.8L428.6 422L435.9 423.5L465 425.2L500 426.2L541 426.6" fill="none" stroke="#1fa79d" stroke-width="0.55" stroke-linejoin="round"/><polyline points="387,307.5 390.08,365.67 393.16,377.14 396.24,386.66 399.32,395.03 402.4,402.17 405.48,408.43 408.56,412.33 411.64,414.48 414.72,416.51 417.8,418.02 420.88,419.54 423.96,420.58 427.04,421.52 430.12,422.31 433.2,422.95 436.28,423.52 439.36,423.7 442.44,423.88 445.52,424.06 448.6,424.24 451.68,424.42 454.76,424.6 457.84,424.78 460.92,424.96 464,425.14 467.08,425.26 470.16,425.35 473.24,425.44 476.32,425.52 479.4,425.61 482.48,425.7 485.56,425.79 488.64,425.88 491.72,425.96 494.8,426.05 497.88,426.14 500.96,426.21 504.04,426.24 507.12,426.27 510.2,426.3 513.28,426.33 516.36,426.36 519.44,426.39 522.52,426.42 525.6,426.45 528.68,426.48 531.76,426.51 534.84,426.54 537.92,426.57 541,426.6" fill="none" stroke="none" marker-start="url(#mABC)" marker-mid="url(#mABC)" marker-end="url(#mABC)"/><path d="M387 380L390.8 405.3L396.6 411.1L403.9 415.5L414.1 419.8L424.3 423L435.9 424.5L465 425.6L500 426.5L541 427" fill="none" stroke="#c8c8c8" stroke-width="0.45" stroke-linejoin="round"/><polyline points="387,380 390.08,400.51 393.16,407.66 396.24,410.74 399.32,412.74 402.4,414.6 405.48,416.17 408.56,417.46 411.64,418.76 414.72,419.99 417.8,420.96 420.88,421.93 423.96,422.89 427.04,423.35 430.12,423.75 433.2,424.15 436.28,424.51 439.36,424.63 442.44,424.75 445.52,424.86 448.6,424.98 451.68,425.1 454.76,425.21 457.84,425.33 460.92,425.45 464,425.56 467.08,425.65 470.16,425.73 473.24,425.81 476.32,425.89 479.4,425.97 482.48,426.05 485.56,426.13 488.64,426.21 491.72,426.29 494.8,426.37 497.88,426.45 500.96,426.51 504.04,426.55 507.12,426.59 510.2,426.62 513.28,426.66 516.36,426.7 519.44,426.74 522.52,426.77 525.6,426.81 528.68,426.85 531.76,426.89 534.84,426.92 537.92,426.96 541,427" fill="none" stroke="none" marker-start="url(#mVASPSO)" marker-mid="url(#mVASPSO)" marker-end="url(#mVASPSO)"/></g>
<text transform="translate(387 436.1) scale(1 1.078)" font-size="4.75" text-anchor="middle">0</text><text transform="translate(412.67 436.1) scale(1 1.078)" font-size="4.75" text-anchor="middle">100</text><text transform="translate(438.33 436.1) scale(1 1.078)" font-size="4.75" text-anchor="middle">200</text><text transform="translate(464 436.1) scale(1 1.078)" font-size="4.75" text-anchor="middle">300</text><text transform="translate(489.67 436.1) scale(1 1.078)" font-size="4.75" text-anchor="middle">400</text><text transform="translate(515.33 436.1) scale(1 1.078)" font-size="4.75" text-anchor="middle">500</text><text transform="translate(541 436.1) scale(1 1.078)" font-size="4.75" text-anchor="middle">600</text><text transform="translate(384.9 315.5) scale(1 1.078)" font-size="4.75" text-anchor="end">2.5</text><text transform="translate(384.9 327) scale(1 1.078)" font-size="4.75" text-anchor="end">2</text><text transform="translate(384.9 342.8) scale(1 1.078)" font-size="4.75" text-anchor="end">1.5</text><text transform="translate(384.9 364.1) scale(1 1.078)" font-size="4.75" text-anchor="end">1</text><text transform="translate(384.9 401.7) scale(1 1.078)" font-size="4.75" text-anchor="end">0.5</text><text transform="translate(388 306.3) scale(1 1.078)" font-size="4.6">×10</text><text transform="translate(396 304.2) scale(1 1.078)" font-size="3.2">4</text><text transform="translate(464 443.1) scale(1 1.078)" font-size="5.05" text-anchor="middle">Iterations</text><text transform="translate(464 304.5) scale(1 1.078)" font-size="5.05" text-anchor="middle">Composition Function 5 (N = 5)</text><text transform="translate(375.85 367.85) rotate(-90)" font-size="5.03" text-anchor="middle">Objective function value</text>
<rect x="501.8" y="310.4" width="35.6" height="48.0" fill="#fff" stroke="#a0a0a0" stroke-width="0.45"/><path d="M503.2 314.6H517.2" stroke="#ff00ff" stroke-width="0.6" fill="none"/><rect x="509.42" y="313.72" width="1.76" height="1.76" fill="#ff00ff"/><text transform="translate(518.5 316.3) scale(1 1.078)" font-size="4.5">DE</text><path d="M503.2 320.47H517.2" stroke="#4488d6" stroke-width="0.5" fill="none"/><path d="M509.03 320.47L510.3 319.2L511.56 320.47L510.3 321.73Z" fill="#4488d6"/><text transform="translate(518.5 322.17) scale(1 1.078)" font-size="4.5">GWO</text><path d="M503.2 326.34H517.2" stroke="#ff1493" stroke-width="0.6" fill="none"/><circle cx="510.3" cy="326.34" r="1.26" fill="#ff1493"/><text transform="translate(518.5 328.04) scale(1 1.078)" font-size="4.5">CSO</text><path d="M503.2 332.21H517.2" stroke="#1c1c9c" stroke-width="0.75" stroke-dasharray="2.2,1.6" fill="none"/><polygon points="510.3,330.5 510.72,331.63 511.92,331.68 510.98,332.43 511.3,333.59 510.3,332.93 509.3,333.59 509.62,332.43 508.68,331.68 509.88,331.63" fill="#1c1c9c" stroke="#1c1c9c" stroke-width="0.3"/><text transform="translate(518.5 333.91) scale(1 1.078)" font-size="4.5">DBO</text><path d="M503.2 338.08H517.2" stroke="#8c7cff" stroke-width="0.55" stroke-dasharray="2.0,1.4,0.6,1.4" fill="none"/><rect x="509.5" y="337.28" width="1.59" height="1.59" fill="#8c7cff"/><text transform="translate(518.5 339.78) scale(1 1.078)" font-size="4.5">BWO</text><path d="M503.2 343.95H517.2" stroke="#d016d0" stroke-width="0.6" stroke-dasharray="2.2,1.6" fill="none"/><path d="M508.87 342.23L512.3 343.95L508.87 345.67Z" fill="none" stroke="#d016d0" stroke-width="0.55"/><text transform="translate(518.5 345.65) scale(1 1.078)" font-size="4.5">SSA</text><path d="M503.2 349.82H517.2" stroke="#1fa79d" stroke-width="0.55" fill="none"/><circle cx="510.3" cy="349.82" r="1.38" fill="none" stroke="#1fa79d" stroke-width="0.62"/><text transform="translate(518.5 351.52) scale(1 1.078)" font-size="4.5">ABC</text><path d="M503.2 355.69H517.2" stroke="#c8c8c8" stroke-width="0.45" fill="none"/><path d="M511.67 354.04L508.37 355.69L511.67 357.34Z" fill="none" stroke="#c8c8c8" stroke-width="0.4"/><text transform="translate(518.5 357.39) scale(1 1.078)" font-size="4.5">VASPSO</text>
</svg>
</body></html>
